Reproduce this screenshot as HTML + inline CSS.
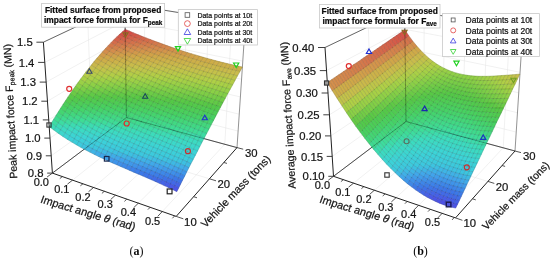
<!DOCTYPE html>
<html><head><meta charset="utf-8"><title>Fitted impact force surfaces</title>
<style>html,body{margin:0;padding:0;background:#fff;}svg{display:block;}</style></head>
<body><svg width="550" height="260" viewBox="0 0 550 260">
<rect width="550" height="260" fill="#fff"/>
<line x1="72.6" y1="180.1" x2="144.7" y2="122.5" stroke="#e2e2e2" stroke-width="0.5" />
<line x1="93.6" y1="187.4" x2="163.6" y2="127.6" stroke="#e2e2e2" stroke-width="0.5" />
<line x1="115.5" y1="195.1" x2="183.3" y2="132.9" stroke="#e2e2e2" stroke-width="0.5" />
<line x1="138.4" y1="203.1" x2="203.6" y2="138.5" stroke="#e2e2e2" stroke-width="0.5" />
<line x1="162.3" y1="211.5" x2="224.8" y2="144.2" stroke="#e2e2e2" stroke-width="0.5" />
<line x1="92.5" y1="143.0" x2="209.5" y2="178.8" stroke="#e2e2e2" stroke-width="0.5" />
<line x1="51.2" y1="155.8" x2="126.2" y2="102.3" stroke="#e2e2e2" stroke-width="0.5" />
<line x1="50.0" y1="138.1" x2="126.0" y2="86.8" stroke="#e2e2e2" stroke-width="0.5" />
<line x1="48.8" y1="119.9" x2="125.7" y2="70.9" stroke="#e2e2e2" stroke-width="0.5" />
<line x1="47.5" y1="101.2" x2="125.5" y2="54.7" stroke="#e2e2e2" stroke-width="0.5" />
<line x1="46.2" y1="82.1" x2="125.3" y2="38.1" stroke="#e2e2e2" stroke-width="0.5" />
<line x1="44.8" y1="62.4" x2="125.1" y2="21.1" stroke="#e2e2e2" stroke-width="0.5" />
<line x1="43.4" y1="42.2" x2="124.8" y2="3.8" stroke="#e2e2e2" stroke-width="0.5" />
<line x1="92.5" y1="143.0" x2="87.8" y2="21.2" stroke="#e2e2e2" stroke-width="0.5" />
<line x1="126.2" y1="102.3" x2="238.2" y2="131.1" stroke="#e2e2e2" stroke-width="0.5" />
<line x1="126.0" y1="86.8" x2="239.3" y2="114.2" stroke="#e2e2e2" stroke-width="0.5" />
<line x1="125.7" y1="70.9" x2="240.4" y2="96.9" stroke="#e2e2e2" stroke-width="0.5" />
<line x1="125.5" y1="54.7" x2="241.6" y2="79.2" stroke="#e2e2e2" stroke-width="0.5" />
<line x1="125.3" y1="38.1" x2="242.8" y2="61.1" stroke="#e2e2e2" stroke-width="0.5" />
<line x1="125.1" y1="21.1" x2="244.1" y2="42.5" stroke="#e2e2e2" stroke-width="0.5" />
<line x1="124.8" y1="3.8" x2="245.3" y2="23.4" stroke="#e2e2e2" stroke-width="0.5" />
<line x1="144.7" y1="122.5" x2="144.6" y2="7.0" stroke="#e2e2e2" stroke-width="0.5" />
<line x1="163.6" y1="127.6" x2="165.2" y2="10.3" stroke="#e2e2e2" stroke-width="0.5" />
<line x1="183.3" y1="132.9" x2="186.5" y2="13.8" stroke="#e2e2e2" stroke-width="0.5" />
<line x1="203.6" y1="138.5" x2="208.8" y2="17.4" stroke="#e2e2e2" stroke-width="0.5" />
<line x1="224.8" y1="144.2" x2="231.9" y2="21.2" stroke="#e2e2e2" stroke-width="0.5" />
<line x1="43.4" y1="42.2" x2="124.8" y2="3.8" stroke="#2a2a2a" stroke-width="0.7" />
<line x1="124.8" y1="3.8" x2="245.3" y2="23.4" stroke="#2a2a2a" stroke-width="0.7" />
<line x1="237.0" y1="147.6" x2="245.3" y2="23.4" stroke="#777" stroke-width="0.8" />
<line x1="52.4" y1="173.1" x2="126.4" y2="117.5" stroke="#2a2a2a" stroke-width="0.7" />
<line x1="126.4" y1="117.5" x2="237.0" y2="147.6" stroke="#2a2a2a" stroke-width="0.7" />
<line x1="126.4" y1="117.5" x2="124.8" y2="3.8" stroke="#2a2a2a" stroke-width="0.7" />
<g stroke-width="0.35" stroke-linejoin="round">
<polygon points="122.3,31.9 126.5,33.8 129.4,31.1 125.2,29.4" fill="#d44644" stroke="#d44644"/>
<polygon points="126.5,33.8 130.7,35.6 133.6,32.9 129.4,31.1" fill="#d44e46" stroke="#d44e46"/>
<polygon points="119.4,34.5 123.6,36.5 126.5,33.8 122.3,31.9" fill="#d44e46" stroke="#d44e46"/>
<polygon points="130.7,35.6 135.0,37.4 137.8,34.6 133.6,32.9" fill="#d55648" stroke="#d55648"/>
<polygon points="123.6,36.5 127.9,38.4 130.7,35.6 126.5,33.8" fill="#d55748" stroke="#d55748"/>
<polygon points="135.0,37.4 139.2,39.1 142.0,36.3 137.8,34.6" fill="#d55e49" stroke="#d55e49"/>
<polygon points="116.5,37.2 120.8,39.3 123.6,36.5 119.4,34.5" fill="#d55848" stroke="#d55848"/>
<polygon points="127.9,38.4 132.1,40.3 135.0,37.4 130.7,35.6" fill="#d5604a" stroke="#d5604a"/>
<polygon points="139.2,39.1 143.4,40.9 146.2,37.9 142.0,36.3" fill="#d5654a" stroke="#d5654a"/>
<polygon points="120.8,39.3 125.0,41.3 127.9,38.4 123.6,36.5" fill="#d5614a" stroke="#d5614a"/>
<polygon points="132.1,40.3 136.3,42.1 139.2,39.1 135.0,37.4" fill="#d5684a" stroke="#d5684a"/>
<polygon points="143.4,40.9 147.6,42.5 150.3,39.5 146.2,37.9" fill="#d56c4a" stroke="#d56c4a"/>
<polygon points="113.6,40.0 117.9,42.2 120.8,39.3 116.5,37.2" fill="#d5614a" stroke="#d5614a"/>
<polygon points="125.0,41.3 129.3,43.2 132.1,40.3 127.9,38.4" fill="#d56a4a" stroke="#d56a4a"/>
<polygon points="136.3,42.1 140.6,43.9 143.4,40.9 139.2,39.1" fill="#d56f4b" stroke="#d56f4b"/>
<polygon points="147.6,42.5 151.7,44.2 154.5,41.1 150.3,39.5" fill="#d5724b" stroke="#d5724b"/>
<polygon points="117.9,42.2 122.2,44.3 125.0,41.3 120.8,39.3" fill="#d56b4a" stroke="#d56b4a"/>
<polygon points="129.3,43.2 133.5,45.2 136.3,42.1 132.1,40.3" fill="#d5724b" stroke="#d5724b"/>
<polygon points="140.6,43.9 144.8,45.7 147.6,42.5 143.4,40.9" fill="#d5764b" stroke="#d5764b"/>
<polygon points="151.7,44.2 155.9,45.8 158.6,42.6 154.5,41.1" fill="#d4784b" stroke="#d4784b"/>
<polygon points="110.8,42.9 115.1,45.1 117.9,42.2 113.6,40.0" fill="#d56c4a" stroke="#d56c4a"/>
<polygon points="122.2,44.3 126.5,46.3 129.3,43.2 125.0,41.3" fill="#d5744b" stroke="#d5744b"/>
<polygon points="133.5,45.2 137.8,47.0 140.6,43.9 136.3,42.1" fill="#d47a4b" stroke="#d47a4b"/>
<polygon points="144.8,45.7 148.9,47.4 151.7,44.2 147.6,42.5" fill="#d47d4b" stroke="#d47d4b"/>
<polygon points="155.9,45.8 160.0,47.4 162.8,44.1 158.6,42.6" fill="#d47e4b" stroke="#d47e4b"/>
<polygon points="115.1,45.1 119.4,47.3 122.2,44.3 117.9,42.2" fill="#d5764b" stroke="#d5764b"/>
<polygon points="126.5,46.3 130.7,48.3 133.5,45.2 129.3,43.2" fill="#d47d4b" stroke="#d47d4b"/>
<polygon points="137.8,47.0 142.0,48.8 144.8,45.7 140.6,43.9" fill="#d4824b" stroke="#d4824b"/>
<polygon points="148.9,47.4 153.1,49.0 155.9,45.8 151.7,44.2" fill="#d4844c" stroke="#d4844c"/>
<polygon points="160.0,47.4 164.2,48.9 166.9,45.6 162.8,44.1" fill="#d4844c" stroke="#d4844c"/>
<polygon points="107.9,45.9 112.2,48.2 115.1,45.1 110.8,42.9" fill="#d5774b" stroke="#d5774b"/>
<polygon points="119.4,47.3 123.7,49.4 126.5,46.3 122.2,44.3" fill="#d4804b" stroke="#d4804b"/>
<polygon points="130.7,48.3 135.0,50.2 137.8,47.0 133.5,45.2" fill="#d4864c" stroke="#d4864c"/>
<polygon points="142.0,48.8 146.2,50.6 148.9,47.4 144.8,45.7" fill="#d4894c" stroke="#d4894c"/>
<polygon points="153.1,49.0 157.3,50.7 160.0,47.4 155.9,45.8" fill="#d48a4c" stroke="#d48a4c"/>
<polygon points="164.2,48.9 168.3,50.4 171.0,47.1 166.9,45.6" fill="#d4894c" stroke="#d4894c"/>
<polygon points="112.2,48.2 116.6,50.5 119.4,47.3 115.1,45.1" fill="#d4814b" stroke="#d4814b"/>
<polygon points="123.7,49.4 127.9,51.5 130.7,48.3 126.5,46.3" fill="#d4894c" stroke="#d4894c"/>
<polygon points="135.0,50.2 139.2,52.1 142.0,48.8 137.8,47.0" fill="#d48e4c" stroke="#d48e4c"/>
<polygon points="146.2,50.6 150.4,52.3 153.1,49.0 148.9,47.4" fill="#d4904c" stroke="#d4904c"/>
<polygon points="105.1,48.9 109.4,51.3 112.2,48.2 107.9,45.9" fill="#d4824b" stroke="#d4824b"/>
<polygon points="157.3,50.7 161.4,52.2 164.2,48.9 160.0,47.4" fill="#d4904c" stroke="#d4904c"/>
<polygon points="168.3,50.4 172.4,51.9 175.1,48.5 171.0,47.1" fill="#d48e4c" stroke="#d48e4c"/>
<polygon points="116.6,50.5 120.9,52.6 123.7,49.4 119.4,47.3" fill="#d48b4c" stroke="#d48b4c"/>
<polygon points="127.9,51.5 132.2,53.5 135.0,50.2 130.7,48.3" fill="#d4914c" stroke="#d4914c"/>
<polygon points="139.2,52.1 143.4,53.9 146.2,50.6 142.0,48.8" fill="#d3954b" stroke="#d3954b"/>
<polygon points="150.4,52.3 154.6,54.0 157.3,50.7 153.1,49.0" fill="#d3964b" stroke="#d3964b"/>
<polygon points="109.4,51.3 113.8,53.7 116.6,50.5 112.2,48.2" fill="#d48d4c" stroke="#d48d4c"/>
<polygon points="161.4,52.2 165.6,53.8 168.3,50.4 164.2,48.9" fill="#d3954b" stroke="#d3954b"/>
<polygon points="120.9,52.6 125.1,54.8 127.9,51.5 123.7,49.4" fill="#d3954b" stroke="#d3954b"/>
<polygon points="172.4,51.9 176.5,53.3 179.2,49.8 175.1,48.5" fill="#d3924c" stroke="#d3924c"/>
<polygon points="132.2,53.5 136.4,55.4 139.2,52.1 135.0,50.2" fill="#d2994a" stroke="#d2994a"/>
<polygon points="143.4,53.9 147.6,55.7 150.4,52.3 146.2,50.6" fill="#d29b4a" stroke="#d29b4a"/>
<polygon points="102.3,52.1 106.6,54.5 109.4,51.3 105.1,48.9" fill="#d48e4c" stroke="#d48e4c"/>
<polygon points="154.6,54.0 158.7,55.7 161.4,52.2 157.3,50.7" fill="#d29c4a" stroke="#d29c4a"/>
<polygon points="113.8,53.7 118.1,55.9 120.9,52.6 116.6,50.5" fill="#d2974b" stroke="#d2974b"/>
<polygon points="165.6,53.8 169.7,55.3 172.4,51.9 168.3,50.4" fill="#d29a4a" stroke="#d29a4a"/>
<polygon points="125.1,54.8 129.4,56.8 132.2,53.5 127.9,51.5" fill="#d19d4a" stroke="#d19d4a"/>
<polygon points="176.5,53.3 180.6,54.7 183.3,51.2 179.2,49.8" fill="#d3964b" stroke="#d3964b"/>
<polygon points="136.4,55.4 140.7,57.3 143.4,53.9 139.2,52.1" fill="#d1a149" stroke="#d1a149"/>
<polygon points="106.6,54.5 111.0,56.9 113.8,53.7 109.4,51.3" fill="#d2994b" stroke="#d2994b"/>
<polygon points="147.6,55.7 151.8,57.4 154.6,54.0 150.4,52.3" fill="#d1a249" stroke="#d1a249"/>
<polygon points="158.7,55.7 162.9,57.3 165.6,53.8 161.4,52.2" fill="#d1a149" stroke="#d1a149"/>
<polygon points="118.1,55.9 122.4,58.1 125.1,54.8 120.9,52.6" fill="#d1a049" stroke="#d1a049"/>
<polygon points="169.7,55.3 173.8,56.8 176.5,53.3 172.4,51.9" fill="#d19f4a" stroke="#d19f4a"/>
<polygon points="129.4,56.8 133.7,58.8 136.4,55.4 132.2,53.5" fill="#d0a549" stroke="#d0a549"/>
<polygon points="180.6,54.7 184.7,56.0 187.3,52.5 183.3,51.2" fill="#d29a4a" stroke="#d29a4a"/>
<polygon points="99.5,55.3 103.8,57.8 106.6,54.5 102.3,52.1" fill="#d29a4a" stroke="#d29a4a"/>
<polygon points="140.7,57.3 144.9,59.1 147.6,55.7 143.4,53.9" fill="#cfa848" stroke="#cfa848"/>
<polygon points="111.0,56.9 115.3,59.3 118.1,55.9 113.8,53.7" fill="#d0a349" stroke="#d0a349"/>
<polygon points="151.8,57.4 156.0,59.1 158.7,55.7 154.6,54.0" fill="#cfa848" stroke="#cfa848"/>
<polygon points="162.9,57.3 167.0,58.8 169.7,55.3 165.6,53.8" fill="#d0a649" stroke="#d0a649"/>
<polygon points="122.4,58.1 126.7,60.2 129.4,56.8 125.1,54.8" fill="#cfa948" stroke="#cfa948"/>
<polygon points="173.8,56.8 177.9,58.2 180.6,54.7 176.5,53.3" fill="#d0a349" stroke="#d0a349"/>
<polygon points="133.7,58.8 137.9,60.8 140.7,57.3 136.4,55.4" fill="#ceac48" stroke="#ceac48"/>
<polygon points="184.7,56.0 188.7,57.3 191.3,53.7 187.3,52.5" fill="#d19e4a" stroke="#d19e4a"/>
<polygon points="103.8,57.8 108.2,60.3 111.0,56.9 106.6,54.5" fill="#d0a549" stroke="#d0a549"/>
<polygon points="144.9,59.1 149.1,60.9 151.8,57.4 147.6,55.7" fill="#cead48" stroke="#cead48"/>
<polygon points="115.3,59.3 119.6,61.5 122.4,58.1 118.1,55.9" fill="#ceac48" stroke="#ceac48"/>
<polygon points="156.0,59.1 160.2,60.8 162.9,57.3 158.7,55.7" fill="#ceac48" stroke="#ceac48"/>
<polygon points="126.7,60.2 131.0,62.3 133.7,58.8 129.4,56.8" fill="#cdaf49" stroke="#cdaf49"/>
<polygon points="167.0,58.8 171.2,60.3 173.8,56.8 169.7,55.3" fill="#cfab48" stroke="#cfab48"/>
<polygon points="96.7,58.5 101.1,61.1 103.8,57.8 99.5,55.3" fill="#d0a649" stroke="#d0a649"/>
<polygon points="177.9,58.2 182.0,59.6 184.7,56.0 180.6,54.7" fill="#d0a748" stroke="#d0a748"/>
<polygon points="137.9,60.8 142.2,62.6 144.9,59.1 140.7,57.3" fill="#cdb049" stroke="#cdb049"/>
<polygon points="188.7,57.3 192.8,58.6 195.4,54.9 191.3,53.7" fill="#d1a149" stroke="#d1a149"/>
<polygon points="108.2,60.3 112.5,62.7 115.3,59.3 111.0,56.9" fill="#cead48" stroke="#cead48"/>
<polygon points="149.1,60.9 153.3,62.7 156.0,59.1 151.8,57.4" fill="#cdb049" stroke="#cdb049"/>
<polygon points="119.6,61.5 123.9,63.7 126.7,60.2 122.4,58.1" fill="#ccb149" stroke="#ccb149"/>
<polygon points="160.2,60.8 164.3,62.4 167.0,58.8 162.9,57.3" fill="#cdaf49" stroke="#cdaf49"/>
<polygon points="131.0,62.3 135.2,64.3 137.9,60.8 133.7,58.8" fill="#ccb349" stroke="#ccb349"/>
<polygon points="101.1,61.1 105.5,63.7 108.2,60.3 103.8,57.8" fill="#cdae49" stroke="#cdae49"/>
<polygon points="171.2,60.3 175.3,61.8 177.9,58.2 173.8,56.8" fill="#cead49" stroke="#cead49"/>
<polygon points="182.0,59.6 186.1,61.0 188.7,57.3 184.7,56.0" fill="#cfab48" stroke="#cfab48"/>
<polygon points="142.2,62.6 146.4,64.5 149.1,60.9 144.9,59.1" fill="#cbb44a" stroke="#cbb44a"/>
<polygon points="192.8,58.6 196.8,59.9 199.4,56.1 195.4,54.9" fill="#d0a449" stroke="#d0a449"/>
<polygon points="112.5,62.7 116.9,65.0 119.6,61.5 115.3,59.3" fill="#ccb349" stroke="#ccb349"/>
<polygon points="153.3,62.7 157.5,64.4 160.2,60.8 156.0,59.1" fill="#ccb449" stroke="#ccb449"/>
<polygon points="93.9,61.8 98.3,64.5 101.1,61.1 96.7,58.5" fill="#cdaf49" stroke="#cdaf49"/>
<polygon points="123.9,63.7 128.2,65.8 131.0,62.3 126.7,60.2" fill="#cbb64a" stroke="#cbb64a"/>
<polygon points="164.3,62.4 168.5,64.0 171.2,60.3 167.0,58.8" fill="#ccb349" stroke="#ccb349"/>
<polygon points="105.5,63.7 109.8,66.1 112.5,62.7 108.2,60.3" fill="#cbb54a" stroke="#cbb54a"/>
<polygon points="135.2,64.3 139.5,66.2 142.2,62.6 137.9,60.8" fill="#cab84a" stroke="#cab84a"/>
<polygon points="175.3,61.8 179.4,63.3 182.0,59.6 177.9,58.2" fill="#cdb049" stroke="#cdb049"/>
<polygon points="186.1,61.0 190.1,62.3 192.8,58.6 188.7,57.3" fill="#cead48" stroke="#cead48"/>
<polygon points="146.4,64.5 150.6,66.3 153.3,62.7 149.1,60.9" fill="#cab84a" stroke="#cab84a"/>
<polygon points="116.9,65.0 121.2,67.2 123.9,63.7 119.6,61.5" fill="#cab94a" stroke="#cab94a"/>
<polygon points="196.8,59.9 200.8,61.1 203.4,57.3 199.4,56.1" fill="#d0a748" stroke="#d0a748"/>
<polygon points="157.5,64.4 161.7,66.0 164.3,62.4 160.2,60.8" fill="#cab74a" stroke="#cab74a"/>
<polygon points="98.3,64.5 102.7,67.1 105.5,63.7 101.1,61.1" fill="#cbb64a" stroke="#cbb64a"/>
<polygon points="128.2,65.8 132.5,67.8 135.2,64.3 131.0,62.3" fill="#c9bb4b" stroke="#c9bb4b"/>
<polygon points="168.5,64.0 172.6,65.5 175.3,61.8 171.2,60.3" fill="#cbb54a" stroke="#cbb54a"/>
<polygon points="109.8,66.1 114.2,68.5 116.9,65.0 112.5,62.7" fill="#c9bb4b" stroke="#c9bb4b"/>
<polygon points="139.5,66.2 143.7,68.1 146.4,64.5 142.2,62.6" fill="#c9bc4b" stroke="#c9bc4b"/>
<polygon points="179.4,63.3 183.5,64.7 186.1,61.0 182.0,59.6" fill="#ccb349" stroke="#ccb349"/>
<polygon points="91.2,65.2 95.6,68.0 98.3,64.5 93.9,61.8" fill="#cab74a" stroke="#cab74a"/>
<polygon points="190.1,62.3 194.2,63.6 196.8,59.9 192.8,58.6" fill="#cdaf49" stroke="#cdaf49"/>
<polygon points="150.6,66.3 154.8,68.0 157.5,64.4 153.3,62.7" fill="#c9bc4b" stroke="#c9bc4b"/>
<polygon points="121.2,67.2 125.5,69.3 128.2,65.8 123.9,63.7" fill="#c7be4b" stroke="#c7be4b"/>
<polygon points="200.8,61.1 204.8,62.3 207.4,58.4 203.4,57.3" fill="#cfaa48" stroke="#cfaa48"/>
<polygon points="102.7,67.1 107.1,69.6 109.8,66.1 105.5,63.7" fill="#c8bd4b" stroke="#c8bd4b"/>
<polygon points="161.7,66.0 165.8,67.6 168.5,64.0 164.3,62.4" fill="#c9bb4a" stroke="#c9bb4a"/>
<polygon points="132.5,67.8 136.8,69.8 139.5,66.2 135.2,64.3" fill="#c6c04b" stroke="#c6c04b"/>
<polygon points="172.6,65.5 176.7,67.0 179.4,63.3 175.3,61.8" fill="#cab84a" stroke="#cab84a"/>
<polygon points="114.2,68.5 118.5,70.7 121.2,67.2 116.9,65.0" fill="#c4c14a" stroke="#c4c14a"/>
<polygon points="143.7,68.1 147.9,69.9 150.6,66.3 146.4,64.5" fill="#c5c04a" stroke="#c5c04a"/>
<polygon points="183.5,64.7 187.5,66.1 190.1,62.3 186.1,61.0" fill="#cbb54a" stroke="#cbb54a"/>
<polygon points="95.6,68.0 100.0,70.6 102.7,67.1 98.3,64.5" fill="#c8be4b" stroke="#c8be4b"/>
<polygon points="194.2,63.6 198.2,64.9 200.8,61.1 196.8,59.9" fill="#cdb149" stroke="#cdb149"/>
<polygon points="125.5,69.3 129.8,71.4 132.5,67.8 128.2,65.8" fill="#c2c24a" stroke="#c2c24a"/>
<polygon points="154.8,68.0 159.0,69.7 161.7,66.0 157.5,64.4" fill="#c6bf4b" stroke="#c6bf4b"/>
<polygon points="204.8,62.3 208.8,63.4 211.3,59.5 207.4,58.4" fill="#cfab48" stroke="#cfab48"/>
<polygon points="107.1,69.6 111.5,72.0 114.2,68.5 109.8,66.1" fill="#c2c24a" stroke="#c2c24a"/>
<polygon points="165.8,67.6 170.0,69.2 172.6,65.5 168.5,64.0" fill="#c8be4b" stroke="#c8be4b"/>
<polygon points="136.8,69.8 141.0,71.7 143.7,68.1 139.5,66.2" fill="#c1c34a" stroke="#c1c34a"/>
<polygon points="88.5,68.7 92.9,71.5 95.6,68.0 91.2,65.2" fill="#c7bf4b" stroke="#c7bf4b"/>
<polygon points="176.7,67.0 180.8,68.5 183.5,64.7 179.4,63.3" fill="#c9bb4b" stroke="#c9bb4b"/>
<polygon points="118.5,70.7 122.8,72.9 125.5,69.3 121.2,67.2" fill="#bfc549" stroke="#bfc549"/>
<polygon points="147.9,69.9 152.2,71.7 154.8,68.0 150.6,66.3" fill="#c1c34a" stroke="#c1c34a"/>
<polygon points="187.5,66.1 191.6,67.4 194.2,63.6 190.1,62.3" fill="#cab74a" stroke="#cab74a"/>
<polygon points="100.0,70.6 104.4,73.2 107.1,69.6 102.7,67.1" fill="#c0c449" stroke="#c0c449"/>
<polygon points="198.2,64.9 202.2,66.1 204.8,62.3 200.8,61.1" fill="#ccb249" stroke="#ccb249"/>
<polygon points="129.8,71.4 134.1,73.4 136.8,69.8 132.5,67.8" fill="#bdc649" stroke="#bdc649"/>
<polygon points="159.0,69.7 163.2,71.3 165.8,67.6 161.7,66.0" fill="#c3c24a" stroke="#c3c24a"/>
<polygon points="208.8,63.4 212.7,64.5 215.3,60.6 211.3,59.5" fill="#cead48" stroke="#cead48"/>
<polygon points="111.5,72.0 115.8,74.4 118.5,70.7 114.2,68.5" fill="#bcc749" stroke="#bcc749"/>
<polygon points="170.0,69.2 174.1,70.7 176.7,67.0 172.6,65.5" fill="#c5c04a" stroke="#c5c04a"/>
<polygon points="92.9,71.5 97.3,74.2 100.0,70.6 95.6,68.0" fill="#bfc549" stroke="#bfc549"/>
<polygon points="141.0,71.7 145.3,73.6 147.9,69.9 143.7,68.1" fill="#bdc649" stroke="#bdc649"/>
<polygon points="180.8,68.5 184.9,69.9 187.5,66.1 183.5,64.7" fill="#c8bd4b" stroke="#c8bd4b"/>
<polygon points="122.8,72.9 127.1,75.1 129.8,71.4 125.5,69.3" fill="#b9c948" stroke="#b9c948"/>
<polygon points="152.2,71.7 156.4,73.4 159.0,69.7 154.8,68.0" fill="#bec649" stroke="#bec649"/>
<polygon points="191.6,67.4 195.6,68.7 198.2,64.9 194.2,63.6" fill="#cab94a" stroke="#cab94a"/>
<polygon points="104.4,73.2 108.8,75.6 111.5,72.0 107.1,69.6" fill="#b9c948" stroke="#b9c948"/>
<polygon points="85.8,72.1 90.2,75.0 92.9,71.5 88.5,68.7" fill="#bec549" stroke="#bec549"/>
<polygon points="202.2,66.1 206.2,67.3 208.8,63.4 204.8,62.3" fill="#cbb44a" stroke="#cbb44a"/>
<polygon points="134.1,73.4 138.4,75.4 141.0,71.7 136.8,69.8" fill="#b8c948" stroke="#b8c948"/>
<polygon points="212.7,64.5 216.7,65.6 219.2,61.6 215.3,60.6" fill="#ceae49" stroke="#ceae49"/>
<polygon points="163.2,71.3 167.3,73.0 170.0,69.2 165.8,67.6" fill="#bfc449" stroke="#bfc449"/>
<polygon points="115.8,74.4 120.2,76.6 122.8,72.9 118.5,70.7" fill="#b6cb47" stroke="#b6cb47"/>
<polygon points="97.3,74.2 101.7,76.8 104.4,73.2 100.0,70.6" fill="#b7ca48" stroke="#b7ca48"/>
<polygon points="174.1,70.7 178.2,72.2 180.8,68.5 176.7,67.0" fill="#c2c24a" stroke="#c2c24a"/>
<polygon points="145.3,73.6 149.5,75.4 152.2,71.7 147.9,69.9" fill="#b8c948" stroke="#b8c948"/>
<polygon points="184.9,69.9 189.0,71.3 191.6,67.4 187.5,66.1" fill="#c6bf4b" stroke="#c6bf4b"/>
<polygon points="127.1,75.1 131.4,77.1 134.1,73.4 129.8,71.4" fill="#b4cc47" stroke="#b4cc47"/>
<polygon points="195.6,68.7 199.6,70.0 202.2,66.1 198.2,64.9" fill="#c9bb4b" stroke="#c9bb4b"/>
<polygon points="156.4,73.4 160.5,75.1 163.2,71.3 159.0,69.7" fill="#bac848" stroke="#bac848"/>
<polygon points="108.8,75.6 113.2,78.0 115.8,74.4 111.5,72.0" fill="#b3cd47" stroke="#b3cd47"/>
<polygon points="90.2,75.0 94.7,77.8 97.3,74.2 92.9,71.5" fill="#b6cb47" stroke="#b6cb47"/>
<polygon points="206.2,67.3 210.2,68.5 212.7,64.5 208.8,63.4" fill="#cbb64a" stroke="#cbb64a"/>
<polygon points="216.7,65.6 220.6,66.6 223.1,62.6 219.2,61.6" fill="#cdaf49" stroke="#cdaf49"/>
<polygon points="138.4,75.4 142.6,77.3 145.3,73.6 141.0,71.7" fill="#b4cd47" stroke="#b4cd47"/>
<polygon points="167.3,73.0 171.5,74.5 174.1,70.7 170.0,69.2" fill="#bcc649" stroke="#bcc649"/>
<polygon points="120.2,76.6 124.5,78.8 127.1,75.1 122.8,72.9" fill="#b0cf46" stroke="#b0cf46"/>
<polygon points="101.7,76.8 106.1,79.3 108.8,75.6 104.4,73.2" fill="#b0cf46" stroke="#b0cf46"/>
<polygon points="178.2,72.2 182.3,73.7 184.9,69.9 180.8,68.5" fill="#c0c449" stroke="#c0c449"/>
<polygon points="83.1,75.7 87.6,78.6 90.2,75.0 85.8,72.1" fill="#b5cc47" stroke="#b5cc47"/>
<polygon points="149.5,75.4 153.7,77.2 156.4,73.4 152.2,71.7" fill="#b4cc47" stroke="#b4cc47"/>
<polygon points="189.0,71.3 193.0,72.6 195.6,68.7 191.6,67.4" fill="#c4c14a" stroke="#c4c14a"/>
<polygon points="131.4,77.1 135.7,79.1 138.4,75.4 134.1,73.4" fill="#afd046" stroke="#afd046"/>
<polygon points="199.6,70.0 203.7,71.3 206.2,67.3 202.2,66.1" fill="#c8bd4b" stroke="#c8bd4b"/>
<polygon points="113.2,78.0 117.5,80.3 120.2,76.6 115.8,74.4" fill="#abd046" stroke="#abd046"/>
<polygon points="160.5,75.1 164.7,76.8 167.3,73.0 163.2,71.3" fill="#b6cb47" stroke="#b6cb47"/>
<polygon points="94.7,77.8 99.1,80.4 101.7,76.8 97.3,74.2" fill="#add046" stroke="#add046"/>
<polygon points="210.2,68.5 214.1,69.6 216.7,65.6 212.7,64.5" fill="#cab74a" stroke="#cab74a"/>
<polygon points="220.6,66.6 224.5,67.7 227.0,63.5 223.1,62.6" fill="#cdb049" stroke="#cdb049"/>
<polygon points="142.6,77.3 146.9,79.2 149.5,75.4 145.3,73.6" fill="#afd046" stroke="#afd046"/>
<polygon points="171.5,74.5 175.6,76.1 178.2,72.2 174.1,70.7" fill="#b9c948" stroke="#b9c948"/>
<polygon points="124.5,78.8 128.8,80.9 131.4,77.1 127.1,75.1" fill="#a8d046" stroke="#a8d046"/>
<polygon points="106.1,79.3 110.5,81.7 113.2,78.0 108.8,75.6" fill="#a6d046" stroke="#a6d046"/>
<polygon points="87.6,78.6 92.0,81.4 94.7,77.8 90.2,75.0" fill="#abd046" stroke="#abd046"/>
<polygon points="182.3,73.7 186.4,75.1 189.0,71.3 184.9,69.9" fill="#bdc649" stroke="#bdc649"/>
<polygon points="153.7,77.2 157.9,78.9 160.5,75.1 156.4,73.4" fill="#b1cf46" stroke="#b1cf46"/>
<polygon points="193.0,72.6 197.1,74.0 199.6,70.0 195.6,68.7" fill="#c2c24a" stroke="#c2c24a"/>
<polygon points="135.7,79.1 140.0,81.1 142.6,77.3 138.4,75.4" fill="#a8d046" stroke="#a8d046"/>
<polygon points="203.7,71.3 207.7,72.5 210.2,68.5 206.2,67.3" fill="#c7be4b" stroke="#c7be4b"/>
<polygon points="117.5,80.3 121.8,82.5 124.5,78.8 120.2,76.6" fill="#a1d046" stroke="#a1d046"/>
<polygon points="80.5,79.2 85.0,82.2 87.6,78.6 83.1,75.7" fill="#aad046" stroke="#aad046"/>
<polygon points="99.1,80.4 103.5,83.0 106.1,79.3 101.7,76.8" fill="#a1d046" stroke="#a1d046"/>
<polygon points="164.7,76.8 168.9,78.4 171.5,74.5 167.3,73.0" fill="#b3cd47" stroke="#b3cd47"/>
<polygon points="214.1,69.6 218.1,70.7 220.6,66.6 216.7,65.6" fill="#cab84a" stroke="#cab84a"/>
<polygon points="224.5,67.7 228.4,68.6 230.9,64.4 227.0,63.5" fill="#cdb149" stroke="#cdb149"/>
<polygon points="146.9,79.2 151.1,81.0 153.7,77.2 149.5,75.4" fill="#a9d046" stroke="#a9d046"/>
<polygon points="175.6,76.1 179.7,77.6 182.3,73.7 178.2,72.2" fill="#b6cb47" stroke="#b6cb47"/>
<polygon points="128.8,80.9 133.1,82.9 135.7,79.1 131.4,77.1" fill="#a0d046" stroke="#a0d046"/>
<polygon points="92.0,81.4 96.5,84.1 99.1,80.4 94.7,77.8" fill="#9ed046" stroke="#9ed046"/>
<polygon points="110.5,81.7 114.9,84.0 117.5,80.3 113.2,78.0" fill="#9cd046" stroke="#9cd046"/>
<polygon points="186.4,75.1 190.5,76.5 193.0,72.6 189.0,71.3" fill="#bbc848" stroke="#bbc848"/>
<polygon points="157.9,78.9 162.1,80.6 164.7,76.8 160.5,75.1" fill="#acd046" stroke="#acd046"/>
<polygon points="197.1,74.0 201.1,75.3 203.7,71.3 199.6,70.0" fill="#c0c449" stroke="#c0c449"/>
<polygon points="140.0,81.1 144.3,83.0 146.9,79.2 142.6,77.3" fill="#a0d046" stroke="#a0d046"/>
<polygon points="85.0,82.2 89.4,85.1 92.0,81.4 87.6,78.6" fill="#9cd046" stroke="#9cd046"/>
<polygon points="207.7,72.5 211.6,73.7 214.1,69.6 210.2,68.5" fill="#c6c04b" stroke="#c6c04b"/>
<polygon points="103.5,83.0 107.9,85.4 110.5,81.7 106.1,79.3" fill="#96d046" stroke="#96d046"/>
<polygon points="121.8,82.5 126.2,84.6 128.8,80.9 124.5,78.8" fill="#99d046" stroke="#99d046"/>
<polygon points="168.9,78.4 173.0,79.9 175.6,76.1 171.5,74.5" fill="#b0cf46" stroke="#b0cf46"/>
<polygon points="218.1,70.7 222.0,71.8 224.5,67.7 220.6,66.6" fill="#cab94a" stroke="#cab94a"/>
<polygon points="228.4,68.6 232.3,69.6 234.8,65.3 230.9,64.4" fill="#ccb149" stroke="#ccb149"/>
<polygon points="179.7,77.6 183.8,79.1 186.4,75.1 182.3,73.7" fill="#b4cd47" stroke="#b4cd47"/>
<polygon points="151.1,81.0 155.3,82.7 157.9,78.9 153.7,77.2" fill="#a3d046" stroke="#a3d046"/>
<polygon points="77.9,82.8 82.4,85.8 85.0,82.2 80.5,79.2" fill="#9ad046" stroke="#9ad046"/>
<polygon points="96.5,84.1 100.9,86.7 103.5,83.0 99.1,80.4" fill="#92d046" stroke="#92d046"/>
<polygon points="133.1,82.9 137.4,84.9 140.0,81.1 135.7,79.1" fill="#98d046" stroke="#98d046"/>
<polygon points="114.9,84.0 119.2,86.3 121.8,82.5 117.5,80.3" fill="#92d046" stroke="#92d046"/>
<polygon points="190.5,76.5 194.5,77.9 197.1,74.0 193.0,72.6" fill="#b8c948" stroke="#b8c948"/>
<polygon points="162.1,80.6 166.3,82.2 168.9,78.4 164.7,76.8" fill="#a7d046" stroke="#a7d046"/>
<polygon points="201.1,75.3 205.1,76.5 207.7,72.5 203.7,71.3" fill="#bec549" stroke="#bec549"/>
<polygon points="89.4,85.1 93.9,87.8 96.5,84.1 92.0,81.4" fill="#8ed046" stroke="#8ed046"/>
<polygon points="144.3,83.0 148.5,84.8 151.1,81.0 146.9,79.2" fill="#9ad046" stroke="#9ad046"/>
<polygon points="211.6,73.7 215.6,74.9 218.1,70.7 214.1,69.6" fill="#c4c14a" stroke="#c4c14a"/>
<polygon points="107.9,85.4 112.3,87.8 114.9,84.0 110.5,81.7" fill="#8cd046" stroke="#8cd046"/>
<polygon points="126.2,84.6 130.5,86.7 133.1,82.9 128.8,80.9" fill="#91d046" stroke="#91d046"/>
<polygon points="173.0,79.9 177.2,81.5 179.7,77.6 175.6,76.1" fill="#acd046" stroke="#acd046"/>
<polygon points="222.0,71.8 225.9,72.9 228.4,68.6 224.5,67.7" fill="#c9ba4a" stroke="#c9ba4a"/>
<polygon points="232.3,69.6 236.1,70.5 238.6,66.2 234.8,65.3" fill="#ccb249" stroke="#ccb249"/>
<polygon points="82.4,85.8 86.8,88.8 89.4,85.1 85.0,82.2" fill="#8cd046" stroke="#8cd046"/>
<polygon points="183.8,79.1 187.9,80.5 190.5,76.5 186.4,75.1" fill="#b1ce46" stroke="#b1ce46"/>
<polygon points="155.3,82.7 159.5,84.4 162.1,80.6 157.9,78.9" fill="#9dd046" stroke="#9dd046"/>
<polygon points="100.9,86.7 105.3,89.2 107.9,85.4 103.5,83.0" fill="#87cf46" stroke="#87cf46"/>
<polygon points="137.4,84.9 141.6,86.8 144.3,83.0 140.0,81.1" fill="#91d046" stroke="#91d046"/>
<polygon points="119.2,86.3 123.6,88.4 126.2,84.6 121.8,82.5" fill="#89d046" stroke="#89d046"/>
<polygon points="194.5,77.9 198.6,79.3 201.1,75.3 197.1,74.0" fill="#b6cb47" stroke="#b6cb47"/>
<polygon points="75.3,86.4 79.8,89.5 82.4,85.8 77.9,82.8" fill="#8bd046" stroke="#8bd046"/>
<polygon points="166.3,82.2 170.5,83.8 173.0,79.9 168.9,78.4" fill="#a2d046" stroke="#a2d046"/>
<polygon points="205.1,76.5 209.1,77.8 211.6,73.7 207.7,72.5" fill="#bcc749" stroke="#bcc749"/>
<polygon points="93.9,87.8 98.3,90.4 100.9,86.7 96.5,84.1" fill="#82cf46" stroke="#82cf46"/>
<polygon points="215.6,74.9 219.5,76.0 222.0,71.8 218.1,70.7" fill="#c3c24a" stroke="#c3c24a"/>
<polygon points="148.5,84.8 152.7,86.6 155.3,82.7 151.1,81.0" fill="#94d046" stroke="#94d046"/>
<polygon points="112.3,87.8 116.6,90.1 119.2,86.3 114.9,84.0" fill="#82cf46" stroke="#82cf46"/>
<polygon points="130.5,86.7 134.8,88.7 137.4,84.9 133.1,82.9" fill="#89d046" stroke="#89d046"/>
<polygon points="177.2,81.5 181.3,83.0 183.8,79.1 179.7,77.6" fill="#a8d046" stroke="#a8d046"/>
<polygon points="225.9,72.9 229.8,73.9 232.3,69.6 228.4,68.6" fill="#c9bb4b" stroke="#c9bb4b"/>
<polygon points="236.1,70.5 240.0,71.4 242.4,67.0 238.6,66.2" fill="#ccb249" stroke="#ccb249"/>
<polygon points="86.8,88.8 91.3,91.5 93.9,87.8 89.4,85.1" fill="#7ece46" stroke="#7ece46"/>
<polygon points="187.9,80.5 192.0,81.9 194.5,77.9 190.5,76.5" fill="#afd046" stroke="#afd046"/>
<polygon points="159.5,84.4 163.7,86.1 166.3,82.2 162.1,80.6" fill="#98d046" stroke="#98d046"/>
<polygon points="105.3,89.2 109.7,91.6 112.3,87.8 107.9,85.4" fill="#7cce46" stroke="#7cce46"/>
<polygon points="141.6,86.8 145.9,88.7 148.5,84.8 144.3,83.0" fill="#8ad046" stroke="#8ad046"/>
<polygon points="123.6,88.4 127.9,90.5 130.5,86.7 126.2,84.6" fill="#81ce46" stroke="#81ce46"/>
<polygon points="198.6,79.3 202.6,80.6 205.1,76.5 201.1,75.3" fill="#b4cc47" stroke="#b4cc47"/>
<polygon points="79.8,89.5 84.3,92.5 86.8,88.8 82.4,85.8" fill="#7cce46" stroke="#7cce46"/>
<polygon points="170.5,83.8 174.6,85.4 177.2,81.5 173.0,79.9" fill="#9dd046" stroke="#9dd046"/>
<polygon points="209.1,77.8 213.1,79.0 215.6,74.9 211.6,73.7" fill="#bbc848" stroke="#bbc848"/>
<polygon points="98.3,90.4 102.7,93.0 105.3,89.2 100.9,86.7" fill="#76cd46" stroke="#76cd46"/>
<polygon points="219.5,76.0 223.4,77.1 225.9,72.9 222.0,71.8" fill="#c2c24a" stroke="#c2c24a"/>
<polygon points="152.7,86.6 156.9,88.3 159.5,84.4 155.3,82.7" fill="#8ed046" stroke="#8ed046"/>
<polygon points="116.6,90.1 121.0,92.3 123.6,88.4 119.2,86.3" fill="#79cd46" stroke="#79cd46"/>
<polygon points="72.7,90.1 77.3,93.2 79.8,89.5 75.3,86.4" fill="#7acd46" stroke="#7acd46"/>
<polygon points="134.8,88.7 139.1,90.6 141.6,86.8 137.4,84.9" fill="#81ce46" stroke="#81ce46"/>
<polygon points="181.3,83.0 185.4,84.5 187.9,80.5 183.8,79.1" fill="#a3d046" stroke="#a3d046"/>
<polygon points="229.8,73.9 233.7,74.9 236.1,70.5 232.3,69.6" fill="#c9bc4b" stroke="#c9bc4b"/>
<polygon points="91.3,91.5 95.7,94.2 98.3,90.4 93.9,87.8" fill="#71cc46" stroke="#71cc46"/>
<polygon points="192.0,81.9 196.0,83.3 198.6,79.3 194.5,77.9" fill="#abd046" stroke="#abd046"/>
<polygon points="163.7,86.1 167.9,87.8 170.5,83.8 166.3,82.2" fill="#92d046" stroke="#92d046"/>
<polygon points="109.7,91.6 114.1,93.9 116.6,90.1 112.3,87.8" fill="#72cc46" stroke="#72cc46"/>
<polygon points="145.9,88.7 150.1,90.5 152.7,86.6 148.5,84.8" fill="#84cf46" stroke="#84cf46"/>
<polygon points="127.9,90.5 132.2,92.6 134.8,88.7 130.5,86.7" fill="#78cd46" stroke="#78cd46"/>
<polygon points="202.6,80.6 206.6,81.9 209.1,77.8 205.1,76.5" fill="#b2ce47" stroke="#b2ce47"/>
<polygon points="84.3,92.5 88.8,95.3 91.3,91.5 86.8,88.8" fill="#6ecc46" stroke="#6ecc46"/>
<polygon points="174.6,85.4 178.7,87.0 181.3,83.0 177.2,81.5" fill="#98d046" stroke="#98d046"/>
<polygon points="213.1,79.0 217.0,80.2 219.5,76.0 215.6,74.9" fill="#b9c948" stroke="#b9c948"/>
<polygon points="102.7,93.0 107.1,95.4 109.7,91.6 105.3,89.2" fill="#6bcb46" stroke="#6bcb46"/>
<polygon points="223.4,77.1 227.3,78.2 229.8,73.9 225.9,72.9" fill="#c1c34a" stroke="#c1c34a"/>
<polygon points="77.3,93.2 81.8,96.2 84.3,92.5 79.8,89.5" fill="#6bcb46" stroke="#6bcb46"/>
<polygon points="156.9,88.3 161.1,90.0 163.7,86.1 159.5,84.4" fill="#88cf46" stroke="#88cf46"/>
<polygon points="121.0,92.3 125.3,94.4 127.9,90.5 123.6,88.4" fill="#70cc46" stroke="#70cc46"/>
<polygon points="233.7,74.9 237.5,75.8 240.0,71.4 236.1,70.5" fill="#c9bc4b" stroke="#c9bc4b"/>
<polygon points="185.4,84.5 189.5,85.9 192.0,81.9 187.9,80.5" fill="#9fd046" stroke="#9fd046"/>
<polygon points="139.1,90.6 143.3,92.5 145.9,88.7 141.6,86.8" fill="#7acd46" stroke="#7acd46"/>
<polygon points="95.7,94.2 100.2,96.8 102.7,93.0 98.3,90.4" fill="#65ca46" stroke="#65ca46"/>
<polygon points="70.2,93.7 74.8,96.9 77.3,93.2 72.7,90.1" fill="#6acb46" stroke="#6acb46"/>
<polygon points="196.0,83.3 200.1,84.7 202.6,80.6 198.6,79.3" fill="#a8d046" stroke="#a8d046"/>
<polygon points="167.9,87.8 172.0,89.4 174.6,85.4 170.5,83.8" fill="#8dd046" stroke="#8dd046"/>
<polygon points="114.1,93.9 118.4,96.1 121.0,92.3 116.6,90.1" fill="#68cb46" stroke="#68cb46"/>
<polygon points="206.6,81.9 210.6,83.2 213.1,79.0 209.1,77.8" fill="#b1cf46" stroke="#b1cf46"/>
<polygon points="88.8,95.3 93.2,98.0 95.7,94.2 91.3,91.5" fill="#61ca46" stroke="#61ca46"/>
<polygon points="150.1,90.5 154.4,92.2 156.9,88.3 152.7,86.6" fill="#7ece46" stroke="#7ece46"/>
<polygon points="132.2,92.6 136.5,94.5 139.1,90.6 134.8,88.7" fill="#71cc46" stroke="#71cc46"/>
<polygon points="217.0,80.2 221.0,81.4 223.4,77.1 219.5,76.0" fill="#b8ca48" stroke="#b8ca48"/>
<polygon points="178.7,87.0 182.8,88.5 185.4,84.5 181.3,83.0" fill="#94d046" stroke="#94d046"/>
<polygon points="107.1,95.4 111.5,97.7 114.1,93.9 109.7,91.6" fill="#61ca46" stroke="#61ca46"/>
<polygon points="227.3,78.2 231.2,79.2 233.7,74.9 229.8,73.9" fill="#c0c449" stroke="#c0c449"/>
<polygon points="81.8,96.2 86.2,99.1 88.8,95.3 84.3,92.5" fill="#5dc946" stroke="#5dc946"/>
<polygon points="161.1,90.0 165.3,91.7 167.9,87.8 163.7,86.1" fill="#82cf46" stroke="#82cf46"/>
<polygon points="125.3,94.4 129.6,96.4 132.2,92.6 127.9,90.5" fill="#68cb46" stroke="#68cb46"/>
<polygon points="189.5,85.9 193.5,87.4 196.0,83.3 192.0,81.9" fill="#9cd046" stroke="#9cd046"/>
<polygon points="143.3,92.5 147.6,94.4 150.1,90.5 145.9,88.7" fill="#74cc46" stroke="#74cc46"/>
<polygon points="100.2,96.8 104.6,99.2 107.1,95.4 102.7,93.0" fill="#5ac946" stroke="#5ac946"/>
<polygon points="74.8,96.9 79.3,99.9 81.8,96.2 77.3,93.2" fill="#5ac946" stroke="#5ac946"/>
<polygon points="200.1,84.7 204.1,86.0 206.6,81.9 202.6,80.6" fill="#a4d046" stroke="#a4d046"/>
<polygon points="172.0,89.4 176.2,91.0 178.7,87.0 174.6,85.4" fill="#89d046" stroke="#89d046"/>
<polygon points="118.4,96.1 122.8,98.3 125.3,94.4 121.0,92.3" fill="#60ca46" stroke="#60ca46"/>
<polygon points="67.7,97.4 72.3,100.6 74.8,96.9 70.2,93.7" fill="#59c946" stroke="#59c946"/>
<polygon points="210.6,83.2 214.6,84.4 217.0,80.2 213.1,79.0" fill="#afd046" stroke="#afd046"/>
<polygon points="93.2,98.0 97.7,100.6 100.2,96.8 95.7,94.2" fill="#55c846" stroke="#55c846"/>
<polygon points="154.4,92.2 158.6,94.0 161.1,90.0 156.9,88.3" fill="#78cd46" stroke="#78cd46"/>
<polygon points="136.5,94.5 140.8,96.4 143.3,92.5 139.1,90.6" fill="#6acb46" stroke="#6acb46"/>
<polygon points="221.0,81.4 224.9,82.5 227.3,78.2 223.4,77.1" fill="#b6cb47" stroke="#b6cb47"/>
<polygon points="182.8,88.5 186.9,90.0 189.5,85.9 185.4,84.5" fill="#90d046" stroke="#90d046"/>
<polygon points="231.2,79.2 235.1,80.3 237.5,75.8 233.7,74.9" fill="#bfc549" stroke="#bfc549"/>
<polygon points="111.5,97.7 115.9,100.0 118.4,96.1 114.1,93.9" fill="#58c846" stroke="#58c846"/>
<polygon points="86.2,99.1 90.7,101.8 93.2,98.0 88.8,95.3" fill="#53c949" stroke="#53c949"/>
<polygon points="165.3,91.7 169.5,93.4 172.0,89.4 167.9,87.8" fill="#7dce46" stroke="#7dce46"/>
<polygon points="193.5,87.4 197.6,88.8 200.1,84.7 196.0,83.3" fill="#98d046" stroke="#98d046"/>
<polygon points="129.6,96.4 133.9,98.4 136.5,94.5 132.2,92.6" fill="#60ca46" stroke="#60ca46"/>
<polygon points="147.6,94.4 151.8,96.2 154.4,92.2 150.1,90.5" fill="#6dcc46" stroke="#6dcc46"/>
<polygon points="79.3,99.9 83.8,102.8 86.2,99.1 81.8,96.2" fill="#52ca4c" stroke="#52ca4c"/>
<polygon points="104.6,99.2 109.0,101.6 111.5,97.7 107.1,95.4" fill="#54c949" stroke="#54c949"/>
<polygon points="204.1,86.0 208.1,87.3 210.6,83.2 206.6,81.9" fill="#a1d046" stroke="#a1d046"/>
<polygon points="176.2,91.0 180.3,92.5 182.8,88.5 178.7,87.0" fill="#84cf46" stroke="#84cf46"/>
<polygon points="72.3,100.6 76.8,103.7 79.3,99.9 74.8,96.9" fill="#51ca4d" stroke="#51ca4d"/>
<polygon points="122.8,98.3 127.1,100.3 129.6,96.4 125.3,94.4" fill="#57c846" stroke="#57c846"/>
<polygon points="214.6,84.4 218.5,85.6 221.0,81.4 217.0,80.2" fill="#acd046" stroke="#acd046"/>
<polygon points="97.7,100.6 102.1,103.1 104.6,99.2 100.2,96.8" fill="#52ca4d" stroke="#52ca4d"/>
<polygon points="158.6,94.0 162.8,95.7 165.3,91.7 161.1,90.0" fill="#72cc46" stroke="#72cc46"/>
<polygon points="140.8,96.4 145.0,98.3 147.6,94.4 143.3,92.5" fill="#63ca46" stroke="#63ca46"/>
<polygon points="224.9,82.5 228.8,83.6 231.2,79.2 227.3,78.2" fill="#b5cc47" stroke="#b5cc47"/>
<polygon points="65.3,101.1 69.9,104.3 72.3,100.6 67.7,97.4" fill="#51cb4e" stroke="#51cb4e"/>
<polygon points="186.9,90.0 191.0,91.5 193.5,87.4 189.5,85.9" fill="#8cd046" stroke="#8cd046"/>
<polygon points="90.7,101.8 95.2,104.4 97.7,100.6 93.2,98.0" fill="#50cc51" stroke="#50cc51"/>
<polygon points="115.9,100.0 120.2,102.1 122.8,98.3 118.4,96.1" fill="#53c94a" stroke="#53c94a"/>
<polygon points="197.6,88.8 201.6,90.2 204.1,86.0 200.1,84.7" fill="#94d046" stroke="#94d046"/>
<polygon points="169.5,93.4 173.7,95.0 176.2,91.0 172.0,89.4" fill="#78cd46" stroke="#78cd46"/>
<polygon points="133.9,98.4 138.2,100.4 140.8,96.4 136.5,94.5" fill="#59c946" stroke="#59c946"/>
<polygon points="83.8,102.8 88.2,105.6 90.7,101.8 86.2,99.1" fill="#4ecd54" stroke="#4ecd54"/>
<polygon points="151.8,96.2 156.1,98.0 158.6,94.0 154.4,92.2" fill="#67cb46" stroke="#67cb46"/>
<polygon points="109.0,101.6 113.4,103.8 115.9,100.0 111.5,97.7" fill="#51cb4f" stroke="#51cb4f"/>
<polygon points="208.1,87.3 212.1,88.6 214.6,84.4 210.6,83.2" fill="#9ed046" stroke="#9ed046"/>
<polygon points="76.8,103.7 81.3,106.6 83.8,102.8 79.3,99.9" fill="#4dcd56" stroke="#4dcd56"/>
<polygon points="180.3,92.5 184.4,94.0 186.9,90.0 182.8,88.5" fill="#7fce46" stroke="#7fce46"/>
<polygon points="218.5,85.6 222.4,86.8 224.9,82.5 221.0,81.4" fill="#aad046" stroke="#aad046"/>
<polygon points="127.1,100.3 131.4,102.4 133.9,98.4 129.6,96.4" fill="#53c949" stroke="#53c949"/>
<polygon points="102.1,103.1 106.5,105.4 109.0,101.6 104.6,99.2" fill="#4ecc53" stroke="#4ecc53"/>
<polygon points="162.8,95.7 167.0,97.4 169.5,93.4 165.3,91.7" fill="#6dcb46" stroke="#6dcb46"/>
<polygon points="228.8,83.6 232.7,84.7 235.1,80.3 231.2,79.2" fill="#b4cc47" stroke="#b4cc47"/>
<polygon points="69.9,104.3 74.4,107.4 76.8,103.7 72.3,100.6" fill="#4cce58" stroke="#4cce58"/>
<polygon points="145.0,98.3 149.3,100.1 151.8,96.2 147.6,94.4" fill="#5dc946" stroke="#5dc946"/>
<polygon points="191.0,91.5 195.1,92.9 197.6,88.8 193.5,87.4" fill="#88cf46" stroke="#88cf46"/>
<polygon points="95.2,104.4 99.6,106.9 102.1,103.1 97.7,100.6" fill="#4cce57" stroke="#4cce57"/>
<polygon points="62.9,104.7 67.5,108.0 69.9,104.3 65.3,101.1" fill="#4cce58" stroke="#4cce58"/>
<polygon points="120.2,102.1 124.6,104.2 127.1,100.3 122.8,98.3" fill="#51cb4f" stroke="#51cb4f"/>
<polygon points="201.6,90.2 205.6,91.5 208.1,87.3 204.1,86.0" fill="#91d046" stroke="#91d046"/>
<polygon points="173.7,95.0 177.8,96.6 180.3,92.5 176.2,91.0" fill="#74cc46" stroke="#74cc46"/>
<polygon points="138.2,100.4 142.5,102.3 145.0,98.3 140.8,96.4" fill="#54c847" stroke="#54c847"/>
<polygon points="88.2,105.6 92.7,108.2 95.2,104.4 90.7,101.8" fill="#4acf5b" stroke="#4acf5b"/>
<polygon points="156.1,98.0 160.3,99.7 162.8,95.7 158.6,94.0" fill="#62ca46" stroke="#62ca46"/>
<polygon points="212.1,88.6 216.0,89.9 218.5,85.6 214.6,84.4" fill="#9cd046" stroke="#9cd046"/>
<polygon points="113.4,103.8 117.7,106.0 120.2,102.1 115.9,100.0" fill="#4ecd54" stroke="#4ecd54"/>
<polygon points="81.3,106.6 85.8,109.4 88.2,105.6 83.8,102.8" fill="#49d05e" stroke="#49d05e"/>
<polygon points="184.4,94.0 188.5,95.5 191.0,91.5 186.9,90.0" fill="#7bce46" stroke="#7bce46"/>
<polygon points="222.4,86.8 226.3,88.0 228.8,83.6 224.9,82.5" fill="#a8d046" stroke="#a8d046"/>
<polygon points="131.4,102.4 135.7,104.3 138.2,100.4 133.9,98.4" fill="#51ca4d" stroke="#51ca4d"/>
<polygon points="106.5,105.4 110.9,107.7 113.4,103.8 109.0,101.6" fill="#4bce59" stroke="#4bce59"/>
<polygon points="74.4,107.4 78.9,110.4 81.3,106.6 76.8,103.7" fill="#48d160" stroke="#48d160"/>
<polygon points="167.0,97.4 171.2,99.0 173.7,95.0 169.5,93.4" fill="#68cb46" stroke="#68cb46"/>
<polygon points="149.3,100.1 153.5,101.9 156.1,98.0 151.8,96.2" fill="#57c846" stroke="#57c846"/>
<polygon points="195.1,92.9 199.1,94.3 201.6,90.2 197.6,88.8" fill="#84cf46" stroke="#84cf46"/>
<polygon points="67.5,108.0 72.0,111.2 74.4,107.4 69.9,104.3" fill="#47d162" stroke="#47d162"/>
<polygon points="99.6,106.9 104.0,109.3 106.5,105.4 102.1,103.1" fill="#49d05e" stroke="#49d05e"/>
<polygon points="124.6,104.2 128.9,106.3 131.4,102.4 127.1,100.3" fill="#4ecc53" stroke="#4ecc53"/>
<polygon points="205.6,91.5 209.6,92.9 212.1,88.6 208.1,87.3" fill="#8ed046" stroke="#8ed046"/>
<polygon points="60.5,108.4 65.1,111.8 67.5,108.0 62.9,104.7" fill="#47d263" stroke="#47d263"/>
<polygon points="177.8,96.6 181.9,98.1 184.4,94.0 180.3,92.5" fill="#6fcc46" stroke="#6fcc46"/>
<polygon points="92.7,108.2 97.2,110.8 99.6,106.9 95.2,104.4" fill="#47d162" stroke="#47d162"/>
<polygon points="142.5,102.3 146.8,104.1 149.3,100.1 145.0,98.3" fill="#52ca4b" stroke="#52ca4b"/>
<polygon points="160.3,99.7 164.5,101.4 167.0,97.4 162.8,95.7" fill="#5dc946" stroke="#5dc946"/>
<polygon points="216.0,89.9 220.0,91.2 222.4,86.8 218.5,85.6" fill="#99d046" stroke="#99d046"/>
<polygon points="117.7,106.0 122.1,108.2 124.6,104.2 120.2,102.1" fill="#4bce59" stroke="#4bce59"/>
<polygon points="85.8,109.4 90.3,112.1 92.7,108.2 88.2,105.6" fill="#46d266" stroke="#46d266"/>
<polygon points="226.3,88.0 230.2,89.2 232.7,84.7 228.8,83.6" fill="#a5d046" stroke="#a5d046"/>
<polygon points="188.5,95.5 192.6,97.0 195.1,92.9 191.0,91.5" fill="#77cd46" stroke="#77cd46"/>
<polygon points="78.9,110.4 83.4,113.2 85.8,109.4 81.3,106.6" fill="#45d36b" stroke="#45d36b"/>
<polygon points="135.7,104.3 140.0,106.2 142.5,102.3 138.2,100.4" fill="#4fcc52" stroke="#4fcc52"/>
<polygon points="110.9,107.7 115.3,110.0 117.7,106.0 113.4,103.8" fill="#49d05e" stroke="#49d05e"/>
<polygon points="171.2,99.0 175.3,100.6 177.8,96.6 173.7,95.0" fill="#63ca46" stroke="#63ca46"/>
<polygon points="199.1,94.3 203.2,95.7 205.6,91.5 201.6,90.2" fill="#80ce46" stroke="#80ce46"/>
<polygon points="153.5,101.9 157.8,103.7 160.3,99.7 156.1,98.0" fill="#54c948" stroke="#54c948"/>
<polygon points="72.0,111.2 76.5,114.2 78.9,110.4 74.4,107.4" fill="#44d46e" stroke="#44d46e"/>
<polygon points="104.0,109.3 108.4,111.6 110.9,107.7 106.5,105.4" fill="#46d263" stroke="#46d263"/>
<polygon points="209.6,92.9 213.6,94.2 216.0,89.9 212.1,88.6" fill="#8bd046" stroke="#8bd046"/>
<polygon points="65.1,111.8 69.6,114.9 72.0,111.2 67.5,108.0" fill="#44d470" stroke="#44d470"/>
<polygon points="128.9,106.3 133.2,108.3 135.7,104.3 131.4,102.4" fill="#4cce58" stroke="#4cce58"/>
<polygon points="181.9,98.1 186.0,99.7 188.5,95.5 184.4,94.0" fill="#6bcb46" stroke="#6bcb46"/>
<polygon points="97.2,110.8 101.6,113.2 104.0,109.3 99.6,106.9" fill="#45d36a" stroke="#45d36a"/>
<polygon points="58.2,112.1 62.8,115.5 65.1,111.8 60.5,108.4" fill="#44d571" stroke="#44d571"/>
<polygon points="220.0,91.2 223.9,92.4 226.3,88.0 222.4,86.8" fill="#96d046" stroke="#96d046"/>
<polygon points="146.8,104.1 151.1,105.9 153.5,101.9 149.3,100.1" fill="#51cb4f" stroke="#51cb4f"/>
<polygon points="164.5,101.4 168.7,103.0 171.2,99.0 167.0,97.4" fill="#57c846" stroke="#57c846"/>
<polygon points="122.1,108.2 126.4,110.2 128.9,106.3 124.6,104.2" fill="#49d05e" stroke="#49d05e"/>
<polygon points="90.3,112.1 94.7,114.6 97.2,110.8 92.7,108.2" fill="#44d470" stroke="#44d470"/>
<polygon points="192.6,97.0 196.7,98.5 199.1,94.3 195.1,92.9" fill="#73cc46" stroke="#73cc46"/>
<polygon points="83.4,113.2 87.9,115.9 90.3,112.1 85.8,109.4" fill="#43d676" stroke="#43d676"/>
<polygon points="140.0,106.2 144.3,108.1 146.8,104.1 142.5,102.3" fill="#4dcd55" stroke="#4dcd55"/>
<polygon points="115.3,110.0 119.6,112.1 122.1,108.2 117.7,106.0" fill="#46d263" stroke="#46d263"/>
<polygon points="175.3,100.6 179.5,102.2 181.9,98.1 177.8,96.6" fill="#5ec946" stroke="#5ec946"/>
<polygon points="203.2,95.7 207.2,97.1 209.6,92.9 205.6,91.5" fill="#7dce46" stroke="#7dce46"/>
<polygon points="157.8,103.7 162.0,105.4 164.5,101.4 160.3,99.7" fill="#52ca4b" stroke="#52ca4b"/>
<polygon points="76.5,114.2 81.0,117.0 83.4,113.2 78.9,110.4" fill="#42d67a" stroke="#42d67a"/>
<polygon points="69.6,114.9 74.2,118.0 76.5,114.2 72.0,111.2" fill="#42d77e" stroke="#42d77e"/>
<polygon points="108.4,111.6 112.8,113.9 115.3,110.0 110.9,107.7" fill="#45d36b" stroke="#45d36b"/>
<polygon points="213.6,94.2 217.5,95.5 220.0,91.2 216.0,89.9" fill="#88cf46" stroke="#88cf46"/>
<polygon points="133.2,108.3 137.6,110.2 140.0,106.2 135.7,104.3" fill="#4acf5c" stroke="#4acf5c"/>
<polygon points="186.0,99.7 190.1,101.2 192.6,97.0 188.5,95.5" fill="#66cb46" stroke="#66cb46"/>
<polygon points="62.8,115.5 67.3,118.7 69.6,114.9 65.1,111.8" fill="#42d880" stroke="#42d880"/>
<polygon points="223.9,92.4 227.8,93.6 230.2,89.2 226.3,88.0" fill="#94d046" stroke="#94d046"/>
<polygon points="101.6,113.2 106.0,115.5 108.4,111.6 104.0,109.3" fill="#44d573" stroke="#44d573"/>
<polygon points="151.1,105.9 155.3,107.7 157.8,103.7 153.5,101.9" fill="#4fcc52" stroke="#4fcc52"/>
<polygon points="55.9,115.7 60.5,119.2 62.8,115.5 58.2,112.1" fill="#41d881" stroke="#41d881"/>
<polygon points="168.7,103.0 172.8,104.7 175.3,100.6 171.2,99.0" fill="#54c847" stroke="#54c847"/>
<polygon points="126.4,110.2 130.8,112.2 133.2,108.3 128.9,106.3" fill="#47d162" stroke="#47d162"/>
<polygon points="196.7,98.5 200.7,100.0 203.2,95.7 199.1,94.3" fill="#6fcc46" stroke="#6fcc46"/>
<polygon points="94.7,114.6 99.2,117.1 101.6,113.2 97.2,110.8" fill="#43d67a" stroke="#43d67a"/>
<polygon points="87.9,115.9 92.4,118.5 94.7,114.6 90.3,112.1" fill="#42d880" stroke="#42d880"/>
<polygon points="207.2,97.1 211.2,98.5 213.6,94.2 209.6,92.9" fill="#79cd46" stroke="#79cd46"/>
<polygon points="144.3,108.1 148.6,109.9 151.1,105.9 146.8,104.1" fill="#4bce59" stroke="#4bce59"/>
<polygon points="179.5,102.2 183.6,103.8 186.0,99.7 181.9,98.1" fill="#5ac946" stroke="#5ac946"/>
<polygon points="119.6,112.1 124.0,114.2 126.4,110.2 122.1,108.2" fill="#45d36a" stroke="#45d36a"/>
<polygon points="81.0,117.0 85.5,119.7 87.9,115.9 83.4,113.2" fill="#41d985" stroke="#41d985"/>
<polygon points="162.0,105.4 166.2,107.1 168.7,103.0 164.5,101.4" fill="#51cb4f" stroke="#51cb4f"/>
<polygon points="217.5,95.5 221.5,96.8 223.9,92.4 220.0,91.2" fill="#85cf46" stroke="#85cf46"/>
<polygon points="74.2,118.0 78.7,120.8 81.0,117.0 76.5,114.2" fill="#40da8a" stroke="#40da8a"/>
<polygon points="112.8,113.9 117.2,116.0 119.6,112.1 115.3,110.0" fill="#44d572" stroke="#44d572"/>
<polygon points="67.3,118.7 71.9,121.7 74.2,118.0 69.6,114.9" fill="#3fda8d" stroke="#3fda8d"/>
<polygon points="190.1,101.2 194.2,102.7 196.7,98.5 192.6,97.0" fill="#62ca46" stroke="#62ca46"/>
<polygon points="137.6,110.2 141.8,112.1 144.3,108.1 140.0,106.2" fill="#48d160" stroke="#48d160"/>
<polygon points="60.5,119.2 65.1,122.4 67.3,118.7 62.8,115.5" fill="#3fdb8f" stroke="#3fdb8f"/>
<polygon points="106.0,115.5 110.4,117.8 112.8,113.9 108.4,111.6" fill="#42d67a" stroke="#42d67a"/>
<polygon points="172.8,104.7 177.0,106.3 179.5,102.2 175.3,100.6" fill="#53c94a" stroke="#53c94a"/>
<polygon points="155.3,107.7 159.5,109.4 162.0,105.4 157.8,103.7" fill="#4dcd56" stroke="#4dcd56"/>
<polygon points="53.6,119.4 58.2,122.8 60.5,119.2 55.9,115.7" fill="#3fdb90" stroke="#3fdb90"/>
<polygon points="200.7,100.0 204.7,101.4 207.2,97.1 203.2,95.7" fill="#6ccb46" stroke="#6ccb46"/>
<polygon points="130.8,112.2 135.1,114.2 137.6,110.2 133.2,108.3" fill="#46d367" stroke="#46d367"/>
<polygon points="99.2,117.1 103.6,119.4 106.0,115.5 101.6,113.2" fill="#41d882" stroke="#41d882"/>
<polygon points="92.4,118.5 96.8,120.9 99.2,117.1 94.7,114.6" fill="#40d989" stroke="#40d989"/>
<polygon points="211.2,98.5 215.1,99.9 217.5,95.5 213.6,94.2" fill="#76cd46" stroke="#76cd46"/>
<polygon points="183.6,103.8 187.7,105.3 190.1,101.2 186.0,99.7" fill="#56c846" stroke="#56c846"/>
<polygon points="148.6,109.9 152.8,111.7 155.3,107.7 151.1,105.9" fill="#4acf5c" stroke="#4acf5c"/>
<polygon points="124.0,114.2 128.3,116.2 130.8,112.2 126.4,110.2" fill="#44d470" stroke="#44d470"/>
<polygon points="85.5,119.7 90.0,122.3 92.4,118.5 87.9,115.9" fill="#3fdb8f" stroke="#3fdb8f"/>
<polygon points="166.2,107.1 170.4,108.8 172.8,104.7 168.7,103.0" fill="#4fcc52" stroke="#4fcc52"/>
<polygon points="221.5,96.8 225.4,98.1 227.8,93.6 223.9,92.4" fill="#82cf46" stroke="#82cf46"/>
<polygon points="78.7,120.8 83.2,123.6 85.5,119.7 81.0,117.0" fill="#3edc95" stroke="#3edc95"/>
<polygon points="71.9,121.7 76.4,124.6 78.7,120.8 74.2,118.0" fill="#3edc9a" stroke="#3edc9a"/>
<polygon points="117.2,116.0 121.6,118.1 124.0,114.2 119.6,112.1" fill="#43d679" stroke="#43d679"/>
<polygon points="194.2,102.7 198.3,104.2 200.7,100.0 196.7,98.5" fill="#5ec946" stroke="#5ec946"/>
<polygon points="141.8,112.1 146.1,113.9 148.6,109.9 144.3,108.1" fill="#46d263" stroke="#46d263"/>
<polygon points="65.1,122.4 69.6,125.5 71.9,121.7 67.3,118.7" fill="#3edc9f" stroke="#3edc9f"/>
<polygon points="58.2,122.8 62.8,126.1 65.1,122.4 60.5,119.2" fill="#3ddca2" stroke="#3ddca2"/>
<polygon points="177.0,106.3 181.1,107.9 183.6,103.8 179.5,102.2" fill="#51ca4d" stroke="#51ca4d"/>
<polygon points="110.4,117.8 114.8,120.0 117.2,116.0 112.8,113.9" fill="#41d882" stroke="#41d882"/>
<polygon points="159.5,109.4 163.7,111.2 166.2,107.1 162.0,105.4" fill="#4cce59" stroke="#4cce59"/>
<polygon points="51.4,123.0 56.0,126.5 58.2,122.8 53.6,119.4" fill="#3ddca3" stroke="#3ddca3"/>
<polygon points="204.7,101.4 208.7,102.8 211.2,98.5 207.2,97.1" fill="#68cb46" stroke="#68cb46"/>
<polygon points="135.1,114.2 139.4,116.1 141.8,112.1 137.6,110.2" fill="#45d46d" stroke="#45d46d"/>
<polygon points="103.6,119.4 108.0,121.7 110.4,117.8 106.0,115.5" fill="#40da8a" stroke="#40da8a"/>
<polygon points="215.1,99.9 219.1,101.2 221.5,96.8 217.5,95.5" fill="#73cc46" stroke="#73cc46"/>
<polygon points="96.8,120.9 101.2,123.3 103.6,119.4 99.2,117.1" fill="#3fdb91" stroke="#3fdb91"/>
<polygon points="187.7,105.3 191.8,106.9 194.2,102.7 190.1,101.2" fill="#54c948" stroke="#54c948"/>
<polygon points="152.8,111.7 157.1,113.5 159.5,109.4 155.3,107.7" fill="#48d160" stroke="#48d160"/>
<polygon points="128.3,116.2 132.7,118.1 135.1,114.2 130.8,112.2" fill="#43d676" stroke="#43d676"/>
<polygon points="170.4,108.8 174.5,110.4 177.0,106.3 172.8,104.7" fill="#4ecd54" stroke="#4ecd54"/>
<polygon points="90.0,122.3 94.5,124.8 96.8,120.9 92.4,118.5" fill="#3edc99" stroke="#3edc99"/>
<polygon points="83.2,123.6 87.7,126.2 90.0,122.3 85.5,119.7" fill="#3ddca2" stroke="#3ddca2"/>
<polygon points="198.3,104.2 202.3,105.7 204.7,101.4 200.7,100.0" fill="#5bc946" stroke="#5bc946"/>
<polygon points="76.4,124.6 80.9,127.4 83.2,123.6 78.7,120.8" fill="#3ddcaa" stroke="#3ddcaa"/>
<polygon points="121.6,118.1 125.9,120.1 128.3,116.2 124.0,114.2" fill="#42d77f" stroke="#42d77f"/>
<polygon points="69.6,125.5 74.2,128.4 76.4,124.6 71.9,121.7" fill="#3ddcb0" stroke="#3ddcb0"/>
<polygon points="146.1,113.9 150.4,115.7 152.8,111.7 148.6,109.9" fill="#45d368" stroke="#45d368"/>
<polygon points="62.8,126.1 67.4,129.2 69.6,125.5 65.1,122.4" fill="#3cdcb4" stroke="#3cdcb4"/>
<polygon points="56.0,126.5 60.6,129.8 62.8,126.1 58.2,122.8" fill="#3cdcb7" stroke="#3cdcb7"/>
<polygon points="181.1,107.9 185.2,109.5 187.7,105.3 183.6,103.8" fill="#50cb50" stroke="#50cb50"/>
<polygon points="49.2,126.6 53.9,130.1 56.0,126.5 51.4,123.0" fill="#3cdcb8" stroke="#3cdcb8"/>
<polygon points="208.7,102.8 212.7,104.2 215.1,99.9 211.2,98.5" fill="#65ca46" stroke="#65ca46"/>
<polygon points="163.7,111.2 167.9,112.8 170.4,108.8 166.2,107.1" fill="#4acf5c" stroke="#4acf5c"/>
<polygon points="114.8,120.0 119.2,122.1 121.6,118.1 117.2,116.0" fill="#40d988" stroke="#40d988"/>
<polygon points="139.4,116.1 143.7,117.9 146.1,113.9 141.8,112.1" fill="#44d572" stroke="#44d572"/>
<polygon points="219.1,101.2 223.0,102.6 225.4,98.1 221.5,96.8" fill="#70cc46" stroke="#70cc46"/>
<polygon points="108.0,121.7 112.4,123.9 114.8,120.0 110.4,117.8" fill="#3fdb91" stroke="#3fdb91"/>
<polygon points="191.8,106.9 195.8,108.4 198.3,104.2 194.2,102.7" fill="#53ca4b" stroke="#53ca4b"/>
<polygon points="101.2,123.3 105.7,125.6 108.0,121.7 103.6,119.4" fill="#3edc9a" stroke="#3edc9a"/>
<polygon points="157.1,113.5 161.3,115.2 163.7,111.2 159.5,109.4" fill="#47d263" stroke="#47d263"/>
<polygon points="174.5,110.4 178.7,112.0 181.1,107.9 177.0,106.3" fill="#4cce57" stroke="#4cce57"/>
<polygon points="94.5,124.8 98.9,127.2 101.2,123.3 96.8,120.9" fill="#3ddca5" stroke="#3ddca5"/>
<polygon points="132.7,118.1 137.0,120.1 139.4,116.1 135.1,114.2" fill="#42d77c" stroke="#42d77c"/>
<polygon points="87.7,126.2 92.2,128.7 94.5,124.8 90.0,122.3" fill="#3ddcaf" stroke="#3ddcaf"/>
<polygon points="202.3,105.7 206.3,107.1 208.7,102.8 204.7,101.4" fill="#57c846" stroke="#57c846"/>
<polygon points="80.9,127.4 85.4,130.0 87.7,126.2 83.2,123.6" fill="#3cdcb7" stroke="#3cdcb7"/>
<polygon points="74.2,128.4 78.7,131.1 80.9,127.4 76.4,124.6" fill="#3cdcbd" stroke="#3cdcbd"/>
<polygon points="125.9,120.1 130.3,122.1 132.7,118.1 128.3,116.2" fill="#41d985" stroke="#41d985"/>
<polygon points="67.4,129.2 71.9,132.1 74.2,128.4 69.6,125.5" fill="#3cdbc0" stroke="#3cdbc0"/>
<polygon points="60.6,129.8 65.2,132.9 67.4,129.2 62.8,126.1" fill="#3cdac2" stroke="#3cdac2"/>
<polygon points="150.4,115.7 154.6,117.5 157.1,113.5 152.8,111.7" fill="#45d46d" stroke="#45d46d"/>
<polygon points="53.9,130.1 58.5,133.4 60.6,129.8 56.0,126.5" fill="#3cdac4" stroke="#3cdac4"/>
<polygon points="212.7,104.2 216.7,105.6 219.1,101.2 215.1,99.9" fill="#61ca46" stroke="#61ca46"/>
<polygon points="185.2,109.5 189.3,111.1 191.8,106.9 187.7,105.3" fill="#4fcc52" stroke="#4fcc52"/>
<polygon points="167.9,112.8 172.1,114.5 174.5,110.4 170.4,108.8" fill="#49d05f" stroke="#49d05f"/>
<polygon points="119.2,122.1 123.5,124.1 125.9,120.1 121.6,118.1" fill="#3fdb8f" stroke="#3fdb8f"/>
<polygon points="143.7,117.9 148.0,119.8 150.4,115.7 146.1,113.9" fill="#43d677" stroke="#43d677"/>
<polygon points="112.4,123.9 116.8,126.0 119.2,122.1 114.8,120.0" fill="#3edc98" stroke="#3edc98"/>
<polygon points="195.8,108.4 199.9,109.9 202.3,105.7 198.3,104.2" fill="#51ca4d" stroke="#51ca4d"/>
<polygon points="105.7,125.6 110.1,127.8 112.4,123.9 108.0,121.7" fill="#3ddca4" stroke="#3ddca4"/>
<polygon points="161.3,115.2 165.5,116.9 167.9,112.8 163.7,111.2" fill="#46d367" stroke="#46d367"/>
<polygon points="178.7,112.0 182.8,113.7 185.2,109.5 181.1,107.9" fill="#4bcf5a" stroke="#4bcf5a"/>
<polygon points="137.0,120.1 141.3,121.9 143.7,117.9 139.4,116.1" fill="#41d881" stroke="#41d881"/>
<polygon points="98.9,127.2 103.3,129.5 105.7,125.6 101.2,123.3" fill="#3ddcaf" stroke="#3ddcaf"/>
<polygon points="206.3,107.1 210.3,108.6 212.7,104.2 208.7,102.8" fill="#54c847" stroke="#54c847"/>
<polygon points="92.2,128.7 96.6,131.1 98.9,127.2 94.5,124.8" fill="#3cdcba" stroke="#3cdcba"/>
<polygon points="85.4,130.0 89.9,132.5 92.2,128.7 87.7,126.2" fill="#3cdbc0" stroke="#3cdbc0"/>
<polygon points="78.7,131.1 83.2,133.8 85.4,130.0 80.9,127.4" fill="#3cdac4" stroke="#3cdac4"/>
<polygon points="71.9,132.1 76.5,134.9 78.7,131.1 74.2,128.4" fill="#3cd8c8" stroke="#3cd8c8"/>
<polygon points="58.5,133.4 63.0,136.6 65.2,132.9 60.6,129.8" fill="#3cd7cd" stroke="#3cd7cd"/>
<polygon points="65.2,132.9 69.7,135.8 71.9,132.1 67.4,129.2" fill="#3cd8cb" stroke="#3cd8cb"/>
<polygon points="216.7,105.6 220.6,107.0 223.0,102.6 219.1,101.2" fill="#5ec946" stroke="#5ec946"/>
<polygon points="130.3,122.1 134.6,124.1 137.0,120.1 132.7,118.1" fill="#40da8b" stroke="#40da8b"/>
<polygon points="154.6,117.5 158.9,119.3 161.3,115.2 157.1,113.5" fill="#44d571" stroke="#44d571"/>
<polygon points="189.3,111.1 193.4,112.6 195.8,108.4 191.8,106.9" fill="#4ecd55" stroke="#4ecd55"/>
<polygon points="172.1,114.5 176.3,116.2 178.7,112.0 174.5,110.4" fill="#47d161" stroke="#47d161"/>
<polygon points="123.5,124.1 127.9,126.1 130.3,122.1 125.9,120.1" fill="#3edc94" stroke="#3edc94"/>
<polygon points="199.9,109.9 203.9,111.4 206.3,107.1 202.3,105.7" fill="#50cb4f" stroke="#50cb4f"/>
<polygon points="148.0,119.8 152.2,121.6 154.6,117.5 150.4,115.7" fill="#42d77c" stroke="#42d77c"/>
<polygon points="116.8,126.0 121.2,128.0 123.5,124.1 119.2,122.1" fill="#3ddca1" stroke="#3ddca1"/>
<polygon points="182.8,113.7 186.9,115.3 189.3,111.1 185.2,109.5" fill="#4ad05d" stroke="#4ad05d"/>
<polygon points="165.5,116.9 169.7,118.6 172.1,114.5 167.9,112.8" fill="#45d36b" stroke="#45d36b"/>
<polygon points="110.1,127.8 114.5,129.9 116.8,126.0 112.4,123.9" fill="#3ddcad" stroke="#3ddcad"/>
<polygon points="210.3,108.6 214.3,110.0 216.7,105.6 212.7,104.2" fill="#53c949" stroke="#53c949"/>
<polygon points="141.3,121.9 145.6,123.8 148.0,119.8 143.7,117.9" fill="#41d986" stroke="#41d986"/>
<polygon points="103.3,129.5 107.8,131.7 110.1,127.8 105.7,125.6" fill="#3cdcb9" stroke="#3cdcb9"/>
<polygon points="96.6,131.1 101.1,133.4 103.3,129.5 98.9,127.2" fill="#3cdbc0" stroke="#3cdbc0"/>
<polygon points="89.9,132.5 94.4,134.9 96.6,131.1 92.2,128.7" fill="#3cd9c5" stroke="#3cd9c5"/>
<polygon points="63.0,136.6 67.6,139.5 69.7,135.8 65.2,132.9" fill="#3cd4d5" stroke="#3cd4d5"/>
<polygon points="83.2,133.8 87.7,136.3 89.9,132.5 85.4,130.0" fill="#3cd8ca" stroke="#3cd8ca"/>
<polygon points="69.7,135.8 74.3,138.6 76.5,134.9 71.9,132.1" fill="#3cd5d2" stroke="#3cd5d2"/>
<polygon points="76.5,134.9 81.0,137.6 83.2,133.8 78.7,131.1" fill="#3cd6ce" stroke="#3cd6ce"/>
<polygon points="193.4,112.6 197.5,114.2 199.9,109.9 195.8,108.4" fill="#4cce57" stroke="#4cce57"/>
<polygon points="134.6,124.1 138.9,125.9 141.3,121.9 137.0,120.1" fill="#3fdb90" stroke="#3fdb90"/>
<polygon points="158.9,119.3 163.1,121.0 165.5,116.9 161.3,115.2" fill="#43d676" stroke="#43d676"/>
<polygon points="176.3,116.2 180.4,117.8 182.8,113.7 178.7,112.0" fill="#46d264" stroke="#46d264"/>
<polygon points="127.9,126.1 132.2,128.0 134.6,124.1 130.3,122.1" fill="#3edc9b" stroke="#3edc9b"/>
<polygon points="203.9,111.4 207.9,112.9 210.3,108.6 206.3,107.1" fill="#4fcc52" stroke="#4fcc52"/>
<polygon points="152.2,121.6 156.5,123.3 158.9,119.3 154.6,117.5" fill="#41d880" stroke="#41d880"/>
<polygon points="121.2,128.0 125.5,130.0 127.9,126.1 123.5,124.1" fill="#3ddca9" stroke="#3ddca9"/>
<polygon points="186.9,115.3 191.0,116.9 193.4,112.6 189.3,111.1" fill="#48d05f" stroke="#48d05f"/>
<polygon points="214.3,110.0 218.2,111.5 220.6,107.0 216.7,105.6" fill="#52ca4c" stroke="#52ca4c"/>
<polygon points="169.7,118.6 173.9,120.3 176.3,116.2 172.1,114.5" fill="#44d46f" stroke="#44d46f"/>
<polygon points="114.5,129.9 118.9,132.0 121.2,128.0 116.8,126.0" fill="#3cdcb5" stroke="#3cdcb5"/>
<polygon points="145.6,123.8 149.8,125.6 152.2,121.6 148.0,119.8" fill="#40da8b" stroke="#40da8b"/>
<polygon points="107.8,131.7 112.2,133.8 114.5,129.9 110.1,127.8" fill="#3cdbbf" stroke="#3cdbbf"/>
<polygon points="101.1,133.4 105.5,135.6 107.8,131.7 103.3,129.5" fill="#3cd9c5" stroke="#3cd9c5"/>
<polygon points="197.5,114.2 201.5,115.7 203.9,111.4 199.9,109.9" fill="#4bcf5a" stroke="#4bcf5a"/>
<polygon points="67.6,139.5 72.2,142.3 74.3,138.6 69.7,135.8" fill="#3cd1d8" stroke="#3cd1d8"/>
<polygon points="94.4,134.9 98.8,137.2 101.1,133.4 96.6,131.1" fill="#3cd8ca" stroke="#3cd8ca"/>
<polygon points="74.3,138.6 78.8,141.3 81.0,137.6 76.5,134.9" fill="#3cd3d7" stroke="#3cd3d7"/>
<polygon points="87.7,136.3 92.1,138.7 94.4,134.9 89.9,132.5" fill="#3cd6cf" stroke="#3cd6cf"/>
<polygon points="81.0,137.6 85.5,140.1 87.7,136.3 83.2,133.8" fill="#3cd5d4" stroke="#3cd5d4"/>
<polygon points="163.1,121.0 167.3,122.7 169.7,118.6 165.5,116.9" fill="#42d67a" stroke="#42d67a"/>
<polygon points="138.9,125.9 143.2,127.8 145.6,123.8 141.3,121.9" fill="#3edc95" stroke="#3edc95"/>
<polygon points="180.4,117.8 184.5,119.4 186.9,115.3 182.8,113.7" fill="#45d368" stroke="#45d368"/>
<polygon points="207.9,112.9 211.9,114.4 214.3,110.0 210.3,108.6" fill="#4ecd54" stroke="#4ecd54"/>
<polygon points="132.2,128.0 136.6,129.9 138.9,125.9 134.6,124.1" fill="#3ddca2" stroke="#3ddca2"/>
<polygon points="156.5,123.3 160.7,125.1 163.1,121.0 158.9,119.3" fill="#41d985" stroke="#41d985"/>
<polygon points="191.0,116.9 195.1,118.4 197.5,114.2 193.4,112.6" fill="#47d162" stroke="#47d162"/>
<polygon points="125.5,130.0 129.9,132.0 132.2,128.0 127.9,126.1" fill="#3ddcb0" stroke="#3ddcb0"/>
<polygon points="173.9,120.3 178.0,122.0 180.4,117.8 176.3,116.2" fill="#44d573" stroke="#44d573"/>
<polygon points="118.9,132.0 123.2,134.0 125.5,130.0 121.2,128.0" fill="#3cdcbd" stroke="#3cdcbd"/>
<polygon points="149.8,125.6 154.1,127.4 156.5,123.3 152.2,121.6" fill="#3fdb8f" stroke="#3fdb8f"/>
<polygon points="112.2,133.8 116.6,135.9 118.9,132.0 114.5,129.9" fill="#3cdac3" stroke="#3cdac3"/>
<polygon points="201.5,115.7 205.5,117.3 207.9,112.9 203.9,111.4" fill="#4acf5c" stroke="#4acf5c"/>
<polygon points="105.5,135.6 109.9,137.7 112.2,133.8 107.8,131.7" fill="#3cd8c9" stroke="#3cd8c9"/>
<polygon points="72.2,142.3 76.7,145.0 78.8,141.3 74.3,138.6" fill="#3ccdda" stroke="#3ccdda"/>
<polygon points="78.8,141.3 83.3,143.8 85.5,140.1 81.0,137.6" fill="#3cd0d9" stroke="#3cd0d9"/>
<polygon points="98.8,137.2 103.2,139.4 105.5,135.6 101.1,133.4" fill="#3cd6cf" stroke="#3cd6cf"/>
<polygon points="167.3,122.7 171.5,124.4 173.9,120.3 169.7,118.6" fill="#42d77e" stroke="#42d77e"/>
<polygon points="85.5,140.1 89.9,142.5 92.1,138.7 87.7,136.3" fill="#3cd2d7" stroke="#3cd2d7"/>
<polygon points="92.1,138.7 96.6,141.0 98.8,137.2 94.4,134.9" fill="#3cd4d4" stroke="#3cd4d4"/>
<polygon points="184.5,119.4 188.6,121.1 191.0,116.9 186.9,115.3" fill="#45d46c" stroke="#45d46c"/>
<polygon points="143.2,127.8 147.5,129.6 149.8,125.6 145.6,123.8" fill="#3edc9b" stroke="#3edc9b"/>
<polygon points="211.9,114.4 215.9,115.9 218.2,111.5 214.3,110.0" fill="#4dcd56" stroke="#4dcd56"/>
<polygon points="136.6,129.9 140.9,131.8 143.2,127.8 138.9,125.9" fill="#3ddca9" stroke="#3ddca9"/>
<polygon points="160.7,125.1 164.9,126.8 167.3,122.7 163.1,121.0" fill="#40d989" stroke="#40d989"/>
<polygon points="195.1,118.4 199.1,120.0 201.5,115.7 197.5,114.2" fill="#46d265" stroke="#46d265"/>
<polygon points="178.0,122.0 182.2,123.6 184.5,119.4 180.4,117.8" fill="#43d677" stroke="#43d677"/>
<polygon points="129.9,132.0 134.2,133.9 136.6,129.9 132.2,128.0" fill="#3cdcb7" stroke="#3cdcb7"/>
<polygon points="123.2,134.0 127.6,136.0 129.9,132.0 125.5,130.0" fill="#3cdbc0" stroke="#3cdbc0"/>
<polygon points="205.5,117.3 209.5,118.8 211.9,114.4 207.9,112.9" fill="#49d05f" stroke="#49d05f"/>
<polygon points="154.1,127.4 158.4,129.1 160.7,125.1 156.5,123.3" fill="#3edc94" stroke="#3edc94"/>
<polygon points="116.6,135.9 120.9,137.9 123.2,134.0 118.9,132.0" fill="#3cd9c7" stroke="#3cd9c7"/>
<polygon points="76.7,145.0 81.2,147.6 83.3,143.8 78.8,141.3" fill="#3ccadd" stroke="#3ccadd"/>
<polygon points="109.9,137.7 114.3,139.8 116.6,135.9 112.2,133.8" fill="#3cd7cd" stroke="#3cd7cd"/>
<polygon points="188.6,121.1 192.7,122.7 195.1,118.4 191.0,116.9" fill="#44d470" stroke="#44d470"/>
<polygon points="171.5,124.4 175.7,126.1 178.0,122.0 173.9,120.3" fill="#41d882" stroke="#41d882"/>
<polygon points="83.3,143.8 87.8,146.3 89.9,142.5 85.5,140.1" fill="#3ccddb" stroke="#3ccddb"/>
<polygon points="103.2,139.4 107.7,141.6 109.9,137.7 105.5,135.6" fill="#3cd5d3" stroke="#3cd5d3"/>
<polygon points="89.9,142.5 94.4,144.8 96.6,141.0 92.1,138.7" fill="#3ccfd9" stroke="#3ccfd9"/>
<polygon points="96.6,141.0 101.0,143.3 103.2,139.4 98.8,137.2" fill="#3cd2d7" stroke="#3cd2d7"/>
<polygon points="147.5,129.6 151.8,131.4 154.1,127.4 149.8,125.6" fill="#3ddca1" stroke="#3ddca1"/>
<polygon points="199.1,120.0 203.2,121.6 205.5,117.3 201.5,115.7" fill="#45d368" stroke="#45d368"/>
<polygon points="140.9,131.8 145.2,133.6 147.5,129.6 143.2,127.8" fill="#3ddcaf" stroke="#3ddcaf"/>
<polygon points="164.9,126.8 169.1,128.5 171.5,124.4 167.3,122.7" fill="#3fda8d" stroke="#3fda8d"/>
<polygon points="182.2,123.6 186.3,125.3 188.6,121.1 184.5,119.4" fill="#42d77b" stroke="#42d77b"/>
<polygon points="134.2,133.9 138.5,135.8 140.9,131.8 136.6,129.9" fill="#3cdcbd" stroke="#3cdcbd"/>
<polygon points="209.5,118.8 213.5,120.4 215.9,115.9 211.9,114.4" fill="#47d161" stroke="#47d161"/>
<polygon points="158.4,129.1 162.6,130.9 164.9,126.8 160.7,125.1" fill="#3edc98" stroke="#3edc98"/>
<polygon points="127.6,136.0 131.9,137.9 134.2,133.9 129.9,132.0" fill="#3cdac3" stroke="#3cdac3"/>
<polygon points="192.7,122.7 196.8,124.3 199.1,120.0 195.1,118.4" fill="#43d574" stroke="#43d574"/>
<polygon points="120.9,137.9 125.3,139.9 127.6,136.0 123.2,134.0" fill="#3cd8ca" stroke="#3cd8ca"/>
<polygon points="175.7,126.1 179.8,127.8 182.2,123.6 178.0,122.0" fill="#41d986" stroke="#41d986"/>
<polygon points="81.2,147.6 85.7,150.0 87.8,146.3 83.3,143.8" fill="#3cc5df" stroke="#3cc5df"/>
<polygon points="114.3,139.8 118.7,141.8 120.9,137.9 116.6,135.9" fill="#3cd6d1" stroke="#3cd6d1"/>
<polygon points="87.8,146.3 92.3,148.6 94.4,144.8 89.9,142.5" fill="#3ccadd" stroke="#3ccadd"/>
<polygon points="107.7,141.6 112.1,143.7 114.3,139.8 109.9,137.7" fill="#3cd3d6" stroke="#3cd3d6"/>
<polygon points="151.8,131.4 156.0,133.2 158.4,129.1 154.1,127.4" fill="#3ddca7" stroke="#3ddca7"/>
<polygon points="94.4,144.8 98.9,147.1 101.0,143.3 96.6,141.0" fill="#3ccddb" stroke="#3ccddb"/>
<polygon points="101.0,143.3 105.5,145.4 107.7,141.6 103.2,139.4" fill="#3cd0d9" stroke="#3cd0d9"/>
<polygon points="203.2,121.6 207.2,123.2 209.5,118.8 205.5,117.3" fill="#45d46c" stroke="#45d46c"/>
<polygon points="169.1,128.5 173.3,130.3 175.7,126.1 171.5,124.4" fill="#3fdb91" stroke="#3fdb91"/>
<polygon points="145.2,133.6 149.4,135.4 151.8,131.4 147.5,129.6" fill="#3cdcb5" stroke="#3cdcb5"/>
<polygon points="186.3,125.3 190.4,126.9 192.7,122.7 188.6,121.1" fill="#42d77f" stroke="#42d77f"/>
<polygon points="138.5,135.8 142.9,137.6 145.2,133.6 140.9,131.8" fill="#3cdbc0" stroke="#3cdbc0"/>
<polygon points="162.6,130.9 166.8,132.6 169.1,128.5 164.9,126.8" fill="#3edc9e" stroke="#3edc9e"/>
<polygon points="131.9,137.9 136.3,139.8 138.5,135.8 134.2,133.9" fill="#3cd9c6" stroke="#3cd9c6"/>
<polygon points="196.8,124.3 200.8,125.9 203.2,121.6 199.1,120.0" fill="#43d678" stroke="#43d678"/>
<polygon points="179.8,127.8 183.9,129.5 186.3,125.3 182.2,123.6" fill="#40da8a" stroke="#40da8a"/>
<polygon points="125.3,139.9 129.7,141.8 131.9,137.9 127.6,136.0" fill="#3cd7cd" stroke="#3cd7cd"/>
<polygon points="85.7,150.0 90.2,152.3 92.3,148.6 87.8,146.3" fill="#3ebce2" stroke="#3ebce2"/>
<polygon points="118.7,141.8 123.1,143.8 125.3,139.9 120.9,137.9" fill="#3cd5d4" stroke="#3cd5d4"/>
<polygon points="156.0,133.2 160.3,135.0 162.6,130.9 158.4,129.1" fill="#3ddcad" stroke="#3ddcad"/>
<polygon points="92.3,148.6 96.7,150.8 98.9,147.1 94.4,144.8" fill="#3cc7de" stroke="#3cc7de"/>
<polygon points="112.1,143.7 116.5,145.7 118.7,141.8 114.3,139.8" fill="#3cd2d8" stroke="#3cd2d8"/>
<polygon points="98.9,147.1 103.3,149.2 105.5,145.4 101.0,143.3" fill="#3ccbdc" stroke="#3ccbdc"/>
<polygon points="105.5,145.4 109.9,147.5 112.1,143.7 107.7,141.6" fill="#3cceda" stroke="#3cceda"/>
<polygon points="207.2,123.2 211.2,124.8 213.5,120.4 209.5,118.8" fill="#44d470" stroke="#44d470"/>
<polygon points="173.3,130.3 177.5,132.0 179.8,127.8 175.7,126.1" fill="#3edc95" stroke="#3edc95"/>
<polygon points="190.4,126.9 194.5,128.6 196.8,124.3 192.7,122.7" fill="#41d883" stroke="#41d883"/>
<polygon points="149.4,135.4 153.7,137.2 156.0,133.2 151.8,131.4" fill="#3cdcbb" stroke="#3cdcbb"/>
<polygon points="142.9,137.6 147.1,139.5 149.4,135.4 145.2,133.6" fill="#3cdac2" stroke="#3cdac2"/>
<polygon points="166.8,132.6 171.0,134.4 173.3,130.3 169.1,128.5" fill="#3ddca4" stroke="#3ddca4"/>
<polygon points="200.8,125.9 204.9,127.6 207.2,123.2 203.2,121.6" fill="#42d77c" stroke="#42d77c"/>
<polygon points="136.3,139.8 140.6,141.6 142.9,137.6 138.5,135.8" fill="#3cd8c9" stroke="#3cd8c9"/>
<polygon points="183.9,129.5 188.0,131.2 190.4,126.9 186.3,125.3" fill="#3fda8e" stroke="#3fda8e"/>
<polygon points="129.7,141.8 134.0,143.7 136.3,139.8 131.9,137.9" fill="#3cd6d0" stroke="#3cd6d0"/>
<polygon points="160.3,135.0 164.5,136.7 166.8,132.6 162.6,130.9" fill="#3ddcb2" stroke="#3ddcb2"/>
<polygon points="90.2,152.3 94.6,154.6 96.7,150.8 92.3,148.6" fill="#3fb4e5" stroke="#3fb4e5"/>
<polygon points="123.1,143.8 127.4,145.7 129.7,141.8 125.3,139.9" fill="#3cd3d6" stroke="#3cd3d6"/>
<polygon points="96.7,150.8 101.2,153.0 103.3,149.2 98.9,147.1" fill="#3dbfe1" stroke="#3dbfe1"/>
<polygon points="116.5,145.7 120.9,147.7 123.1,143.8 118.7,141.8" fill="#3cd0d9" stroke="#3cd0d9"/>
<polygon points="103.3,149.2 107.7,151.3 109.9,147.5 105.5,145.4" fill="#3cc9dd" stroke="#3cc9dd"/>
<polygon points="109.9,147.5 114.3,149.5 116.5,145.7 112.1,143.7" fill="#3cccdb" stroke="#3cccdb"/>
<polygon points="194.5,128.6 198.5,130.2 200.8,125.9 196.8,124.3" fill="#40d987" stroke="#40d987"/>
<polygon points="177.5,132.0 181.6,133.7 183.9,129.5 179.8,127.8" fill="#3edc9a" stroke="#3edc9a"/>
<polygon points="153.7,137.2 158.0,139.0 160.3,135.0 156.0,133.2" fill="#3cdbbe" stroke="#3cdbbe"/>
<polygon points="204.9,127.6 208.9,129.2 211.2,124.8 207.2,123.2" fill="#42d880" stroke="#42d880"/>
<polygon points="147.1,139.5 151.4,141.3 153.7,137.2 149.4,135.4" fill="#3cd9c5" stroke="#3cd9c5"/>
<polygon points="171.0,134.4 175.2,136.1 177.5,132.0 173.3,130.3" fill="#3ddca9" stroke="#3ddca9"/>
<polygon points="188.0,131.2 192.1,132.9 194.5,128.6 190.4,126.9" fill="#3fdb92" stroke="#3fdb92"/>
<polygon points="140.6,141.6 144.9,143.4 147.1,139.5 142.9,137.6" fill="#3cd7cc" stroke="#3cd7cc"/>
<polygon points="134.0,143.7 138.3,145.6 140.6,141.6 136.3,139.8" fill="#3cd5d3" stroke="#3cd5d3"/>
<polygon points="164.5,136.7 168.7,138.5 171.0,134.4 166.8,132.6" fill="#3cdcb8" stroke="#3cdcb8"/>
<polygon points="127.4,145.7 131.8,147.6 134.0,143.7 129.7,141.8" fill="#3cd2d7" stroke="#3cd2d7"/>
<polygon points="94.6,154.6 99.1,156.8 101.2,153.0 96.7,150.8" fill="#40ade8" stroke="#40ade8"/>
<polygon points="198.5,130.2 202.5,131.9 204.9,127.6 200.8,125.9" fill="#40da8b" stroke="#40da8b"/>
<polygon points="181.6,133.7 185.7,135.4 188.0,131.2 183.9,129.5" fill="#3ddca0" stroke="#3ddca0"/>
<polygon points="120.9,147.7 125.2,149.6 127.4,145.7 123.1,143.8" fill="#3cceda" stroke="#3cceda"/>
<polygon points="101.2,153.0 105.6,155.1 107.7,151.3 103.3,149.2" fill="#3eb9e4" stroke="#3eb9e4"/>
<polygon points="107.7,151.3 112.1,153.4 114.3,149.5 109.9,147.5" fill="#3cc5df" stroke="#3cc5df"/>
<polygon points="114.3,149.5 118.7,151.5 120.9,147.7 116.5,145.7" fill="#3ccbdc" stroke="#3ccbdc"/>
<polygon points="158.0,139.0 162.2,140.8 164.5,136.7 160.3,135.0" fill="#3cdac1" stroke="#3cdac1"/>
<polygon points="151.4,141.3 155.7,143.1 158.0,139.0 153.7,137.2" fill="#3cd8c8" stroke="#3cd8c8"/>
<polygon points="175.2,136.1 179.3,137.8 181.6,133.7 177.5,132.0" fill="#3ddcaf" stroke="#3ddcaf"/>
<polygon points="192.1,132.9 196.2,134.5 198.5,130.2 194.5,128.6" fill="#3edc96" stroke="#3edc96"/>
<polygon points="144.9,143.4 149.2,145.3 151.4,141.3 147.1,139.5" fill="#3cd6cf" stroke="#3cd6cf"/>
<polygon points="168.7,138.5 172.9,140.2 175.2,136.1 171.0,134.4" fill="#3cdcbd" stroke="#3cdcbd"/>
<polygon points="138.3,145.6 142.6,147.4 144.9,143.4 140.6,141.6" fill="#3cd4d6" stroke="#3cd4d6"/>
<polygon points="202.5,131.9 206.6,133.6 208.9,129.2 204.9,127.6" fill="#3fdb8f" stroke="#3fdb8f"/>
<polygon points="185.7,135.4 189.8,137.1 192.1,132.9 188.0,131.2" fill="#3ddca5" stroke="#3ddca5"/>
<polygon points="131.8,147.6 136.1,149.5 138.3,145.6 134.0,143.7" fill="#3cd0d8" stroke="#3cd0d8"/>
<polygon points="99.1,156.8 103.5,158.8 105.6,155.1 101.2,153.0" fill="#41a6ea" stroke="#41a6ea"/>
<polygon points="125.2,149.6 129.6,151.5 131.8,147.6 127.4,145.7" fill="#3ccddb" stroke="#3ccddb"/>
<polygon points="105.6,155.1 110.0,157.1 112.1,153.4 107.7,151.3" fill="#3fb2e6" stroke="#3fb2e6"/>
<polygon points="118.7,151.5 123.1,153.5 125.2,149.6 120.9,147.7" fill="#3cc9dd" stroke="#3cc9dd"/>
<polygon points="112.1,153.4 116.5,155.4 118.7,151.5 114.3,149.5" fill="#3dbfe1" stroke="#3dbfe1"/>
<polygon points="162.2,140.8 166.4,142.6 168.7,138.5 164.5,136.7" fill="#3cdac4" stroke="#3cdac4"/>
<polygon points="179.3,137.8 183.4,139.6 185.7,135.4 181.6,133.7" fill="#3cdcb4" stroke="#3cdcb4"/>
<polygon points="196.2,134.5 200.3,136.2 202.5,131.9 198.5,130.2" fill="#3edc9c" stroke="#3edc9c"/>
<polygon points="155.7,143.1 159.9,144.8 162.2,140.8 158.0,139.0" fill="#3cd7cb" stroke="#3cd7cb"/>
<polygon points="149.2,145.3 153.4,147.1 155.7,143.1 151.4,141.3" fill="#3cd5d2" stroke="#3cd5d2"/>
<polygon points="172.9,140.2 177.0,142.0 179.3,137.8 175.2,136.1" fill="#3cdbbf" stroke="#3cdbbf"/>
<polygon points="142.6,147.4 146.9,149.2 149.2,145.3 144.9,143.4" fill="#3cd3d7" stroke="#3cd3d7"/>
<polygon points="189.8,137.1 193.9,138.8 196.2,134.5 192.1,132.9" fill="#3ddcab" stroke="#3ddcab"/>
<polygon points="136.1,149.5 140.4,151.3 142.6,147.4 138.3,145.6" fill="#3ccfd9" stroke="#3ccfd9"/>
<polygon points="103.5,158.8 107.9,160.9 110.0,157.1 105.6,155.1" fill="#40a0eb" stroke="#40a0eb"/>
<polygon points="129.6,151.5 133.9,153.4 136.1,149.5 131.8,147.6" fill="#3ccbdc" stroke="#3ccbdc"/>
<polygon points="166.4,142.6 170.6,144.3 172.9,140.2 168.7,138.5" fill="#3cd9c6" stroke="#3cd9c6"/>
<polygon points="110.0,157.1 114.4,159.1 116.5,155.4 112.1,153.4" fill="#40ade8" stroke="#40ade8"/>
<polygon points="123.1,153.5 127.4,155.4 129.6,151.5 125.2,149.6" fill="#3cc6df" stroke="#3cc6df"/>
<polygon points="116.5,155.4 120.9,157.3 123.1,153.5 118.7,151.5" fill="#3eb9e3" stroke="#3eb9e3"/>
<polygon points="200.3,136.2 204.3,137.9 206.6,133.6 202.5,131.9" fill="#3ddca2" stroke="#3ddca2"/>
<polygon points="183.4,139.6 187.6,141.3 189.8,137.1 185.7,135.4" fill="#3cdcba" stroke="#3cdcba"/>
<polygon points="159.9,144.8 164.2,146.6 166.4,142.6 162.2,140.8" fill="#3cd7cd" stroke="#3cd7cd"/>
<polygon points="153.4,147.1 157.7,148.9 159.9,144.8 155.7,143.1" fill="#3cd5d4" stroke="#3cd5d4"/>
<polygon points="177.0,142.0 181.2,143.7 183.4,139.6 179.3,137.8" fill="#3cdac2" stroke="#3cdac2"/>
<polygon points="193.9,138.8 198.0,140.6 200.3,136.2 196.2,134.5" fill="#3ddcb1" stroke="#3ddcb1"/>
<polygon points="146.9,149.2 151.2,151.1 153.4,147.1 149.2,145.3" fill="#3cd1d8" stroke="#3cd1d8"/>
<polygon points="140.4,151.3 144.7,153.2 146.9,149.2 142.6,147.4" fill="#3ccdda" stroke="#3ccdda"/>
<polygon points="170.6,144.3 174.8,146.1 177.0,142.0 172.9,140.2" fill="#3cd8c9" stroke="#3cd8c9"/>
<polygon points="133.9,153.4 138.3,155.2 140.4,151.3 136.1,149.5" fill="#3ccadd" stroke="#3ccadd"/>
<polygon points="107.9,160.9 112.3,162.9 114.4,159.1 110.0,157.1" fill="#409aea" stroke="#409aea"/>
<polygon points="127.4,155.4 131.8,157.3 133.9,153.4 129.6,151.5" fill="#3dc1e1" stroke="#3dc1e1"/>
<polygon points="114.4,159.1 118.8,161.1 120.9,157.3 116.5,155.4" fill="#41a7ea" stroke="#41a7ea"/>
<polygon points="187.6,141.3 191.7,143.1 193.9,138.8 189.8,137.1" fill="#3cdbbe" stroke="#3cdbbe"/>
<polygon points="120.9,157.3 125.3,159.2 127.4,155.4 123.1,153.5" fill="#3fb4e5" stroke="#3fb4e5"/>
<polygon points="164.2,146.6 168.4,148.4 170.6,144.3 166.4,142.6" fill="#3cd6d0" stroke="#3cd6d0"/>
<polygon points="181.2,143.7 185.3,145.5 187.6,141.3 183.4,139.6" fill="#3cd9c5" stroke="#3cd9c5"/>
<polygon points="157.7,148.9 161.9,150.7 164.2,146.6 159.9,144.8" fill="#3cd4d6" stroke="#3cd4d6"/>
<polygon points="198.0,140.6 202.0,142.3 204.3,137.9 200.3,136.2" fill="#3cdcb7" stroke="#3cdcb7"/>
<polygon points="151.2,151.1 155.5,152.9 157.7,148.9 153.4,147.1" fill="#3cd0d9" stroke="#3cd0d9"/>
<polygon points="174.8,146.1 178.9,147.9 181.2,143.7 177.0,142.0" fill="#3cd7cc" stroke="#3cd7cc"/>
<polygon points="144.7,153.2 149.0,155.0 151.2,151.1 146.9,149.2" fill="#3cccdb" stroke="#3cccdb"/>
<polygon points="191.7,143.1 195.7,144.8 198.0,140.6 193.9,138.8" fill="#3cdbc1" stroke="#3cdbc1"/>
<polygon points="138.3,155.2 142.6,157.1 144.7,153.2 140.4,151.3" fill="#3cc8de" stroke="#3cc8de"/>
<polygon points="112.3,162.9 116.8,164.8 118.8,161.1 114.4,159.1" fill="#3f95ea" stroke="#3f95ea"/>
<polygon points="131.8,157.3 136.1,159.1 138.3,155.2 133.9,153.4" fill="#3ebce2" stroke="#3ebce2"/>
<polygon points="118.8,161.1 123.2,163.0 125.3,159.2 120.9,157.3" fill="#41a2eb" stroke="#41a2eb"/>
<polygon points="125.3,159.2 129.7,161.1 131.8,157.3 127.4,155.4" fill="#40afe7" stroke="#40afe7"/>
<polygon points="168.4,148.4 172.6,150.2 174.8,146.1 170.6,144.3" fill="#3cd5d3" stroke="#3cd5d3"/>
<polygon points="185.3,145.5 189.4,147.3 191.7,143.1 187.6,141.3" fill="#3cd8c8" stroke="#3cd8c8"/>
<polygon points="161.9,150.7 166.1,152.5 168.4,148.4 164.2,146.6" fill="#3cd2d7" stroke="#3cd2d7"/>
<polygon points="155.5,152.9 159.7,154.7 161.9,150.7 157.7,148.9" fill="#3cceda" stroke="#3cceda"/>
<polygon points="178.9,147.9 183.1,149.7 185.3,145.5 181.2,143.7" fill="#3cd6cf" stroke="#3cd6cf"/>
<polygon points="195.7,144.8 199.8,146.6 202.0,142.3 198.0,140.6" fill="#3cdac3" stroke="#3cdac3"/>
<polygon points="149.0,155.0 153.3,156.8 155.5,152.9 151.2,151.1" fill="#3ccbdc" stroke="#3ccbdc"/>
<polygon points="142.6,157.1 146.9,158.9 149.0,155.0 144.7,153.2" fill="#3cc5df" stroke="#3cc5df"/>
<polygon points="136.1,159.1 140.4,161.0 142.6,157.1 138.3,155.2" fill="#3eb8e4" stroke="#3eb8e4"/>
<polygon points="116.8,164.8 121.1,166.7 123.2,163.0 118.8,161.1" fill="#3f90ea" stroke="#3f90ea"/>
<polygon points="172.6,150.2 176.7,152.0 178.9,147.9 174.8,146.1" fill="#3cd4d5" stroke="#3cd4d5"/>
<polygon points="129.7,161.1 134.0,163.0 136.1,159.1 131.8,157.3" fill="#40abe9" stroke="#40abe9"/>
<polygon points="123.2,163.0 127.6,164.9 129.7,161.1 125.3,159.2" fill="#409dea" stroke="#409dea"/>
<polygon points="189.4,147.3 193.5,149.1 195.7,144.8 191.7,143.1" fill="#3cd8ca" stroke="#3cd8ca"/>
<polygon points="166.1,152.5 170.4,154.3 172.6,150.2 168.4,148.4" fill="#3cd1d8" stroke="#3cd1d8"/>
<polygon points="159.7,154.7 164.0,156.5 166.1,152.5 161.9,150.7" fill="#3ccddb" stroke="#3ccddb"/>
<polygon points="183.1,149.7 187.2,151.5 189.4,147.3 185.3,145.5" fill="#3cd5d1" stroke="#3cd5d1"/>
<polygon points="153.3,156.8 157.6,158.7 159.7,154.7 155.5,152.9" fill="#3cc9dd" stroke="#3cc9dd"/>
<polygon points="146.9,158.9 151.2,160.8 153.3,156.8 149.0,155.0" fill="#3dc0e1" stroke="#3dc0e1"/>
<polygon points="176.7,152.0 180.9,153.8 183.1,149.7 178.9,147.9" fill="#3cd3d7" stroke="#3cd3d7"/>
<polygon points="140.4,161.0 144.7,162.8 146.9,158.9 142.6,157.1" fill="#3fb3e6" stroke="#3fb3e6"/>
<polygon points="121.1,166.7 125.5,168.6 127.6,164.9 123.2,163.0" fill="#3e8be9" stroke="#3e8be9"/>
<polygon points="193.5,149.1 197.6,150.9 199.8,146.6 195.7,144.8" fill="#3cd7cd" stroke="#3cd7cd"/>
<polygon points="134.0,163.0 138.3,164.8 140.4,161.0 136.1,159.1" fill="#41a6eb" stroke="#41a6eb"/>
<polygon points="127.6,164.9 131.9,166.7 134.0,163.0 129.7,161.1" fill="#4099ea" stroke="#4099ea"/>
<polygon points="170.4,154.3 174.5,156.1 176.7,152.0 172.6,150.2" fill="#3ccfd9" stroke="#3ccfd9"/>
<polygon points="187.2,151.5 191.3,153.3 193.5,149.1 189.4,147.3" fill="#3cd5d4" stroke="#3cd5d4"/>
<polygon points="164.0,156.5 168.2,158.3 170.4,154.3 166.1,152.5" fill="#3cccdc" stroke="#3cccdc"/>
<polygon points="157.6,158.7 161.8,160.5 164.0,156.5 159.7,154.7" fill="#3cc8de" stroke="#3cc8de"/>
<polygon points="180.9,153.8 185.0,155.7 187.2,151.5 183.1,149.7" fill="#3cd1d8" stroke="#3cd1d8"/>
<polygon points="151.2,160.8 155.4,162.6 157.6,158.7 153.3,156.8" fill="#3ebbe3" stroke="#3ebbe3"/>
<polygon points="144.7,162.8 149.0,164.7 151.2,160.8 146.9,158.9" fill="#40afe7" stroke="#40afe7"/>
<polygon points="138.3,164.8 142.7,166.7 144.7,162.8 140.4,161.0" fill="#41a2eb" stroke="#41a2eb"/>
<polygon points="125.5,168.6 129.9,170.5 131.9,166.7 127.6,164.9" fill="#3e86e9" stroke="#3e86e9"/>
<polygon points="131.9,166.7 136.3,168.6 138.3,164.8 134.0,163.0" fill="#3f94ea" stroke="#3f94ea"/>
<polygon points="174.5,156.1 178.7,157.9 180.9,153.8 176.7,152.0" fill="#3cceda" stroke="#3cceda"/>
<polygon points="191.3,153.3 195.4,155.2 197.6,150.9 193.5,149.1" fill="#3cd3d6" stroke="#3cd3d6"/>
<polygon points="168.2,158.3 172.4,160.2 174.5,156.1 170.4,154.3" fill="#3ccadd" stroke="#3ccadd"/>
<polygon points="161.8,160.5 166.0,162.3 168.2,158.3 164.0,156.5" fill="#3dc3e0" stroke="#3dc3e0"/>
<polygon points="185.0,155.7 189.1,157.5 191.3,153.3 187.2,151.5" fill="#3cd0d9" stroke="#3cd0d9"/>
<polygon points="155.4,162.6 159.7,164.4 161.8,160.5 157.6,158.7" fill="#3eb7e4" stroke="#3eb7e4"/>
<polygon points="149.0,164.7 153.3,166.5 155.4,162.6 151.2,160.8" fill="#40aae9" stroke="#40aae9"/>
<polygon points="178.7,157.9 182.8,159.8 185.0,155.7 180.9,153.8" fill="#3cccdb" stroke="#3cccdb"/>
<polygon points="142.7,166.7 147.0,168.5 149.0,164.7 144.7,162.8" fill="#409dea" stroke="#409dea"/>
<polygon points="129.9,170.5 134.2,172.4 136.3,168.6 131.9,166.7" fill="#3d82e9" stroke="#3d82e9"/>
<polygon points="136.3,168.6 140.6,170.5 142.7,166.7 138.3,164.8" fill="#3f8fea" stroke="#3f8fea"/>
<polygon points="172.4,160.2 176.5,162.0 178.7,157.9 174.5,156.1" fill="#3cc9de" stroke="#3cc9de"/>
<polygon points="189.1,157.5 193.2,159.4 195.4,155.2 191.3,153.3" fill="#3cceda" stroke="#3cceda"/>
<polygon points="166.0,162.3 170.2,164.2 172.4,160.2 168.2,158.3" fill="#3dbee2" stroke="#3dbee2"/>
<polygon points="159.7,164.4 163.9,166.3 166.0,162.3 161.8,160.5" fill="#3fb2e6" stroke="#3fb2e6"/>
<polygon points="182.8,159.8 187.0,161.7 189.1,157.5 185.0,155.7" fill="#3ccbdc" stroke="#3ccbdc"/>
<polygon points="153.3,166.5 157.6,168.4 159.7,164.4 155.4,162.6" fill="#41a5eb" stroke="#41a5eb"/>
<polygon points="147.0,168.5 151.2,170.4 153.3,166.5 149.0,164.7" fill="#4098ea" stroke="#4098ea"/>
<polygon points="140.6,170.5 144.9,172.3 147.0,168.5 142.7,166.7" fill="#3e8be9" stroke="#3e8be9"/>
<polygon points="134.2,172.4 138.6,174.2 140.6,170.5 136.3,168.6" fill="#3d7de8" stroke="#3d7de8"/>
<polygon points="176.5,162.0 180.7,163.9 182.8,159.8 178.7,157.9" fill="#3cc5df" stroke="#3cc5df"/>
<polygon points="170.2,164.2 174.4,166.1 176.5,162.0 172.4,160.2" fill="#3eb9e4" stroke="#3eb9e4"/>
<polygon points="163.9,166.3 168.1,168.2 170.2,164.2 166.0,162.3" fill="#40ade8" stroke="#40ade8"/>
<polygon points="187.0,161.7 191.0,163.6 193.2,159.4 189.1,157.5" fill="#3cc9dd" stroke="#3cc9dd"/>
<polygon points="157.6,168.4 161.8,170.2 163.9,166.3 159.7,164.4" fill="#40a0eb" stroke="#40a0eb"/>
<polygon points="151.2,170.4 155.5,172.2 157.6,168.4 153.3,166.5" fill="#3f93ea" stroke="#3f93ea"/>
<polygon points="144.9,172.3 149.2,174.2 151.2,170.4 147.0,168.5" fill="#3e86e9" stroke="#3e86e9"/>
<polygon points="138.6,174.2 142.9,176.1 144.9,172.3 140.6,170.5" fill="#3c79e8" stroke="#3c79e8"/>
<polygon points="180.7,163.9 184.8,165.8 187.0,161.7 182.8,159.8" fill="#3dbfe1" stroke="#3dbfe1"/>
<polygon points="174.4,166.1 178.6,168.0 180.7,163.9 176.5,162.0" fill="#3fb4e6" stroke="#3fb4e6"/>
<polygon points="168.1,168.2 172.3,170.1 174.4,166.1 170.2,164.2" fill="#41a8ea" stroke="#41a8ea"/>
<polygon points="161.8,170.2 166.1,172.1 168.1,168.2 163.9,166.3" fill="#409bea" stroke="#409bea"/>
<polygon points="155.5,172.2 159.8,174.1 161.8,170.2 157.6,168.4" fill="#3e8ee9" stroke="#3e8ee9"/>
<polygon points="184.8,165.8 188.9,167.7 191.0,163.6 187.0,161.7" fill="#3ebae3" stroke="#3ebae3"/>
<polygon points="149.2,174.2 153.5,176.0 155.5,172.2 151.2,170.4" fill="#3d81e9" stroke="#3d81e9"/>
<polygon points="142.9,176.1 147.2,177.9 149.2,174.2 144.9,172.3" fill="#3d75e8" stroke="#3d75e8"/>
<polygon points="178.6,168.0 182.7,169.9 184.8,165.8 180.7,163.9" fill="#40aee8" stroke="#40aee8"/>
<polygon points="172.3,170.1 176.5,172.0 178.6,168.0 174.4,166.1" fill="#41a2eb" stroke="#41a2eb"/>
<polygon points="166.1,172.1 170.3,174.0 172.3,170.1 168.1,168.2" fill="#3f96ea" stroke="#3f96ea"/>
<polygon points="159.8,174.1 164.0,176.0 166.1,172.1 161.8,170.2" fill="#3e89e9" stroke="#3e89e9"/>
<polygon points="153.5,176.0 157.7,177.9 159.8,174.1 155.5,172.2" fill="#3d7de8" stroke="#3d7de8"/>
<polygon points="147.2,177.9 151.5,179.8 153.5,176.0 149.2,174.2" fill="#3f71e8" stroke="#3f71e8"/>
<polygon points="182.7,169.9 186.8,171.8 188.9,167.7 184.8,165.8" fill="#41a8ea" stroke="#41a8ea"/>
<polygon points="176.5,172.0 180.6,173.9 182.7,169.9 178.6,168.0" fill="#409cea" stroke="#409cea"/>
<polygon points="170.3,174.0 174.4,176.0 176.5,172.0 172.3,170.1" fill="#3f90ea" stroke="#3f90ea"/>
<polygon points="164.0,176.0 168.2,177.9 170.3,174.0 166.1,172.1" fill="#3d84e9" stroke="#3d84e9"/>
<polygon points="157.7,177.9 162.0,179.8 164.0,176.0 159.8,174.1" fill="#3c78e8" stroke="#3c78e8"/>
<polygon points="151.5,179.8 155.8,181.7 157.7,177.9 153.5,176.0" fill="#416de8" stroke="#416de8"/>
<polygon points="180.6,173.9 184.8,175.9 186.8,171.8 182.7,169.9" fill="#3f96ea" stroke="#3f96ea"/>
<polygon points="174.4,176.0 178.6,177.9 180.6,173.9 176.5,172.0" fill="#3e8ae9" stroke="#3e8ae9"/>
<polygon points="168.2,177.9 172.4,179.9 174.4,176.0 170.3,174.0" fill="#3d7ee8" stroke="#3d7ee8"/>
<polygon points="162.0,179.8 166.2,181.8 168.2,177.9 164.0,176.0" fill="#3e73e8" stroke="#3e73e8"/>
<polygon points="155.8,181.7 160.0,183.6 162.0,179.8 157.7,177.9" fill="#4369e7" stroke="#4369e7"/>
<polygon points="178.6,177.9 182.7,179.9 184.8,175.9 180.6,173.9" fill="#3d84e9" stroke="#3d84e9"/>
<polygon points="172.4,179.9 176.6,181.9 178.6,177.9 174.4,176.0" fill="#3c78e8" stroke="#3c78e8"/>
<polygon points="166.2,181.8 170.4,183.8 172.4,179.9 168.2,177.9" fill="#406ee8" stroke="#406ee8"/>
<polygon points="160.0,183.6 164.2,185.6 166.2,181.8 162.0,179.8" fill="#4564e7" stroke="#4564e7"/>
<polygon points="176.6,181.9 180.7,183.9 182.7,179.9 178.6,177.9" fill="#3e73e8" stroke="#3e73e8"/>
<polygon points="170.4,183.8 174.6,185.8 176.6,181.9 172.4,179.9" fill="#4369e7" stroke="#4369e7"/>
<polygon points="164.2,185.6 168.5,187.6 170.4,183.8 166.2,181.8" fill="#475fe7" stroke="#475fe7"/>
<polygon points="174.6,185.8 178.8,187.8 180.7,183.9 176.6,181.9" fill="#4564e7" stroke="#4564e7"/>
<polygon points="168.5,187.6 172.7,189.6 174.6,185.8 170.4,183.8" fill="#495ae7" stroke="#495ae7"/>
<polygon points="172.7,189.6 176.8,191.7 178.8,187.8 174.6,185.8" fill="#4c55e6" stroke="#4c55e6"/>
</g>
<g fill="none" stroke="#000" stroke-opacity="0.26" stroke-width="0.5">
<polyline points="49.2,126.6 51.4,123.0 53.6,119.4 55.9,115.7 58.2,112.1 60.5,108.4 62.9,104.7 65.3,101.1 67.7,97.4 70.2,93.7 72.7,90.1 75.3,86.4 77.9,82.8 80.5,79.2 83.1,75.7 85.8,72.1 88.5,68.7 91.2,65.2 93.9,61.8 96.7,58.5 99.5,55.3 102.3,52.1 105.1,48.9 107.9,45.9 110.8,42.9 113.6,40.0 116.5,37.2 119.4,34.5 122.3,31.9 125.2,29.4"/>
<polyline points="49.2,126.6 53.9,130.1 58.5,133.4 63.0,136.6 67.6,139.5 72.2,142.3 76.7,145.0 81.2,147.6 85.7,150.0 90.2,152.3 94.6,154.6 99.1,156.8 103.5,158.8 107.9,160.9 112.3,162.9 116.8,164.8 121.1,166.7 125.5,168.6 129.9,170.5 134.2,172.4 138.6,174.2 142.9,176.1 147.2,177.9 151.5,179.8 155.8,181.7 160.0,183.6 164.2,185.6 168.5,187.6 172.7,189.6 176.8,191.7"/>
<polyline points="53.9,130.1 56.0,126.5 58.2,122.8 60.5,119.2 62.8,115.5 65.1,111.8 67.5,108.0 69.9,104.3 72.3,100.6 74.8,96.9 77.3,93.2 79.8,89.5 82.4,85.8 85.0,82.2 87.6,78.6 90.2,75.0 92.9,71.5 95.6,68.0 98.3,64.5 101.1,61.1 103.8,57.8 106.6,54.5 109.4,51.3 112.2,48.2 115.1,45.1 117.9,42.2 120.8,39.3 123.6,36.5 126.5,33.8 129.4,31.1"/>
<polyline points="51.4,123.0 56.0,126.5 60.6,129.8 65.2,132.9 69.7,135.8 74.3,138.6 78.8,141.3 83.3,143.8 87.8,146.3 92.3,148.6 96.7,150.8 101.2,153.0 105.6,155.1 110.0,157.1 114.4,159.1 118.8,161.1 123.2,163.0 127.6,164.9 131.9,166.7 136.3,168.6 140.6,170.5 144.9,172.3 149.2,174.2 153.5,176.0 157.7,177.9 162.0,179.8 166.2,181.8 170.4,183.8 174.6,185.8 178.8,187.8"/>
<polyline points="58.5,133.4 60.6,129.8 62.8,126.1 65.1,122.4 67.3,118.7 69.6,114.9 72.0,111.2 74.4,107.4 76.8,103.7 79.3,99.9 81.8,96.2 84.3,92.5 86.8,88.8 89.4,85.1 92.0,81.4 94.7,77.8 97.3,74.2 100.0,70.6 102.7,67.1 105.5,63.7 108.2,60.3 111.0,56.9 113.8,53.7 116.6,50.5 119.4,47.3 122.2,44.3 125.0,41.3 127.9,38.4 130.7,35.6 133.6,32.9"/>
<polyline points="53.6,119.4 58.2,122.8 62.8,126.1 67.4,129.2 71.9,132.1 76.5,134.9 81.0,137.6 85.5,140.1 89.9,142.5 94.4,144.8 98.9,147.1 103.3,149.2 107.7,151.3 112.1,153.4 116.5,155.4 120.9,157.3 125.3,159.2 129.7,161.1 134.0,163.0 138.3,164.8 142.7,166.7 147.0,168.5 151.2,170.4 155.5,172.2 159.8,174.1 164.0,176.0 168.2,177.9 172.4,179.9 176.6,181.9 180.7,183.9"/>
<polyline points="63.0,136.6 65.2,132.9 67.4,129.2 69.6,125.5 71.9,121.7 74.2,118.0 76.5,114.2 78.9,110.4 81.3,106.6 83.8,102.8 86.2,99.1 88.8,95.3 91.3,91.5 93.9,87.8 96.5,84.1 99.1,80.4 101.7,76.8 104.4,73.2 107.1,69.6 109.8,66.1 112.5,62.7 115.3,59.3 118.1,55.9 120.9,52.6 123.7,49.4 126.5,46.3 129.3,43.2 132.1,40.3 135.0,37.4 137.8,34.6"/>
<polyline points="55.9,115.7 60.5,119.2 65.1,122.4 69.6,125.5 74.2,128.4 78.7,131.1 83.2,133.8 87.7,136.3 92.1,138.7 96.6,141.0 101.0,143.3 105.5,145.4 109.9,147.5 114.3,149.5 118.7,151.5 123.1,153.5 127.4,155.4 131.8,157.3 136.1,159.1 140.4,161.0 144.7,162.8 149.0,164.7 153.3,166.5 157.6,168.4 161.8,170.2 166.1,172.1 170.3,174.0 174.4,176.0 178.6,177.9 182.7,179.9"/>
<polyline points="67.6,139.5 69.7,135.8 71.9,132.1 74.2,128.4 76.4,124.6 78.7,120.8 81.0,117.0 83.4,113.2 85.8,109.4 88.2,105.6 90.7,101.8 93.2,98.0 95.7,94.2 98.3,90.4 100.9,86.7 103.5,83.0 106.1,79.3 108.8,75.6 111.5,72.0 114.2,68.5 116.9,65.0 119.6,61.5 122.4,58.1 125.1,54.8 127.9,51.5 130.7,48.3 133.5,45.2 136.3,42.1 139.2,39.1 142.0,36.3"/>
<polyline points="58.2,112.1 62.8,115.5 67.3,118.7 71.9,121.7 76.4,124.6 80.9,127.4 85.4,130.0 89.9,132.5 94.4,134.9 98.8,137.2 103.2,139.4 107.7,141.6 112.1,143.7 116.5,145.7 120.9,147.7 125.2,149.6 129.6,151.5 133.9,153.4 138.3,155.2 142.6,157.1 146.9,158.9 151.2,160.8 155.4,162.6 159.7,164.4 163.9,166.3 168.1,168.2 172.3,170.1 176.5,172.0 180.6,173.9 184.8,175.9"/>
<polyline points="72.2,142.3 74.3,138.6 76.5,134.9 78.7,131.1 80.9,127.4 83.2,123.6 85.5,119.7 87.9,115.9 90.3,112.1 92.7,108.2 95.2,104.4 97.7,100.6 100.2,96.8 102.7,93.0 105.3,89.2 107.9,85.4 110.5,81.7 113.2,78.0 115.8,74.4 118.5,70.7 121.2,67.2 123.9,63.7 126.7,60.2 129.4,56.8 132.2,53.5 135.0,50.2 137.8,47.0 140.6,43.9 143.4,40.9 146.2,37.9"/>
<polyline points="60.5,108.4 65.1,111.8 69.6,114.9 74.2,118.0 78.7,120.8 83.2,123.6 87.7,126.2 92.2,128.7 96.6,131.1 101.1,133.4 105.5,135.6 109.9,137.7 114.3,139.8 118.7,141.8 123.1,143.8 127.4,145.7 131.8,147.6 136.1,149.5 140.4,151.3 144.7,153.2 149.0,155.0 153.3,156.8 157.6,158.7 161.8,160.5 166.0,162.3 170.2,164.2 174.4,166.1 178.6,168.0 182.7,169.9 186.8,171.8"/>
<polyline points="76.7,145.0 78.8,141.3 81.0,137.6 83.2,133.8 85.4,130.0 87.7,126.2 90.0,122.3 92.4,118.5 94.7,114.6 97.2,110.8 99.6,106.9 102.1,103.1 104.6,99.2 107.1,95.4 109.7,91.6 112.3,87.8 114.9,84.0 117.5,80.3 120.2,76.6 122.8,72.9 125.5,69.3 128.2,65.8 131.0,62.3 133.7,58.8 136.4,55.4 139.2,52.1 142.0,48.8 144.8,45.7 147.6,42.5 150.3,39.5"/>
<polyline points="62.9,104.7 67.5,108.0 72.0,111.2 76.5,114.2 81.0,117.0 85.5,119.7 90.0,122.3 94.5,124.8 98.9,127.2 103.3,129.5 107.8,131.7 112.2,133.8 116.6,135.9 120.9,137.9 125.3,139.9 129.7,141.8 134.0,143.7 138.3,145.6 142.6,147.4 146.9,149.2 151.2,151.1 155.5,152.9 159.7,154.7 164.0,156.5 168.2,158.3 172.4,160.2 176.5,162.0 180.7,163.9 184.8,165.8 188.9,167.7"/>
<polyline points="81.2,147.6 83.3,143.8 85.5,140.1 87.7,136.3 89.9,132.5 92.2,128.7 94.5,124.8 96.8,120.9 99.2,117.1 101.6,113.2 104.0,109.3 106.5,105.4 109.0,101.6 111.5,97.7 114.1,93.9 116.6,90.1 119.2,86.3 121.8,82.5 124.5,78.8 127.1,75.1 129.8,71.4 132.5,67.8 135.2,64.3 137.9,60.8 140.7,57.3 143.4,53.9 146.2,50.6 148.9,47.4 151.7,44.2 154.5,41.1"/>
<polyline points="65.3,101.1 69.9,104.3 74.4,107.4 78.9,110.4 83.4,113.2 87.9,115.9 92.4,118.5 96.8,120.9 101.2,123.3 105.7,125.6 110.1,127.8 114.5,129.9 118.9,132.0 123.2,134.0 127.6,136.0 131.9,137.9 136.3,139.8 140.6,141.6 144.9,143.4 149.2,145.3 153.4,147.1 157.7,148.9 161.9,150.7 166.1,152.5 170.4,154.3 174.5,156.1 178.7,157.9 182.8,159.8 187.0,161.7 191.0,163.6"/>
<polyline points="85.7,150.0 87.8,146.3 89.9,142.5 92.1,138.7 94.4,134.9 96.6,131.1 98.9,127.2 101.2,123.3 103.6,119.4 106.0,115.5 108.4,111.6 110.9,107.7 113.4,103.8 115.9,100.0 118.4,96.1 121.0,92.3 123.6,88.4 126.2,84.6 128.8,80.9 131.4,77.1 134.1,73.4 136.8,69.8 139.5,66.2 142.2,62.6 144.9,59.1 147.6,55.7 150.4,52.3 153.1,49.0 155.9,45.8 158.6,42.6"/>
<polyline points="67.7,97.4 72.3,100.6 76.8,103.7 81.3,106.6 85.8,109.4 90.3,112.1 94.7,114.6 99.2,117.1 103.6,119.4 108.0,121.7 112.4,123.9 116.8,126.0 121.2,128.0 125.5,130.0 129.9,132.0 134.2,133.9 138.5,135.8 142.9,137.6 147.1,139.5 151.4,141.3 155.7,143.1 159.9,144.8 164.2,146.6 168.4,148.4 172.6,150.2 176.7,152.0 180.9,153.8 185.0,155.7 189.1,157.5 193.2,159.4"/>
<polyline points="90.2,152.3 92.3,148.6 94.4,144.8 96.6,141.0 98.8,137.2 101.1,133.4 103.3,129.5 105.7,125.6 108.0,121.7 110.4,117.8 112.8,113.9 115.3,110.0 117.7,106.0 120.2,102.1 122.8,98.3 125.3,94.4 127.9,90.5 130.5,86.7 133.1,82.9 135.7,79.1 138.4,75.4 141.0,71.7 143.7,68.1 146.4,64.5 149.1,60.9 151.8,57.4 154.6,54.0 157.3,50.7 160.0,47.4 162.8,44.1"/>
<polyline points="70.2,93.7 74.8,96.9 79.3,99.9 83.8,102.8 88.2,105.6 92.7,108.2 97.2,110.8 101.6,113.2 106.0,115.5 110.4,117.8 114.8,120.0 119.2,122.1 123.5,124.1 127.9,126.1 132.2,128.0 136.6,129.9 140.9,131.8 145.2,133.6 149.4,135.4 153.7,137.2 158.0,139.0 162.2,140.8 166.4,142.6 170.6,144.3 174.8,146.1 178.9,147.9 183.1,149.7 187.2,151.5 191.3,153.3 195.4,155.2"/>
<polyline points="94.6,154.6 96.7,150.8 98.9,147.1 101.0,143.3 103.2,139.4 105.5,135.6 107.8,131.7 110.1,127.8 112.4,123.9 114.8,120.0 117.2,116.0 119.6,112.1 122.1,108.2 124.6,104.2 127.1,100.3 129.6,96.4 132.2,92.6 134.8,88.7 137.4,84.9 140.0,81.1 142.6,77.3 145.3,73.6 147.9,69.9 150.6,66.3 153.3,62.7 156.0,59.1 158.7,55.7 161.4,52.2 164.2,48.9 166.9,45.6"/>
<polyline points="72.7,90.1 77.3,93.2 81.8,96.2 86.2,99.1 90.7,101.8 95.2,104.4 99.6,106.9 104.0,109.3 108.4,111.6 112.8,113.9 117.2,116.0 121.6,118.1 125.9,120.1 130.3,122.1 134.6,124.1 138.9,125.9 143.2,127.8 147.5,129.6 151.8,131.4 156.0,133.2 160.3,135.0 164.5,136.7 168.7,138.5 172.9,140.2 177.0,142.0 181.2,143.7 185.3,145.5 189.4,147.3 193.5,149.1 197.6,150.9"/>
<polyline points="99.1,156.8 101.2,153.0 103.3,149.2 105.5,145.4 107.7,141.6 109.9,137.7 112.2,133.8 114.5,129.9 116.8,126.0 119.2,122.1 121.6,118.1 124.0,114.2 126.4,110.2 128.9,106.3 131.4,102.4 133.9,98.4 136.5,94.5 139.1,90.6 141.6,86.8 144.3,83.0 146.9,79.2 149.5,75.4 152.2,71.7 154.8,68.0 157.5,64.4 160.2,60.8 162.9,57.3 165.6,53.8 168.3,50.4 171.0,47.1"/>
<polyline points="75.3,86.4 79.8,89.5 84.3,92.5 88.8,95.3 93.2,98.0 97.7,100.6 102.1,103.1 106.5,105.4 110.9,107.7 115.3,110.0 119.6,112.1 124.0,114.2 128.3,116.2 132.7,118.1 137.0,120.1 141.3,121.9 145.6,123.8 149.8,125.6 154.1,127.4 158.4,129.1 162.6,130.9 166.8,132.6 171.0,134.4 175.2,136.1 179.3,137.8 183.4,139.6 187.6,141.3 191.7,143.1 195.7,144.8 199.8,146.6"/>
<polyline points="103.5,158.8 105.6,155.1 107.7,151.3 109.9,147.5 112.1,143.7 114.3,139.8 116.6,135.9 118.9,132.0 121.2,128.0 123.5,124.1 125.9,120.1 128.3,116.2 130.8,112.2 133.2,108.3 135.7,104.3 138.2,100.4 140.8,96.4 143.3,92.5 145.9,88.7 148.5,84.8 151.1,81.0 153.7,77.2 156.4,73.4 159.0,69.7 161.7,66.0 164.3,62.4 167.0,58.8 169.7,55.3 172.4,51.9 175.1,48.5"/>
<polyline points="77.9,82.8 82.4,85.8 86.8,88.8 91.3,91.5 95.7,94.2 100.2,96.8 104.6,99.2 109.0,101.6 113.4,103.8 117.7,106.0 122.1,108.2 126.4,110.2 130.8,112.2 135.1,114.2 139.4,116.1 143.7,117.9 148.0,119.8 152.2,121.6 156.5,123.3 160.7,125.1 164.9,126.8 169.1,128.5 173.3,130.3 177.5,132.0 181.6,133.7 185.7,135.4 189.8,137.1 193.9,138.8 198.0,140.6 202.0,142.3"/>
<polyline points="107.9,160.9 110.0,157.1 112.1,153.4 114.3,149.5 116.5,145.7 118.7,141.8 120.9,137.9 123.2,134.0 125.5,130.0 127.9,126.1 130.3,122.1 132.7,118.1 135.1,114.2 137.6,110.2 140.0,106.2 142.5,102.3 145.0,98.3 147.6,94.4 150.1,90.5 152.7,86.6 155.3,82.7 157.9,78.9 160.5,75.1 163.2,71.3 165.8,67.6 168.5,64.0 171.2,60.3 173.8,56.8 176.5,53.3 179.2,49.8"/>
<polyline points="80.5,79.2 85.0,82.2 89.4,85.1 93.9,87.8 98.3,90.4 102.7,93.0 107.1,95.4 111.5,97.7 115.9,100.0 120.2,102.1 124.6,104.2 128.9,106.3 133.2,108.3 137.6,110.2 141.8,112.1 146.1,113.9 150.4,115.7 154.6,117.5 158.9,119.3 163.1,121.0 167.3,122.7 171.5,124.4 175.7,126.1 179.8,127.8 183.9,129.5 188.0,131.2 192.1,132.9 196.2,134.5 200.3,136.2 204.3,137.9"/>
<polyline points="112.3,162.9 114.4,159.1 116.5,155.4 118.7,151.5 120.9,147.7 123.1,143.8 125.3,139.9 127.6,136.0 129.9,132.0 132.2,128.0 134.6,124.1 137.0,120.1 139.4,116.1 141.8,112.1 144.3,108.1 146.8,104.1 149.3,100.1 151.8,96.2 154.4,92.2 156.9,88.3 159.5,84.4 162.1,80.6 164.7,76.8 167.3,73.0 170.0,69.2 172.6,65.5 175.3,61.8 177.9,58.2 180.6,54.7 183.3,51.2"/>
<polyline points="83.1,75.7 87.6,78.6 92.0,81.4 96.5,84.1 100.9,86.7 105.3,89.2 109.7,91.6 114.1,93.9 118.4,96.1 122.8,98.3 127.1,100.3 131.4,102.4 135.7,104.3 140.0,106.2 144.3,108.1 148.6,109.9 152.8,111.7 157.1,113.5 161.3,115.2 165.5,116.9 169.7,118.6 173.9,120.3 178.0,122.0 182.2,123.6 186.3,125.3 190.4,126.9 194.5,128.6 198.5,130.2 202.5,131.9 206.6,133.6"/>
<polyline points="116.8,164.8 118.8,161.1 120.9,157.3 123.1,153.5 125.2,149.6 127.4,145.7 129.7,141.8 131.9,137.9 134.2,133.9 136.6,129.9 138.9,125.9 141.3,121.9 143.7,117.9 146.1,113.9 148.6,109.9 151.1,105.9 153.5,101.9 156.1,98.0 158.6,94.0 161.1,90.0 163.7,86.1 166.3,82.2 168.9,78.4 171.5,74.5 174.1,70.7 176.7,67.0 179.4,63.3 182.0,59.6 184.7,56.0 187.3,52.5"/>
<polyline points="85.8,72.1 90.2,75.0 94.7,77.8 99.1,80.4 103.5,83.0 107.9,85.4 112.3,87.8 116.6,90.1 121.0,92.3 125.3,94.4 129.6,96.4 133.9,98.4 138.2,100.4 142.5,102.3 146.8,104.1 151.1,105.9 155.3,107.7 159.5,109.4 163.7,111.2 167.9,112.8 172.1,114.5 176.3,116.2 180.4,117.8 184.5,119.4 188.6,121.1 192.7,122.7 196.8,124.3 200.8,125.9 204.9,127.6 208.9,129.2"/>
<polyline points="121.1,166.7 123.2,163.0 125.3,159.2 127.4,155.4 129.6,151.5 131.8,147.6 134.0,143.7 136.3,139.8 138.5,135.8 140.9,131.8 143.2,127.8 145.6,123.8 148.0,119.8 150.4,115.7 152.8,111.7 155.3,107.7 157.8,103.7 160.3,99.7 162.8,95.7 165.3,91.7 167.9,87.8 170.5,83.8 173.0,79.9 175.6,76.1 178.2,72.2 180.8,68.5 183.5,64.7 186.1,61.0 188.7,57.3 191.3,53.7"/>
<polyline points="88.5,68.7 92.9,71.5 97.3,74.2 101.7,76.8 106.1,79.3 110.5,81.7 114.9,84.0 119.2,86.3 123.6,88.4 127.9,90.5 132.2,92.6 136.5,94.5 140.8,96.4 145.0,98.3 149.3,100.1 153.5,101.9 157.8,103.7 162.0,105.4 166.2,107.1 170.4,108.8 174.5,110.4 178.7,112.0 182.8,113.7 186.9,115.3 191.0,116.9 195.1,118.4 199.1,120.0 203.2,121.6 207.2,123.2 211.2,124.8"/>
<polyline points="125.5,168.6 127.6,164.9 129.7,161.1 131.8,157.3 133.9,153.4 136.1,149.5 138.3,145.6 140.6,141.6 142.9,137.6 145.2,133.6 147.5,129.6 149.8,125.6 152.2,121.6 154.6,117.5 157.1,113.5 159.5,109.4 162.0,105.4 164.5,101.4 167.0,97.4 169.5,93.4 172.0,89.4 174.6,85.4 177.2,81.5 179.7,77.6 182.3,73.7 184.9,69.9 187.5,66.1 190.1,62.3 192.8,58.6 195.4,54.9"/>
<polyline points="91.2,65.2 95.6,68.0 100.0,70.6 104.4,73.2 108.8,75.6 113.2,78.0 117.5,80.3 121.8,82.5 126.2,84.6 130.5,86.7 134.8,88.7 139.1,90.6 143.3,92.5 147.6,94.4 151.8,96.2 156.1,98.0 160.3,99.7 164.5,101.4 168.7,103.0 172.8,104.7 177.0,106.3 181.1,107.9 185.2,109.5 189.3,111.1 193.4,112.6 197.5,114.2 201.5,115.7 205.5,117.3 209.5,118.8 213.5,120.4"/>
<polyline points="129.9,170.5 131.9,166.7 134.0,163.0 136.1,159.1 138.3,155.2 140.4,151.3 142.6,147.4 144.9,143.4 147.1,139.5 149.4,135.4 151.8,131.4 154.1,127.4 156.5,123.3 158.9,119.3 161.3,115.2 163.7,111.2 166.2,107.1 168.7,103.0 171.2,99.0 173.7,95.0 176.2,91.0 178.7,87.0 181.3,83.0 183.8,79.1 186.4,75.1 189.0,71.3 191.6,67.4 194.2,63.6 196.8,59.9 199.4,56.1"/>
<polyline points="93.9,61.8 98.3,64.5 102.7,67.1 107.1,69.6 111.5,72.0 115.8,74.4 120.2,76.6 124.5,78.8 128.8,80.9 133.1,82.9 137.4,84.9 141.6,86.8 145.9,88.7 150.1,90.5 154.4,92.2 158.6,94.0 162.8,95.7 167.0,97.4 171.2,99.0 175.3,100.6 179.5,102.2 183.6,103.8 187.7,105.3 191.8,106.9 195.8,108.4 199.9,109.9 203.9,111.4 207.9,112.9 211.9,114.4 215.9,115.9"/>
<polyline points="134.2,172.4 136.3,168.6 138.3,164.8 140.4,161.0 142.6,157.1 144.7,153.2 146.9,149.2 149.2,145.3 151.4,141.3 153.7,137.2 156.0,133.2 158.4,129.1 160.7,125.1 163.1,121.0 165.5,116.9 167.9,112.8 170.4,108.8 172.8,104.7 175.3,100.6 177.8,96.6 180.3,92.5 182.8,88.5 185.4,84.5 187.9,80.5 190.5,76.5 193.0,72.6 195.6,68.7 198.2,64.9 200.8,61.1 203.4,57.3"/>
<polyline points="96.7,58.5 101.1,61.1 105.5,63.7 109.8,66.1 114.2,68.5 118.5,70.7 122.8,72.9 127.1,75.1 131.4,77.1 135.7,79.1 140.0,81.1 144.3,83.0 148.5,84.8 152.7,86.6 156.9,88.3 161.1,90.0 165.3,91.7 169.5,93.4 173.7,95.0 177.8,96.6 181.9,98.1 186.0,99.7 190.1,101.2 194.2,102.7 198.3,104.2 202.3,105.7 206.3,107.1 210.3,108.6 214.3,110.0 218.2,111.5"/>
<polyline points="138.6,174.2 140.6,170.5 142.7,166.7 144.7,162.8 146.9,158.9 149.0,155.0 151.2,151.1 153.4,147.1 155.7,143.1 158.0,139.0 160.3,135.0 162.6,130.9 164.9,126.8 167.3,122.7 169.7,118.6 172.1,114.5 174.5,110.4 177.0,106.3 179.5,102.2 181.9,98.1 184.4,94.0 186.9,90.0 189.5,85.9 192.0,81.9 194.5,77.9 197.1,74.0 199.6,70.0 202.2,66.1 204.8,62.3 207.4,58.4"/>
<polyline points="99.5,55.3 103.8,57.8 108.2,60.3 112.5,62.7 116.9,65.0 121.2,67.2 125.5,69.3 129.8,71.4 134.1,73.4 138.4,75.4 142.6,77.3 146.9,79.2 151.1,81.0 155.3,82.7 159.5,84.4 163.7,86.1 167.9,87.8 172.0,89.4 176.2,91.0 180.3,92.5 184.4,94.0 188.5,95.5 192.6,97.0 196.7,98.5 200.7,100.0 204.7,101.4 208.7,102.8 212.7,104.2 216.7,105.6 220.6,107.0"/>
<polyline points="142.9,176.1 144.9,172.3 147.0,168.5 149.0,164.7 151.2,160.8 153.3,156.8 155.5,152.9 157.7,148.9 159.9,144.8 162.2,140.8 164.5,136.7 166.8,132.6 169.1,128.5 171.5,124.4 173.9,120.3 176.3,116.2 178.7,112.0 181.1,107.9 183.6,103.8 186.0,99.7 188.5,95.5 191.0,91.5 193.5,87.4 196.0,83.3 198.6,79.3 201.1,75.3 203.7,71.3 206.2,67.3 208.8,63.4 211.3,59.5"/>
<polyline points="102.3,52.1 106.6,54.5 111.0,56.9 115.3,59.3 119.6,61.5 123.9,63.7 128.2,65.8 132.5,67.8 136.8,69.8 141.0,71.7 145.3,73.6 149.5,75.4 153.7,77.2 157.9,78.9 162.1,80.6 166.3,82.2 170.5,83.8 174.6,85.4 178.7,87.0 182.8,88.5 186.9,90.0 191.0,91.5 195.1,92.9 199.1,94.3 203.2,95.7 207.2,97.1 211.2,98.5 215.1,99.9 219.1,101.2 223.0,102.6"/>
<polyline points="147.2,177.9 149.2,174.2 151.2,170.4 153.3,166.5 155.4,162.6 157.6,158.7 159.7,154.7 161.9,150.7 164.2,146.6 166.4,142.6 168.7,138.5 171.0,134.4 173.3,130.3 175.7,126.1 178.0,122.0 180.4,117.8 182.8,113.7 185.2,109.5 187.7,105.3 190.1,101.2 192.6,97.0 195.1,92.9 197.6,88.8 200.1,84.7 202.6,80.6 205.1,76.5 207.7,72.5 210.2,68.5 212.7,64.5 215.3,60.6"/>
<polyline points="105.1,48.9 109.4,51.3 113.8,53.7 118.1,55.9 122.4,58.1 126.7,60.2 131.0,62.3 135.2,64.3 139.5,66.2 143.7,68.1 147.9,69.9 152.2,71.7 156.4,73.4 160.5,75.1 164.7,76.8 168.9,78.4 173.0,79.9 177.2,81.5 181.3,83.0 185.4,84.5 189.5,85.9 193.5,87.4 197.6,88.8 201.6,90.2 205.6,91.5 209.6,92.9 213.6,94.2 217.5,95.5 221.5,96.8 225.4,98.1"/>
<polyline points="151.5,179.8 153.5,176.0 155.5,172.2 157.6,168.4 159.7,164.4 161.8,160.5 164.0,156.5 166.1,152.5 168.4,148.4 170.6,144.3 172.9,140.2 175.2,136.1 177.5,132.0 179.8,127.8 182.2,123.6 184.5,119.4 186.9,115.3 189.3,111.1 191.8,106.9 194.2,102.7 196.7,98.5 199.1,94.3 201.6,90.2 204.1,86.0 206.6,81.9 209.1,77.8 211.6,73.7 214.1,69.6 216.7,65.6 219.2,61.6"/>
<polyline points="107.9,45.9 112.2,48.2 116.6,50.5 120.9,52.6 125.1,54.8 129.4,56.8 133.7,58.8 137.9,60.8 142.2,62.6 146.4,64.5 150.6,66.3 154.8,68.0 159.0,69.7 163.2,71.3 167.3,73.0 171.5,74.5 175.6,76.1 179.7,77.6 183.8,79.1 187.9,80.5 192.0,81.9 196.0,83.3 200.1,84.7 204.1,86.0 208.1,87.3 212.1,88.6 216.0,89.9 220.0,91.2 223.9,92.4 227.8,93.6"/>
<polyline points="155.8,181.7 157.7,177.9 159.8,174.1 161.8,170.2 163.9,166.3 166.0,162.3 168.2,158.3 170.4,154.3 172.6,150.2 174.8,146.1 177.0,142.0 179.3,137.8 181.6,133.7 183.9,129.5 186.3,125.3 188.6,121.1 191.0,116.9 193.4,112.6 195.8,108.4 198.3,104.2 200.7,100.0 203.2,95.7 205.6,91.5 208.1,87.3 210.6,83.2 213.1,79.0 215.6,74.9 218.1,70.7 220.6,66.6 223.1,62.6"/>
<polyline points="110.8,42.9 115.1,45.1 119.4,47.3 123.7,49.4 127.9,51.5 132.2,53.5 136.4,55.4 140.7,57.3 144.9,59.1 149.1,60.9 153.3,62.7 157.5,64.4 161.7,66.0 165.8,67.6 170.0,69.2 174.1,70.7 178.2,72.2 182.3,73.7 186.4,75.1 190.5,76.5 194.5,77.9 198.6,79.3 202.6,80.6 206.6,81.9 210.6,83.2 214.6,84.4 218.5,85.6 222.4,86.8 226.3,88.0 230.2,89.2"/>
<polyline points="160.0,183.6 162.0,179.8 164.0,176.0 166.1,172.1 168.1,168.2 170.2,164.2 172.4,160.2 174.5,156.1 176.7,152.0 178.9,147.9 181.2,143.7 183.4,139.6 185.7,135.4 188.0,131.2 190.4,126.9 192.7,122.7 195.1,118.4 197.5,114.2 199.9,109.9 202.3,105.7 204.7,101.4 207.2,97.1 209.6,92.9 212.1,88.6 214.6,84.4 217.0,80.2 219.5,76.0 222.0,71.8 224.5,67.7 227.0,63.5"/>
<polyline points="113.6,40.0 117.9,42.2 122.2,44.3 126.5,46.3 130.7,48.3 135.0,50.2 139.2,52.1 143.4,53.9 147.6,55.7 151.8,57.4 156.0,59.1 160.2,60.8 164.3,62.4 168.5,64.0 172.6,65.5 176.7,67.0 180.8,68.5 184.9,69.9 189.0,71.3 193.0,72.6 197.1,74.0 201.1,75.3 205.1,76.5 209.1,77.8 213.1,79.0 217.0,80.2 221.0,81.4 224.9,82.5 228.8,83.6 232.7,84.7"/>
<polyline points="164.2,185.6 166.2,181.8 168.2,177.9 170.3,174.0 172.3,170.1 174.4,166.1 176.5,162.0 178.7,157.9 180.9,153.8 183.1,149.7 185.3,145.5 187.6,141.3 189.8,137.1 192.1,132.9 194.5,128.6 196.8,124.3 199.1,120.0 201.5,115.7 203.9,111.4 206.3,107.1 208.7,102.8 211.2,98.5 213.6,94.2 216.0,89.9 218.5,85.6 221.0,81.4 223.4,77.1 225.9,72.9 228.4,68.6 230.9,64.4"/>
<polyline points="116.5,37.2 120.8,39.3 125.0,41.3 129.3,43.2 133.5,45.2 137.8,47.0 142.0,48.8 146.2,50.6 150.4,52.3 154.6,54.0 158.7,55.7 162.9,57.3 167.0,58.8 171.2,60.3 175.3,61.8 179.4,63.3 183.5,64.7 187.5,66.1 191.6,67.4 195.6,68.7 199.6,70.0 203.7,71.3 207.7,72.5 211.6,73.7 215.6,74.9 219.5,76.0 223.4,77.1 227.3,78.2 231.2,79.2 235.1,80.3"/>
<polyline points="168.5,187.6 170.4,183.8 172.4,179.9 174.4,176.0 176.5,172.0 178.6,168.0 180.7,163.9 182.8,159.8 185.0,155.7 187.2,151.5 189.4,147.3 191.7,143.1 193.9,138.8 196.2,134.5 198.5,130.2 200.8,125.9 203.2,121.6 205.5,117.3 207.9,112.9 210.3,108.6 212.7,104.2 215.1,99.9 217.5,95.5 220.0,91.2 222.4,86.8 224.9,82.5 227.3,78.2 229.8,73.9 232.3,69.6 234.8,65.3"/>
<polyline points="119.4,34.5 123.6,36.5 127.9,38.4 132.1,40.3 136.3,42.1 140.6,43.9 144.8,45.7 148.9,47.4 153.1,49.0 157.3,50.7 161.4,52.2 165.6,53.8 169.7,55.3 173.8,56.8 177.9,58.2 182.0,59.6 186.1,61.0 190.1,62.3 194.2,63.6 198.2,64.9 202.2,66.1 206.2,67.3 210.2,68.5 214.1,69.6 218.1,70.7 222.0,71.8 225.9,72.9 229.8,73.9 233.7,74.9 237.5,75.8"/>
<polyline points="172.7,189.6 174.6,185.8 176.6,181.9 178.6,177.9 180.6,173.9 182.7,169.9 184.8,165.8 187.0,161.7 189.1,157.5 191.3,153.3 193.5,149.1 195.7,144.8 198.0,140.6 200.3,136.2 202.5,131.9 204.9,127.6 207.2,123.2 209.5,118.8 211.9,114.4 214.3,110.0 216.7,105.6 219.1,101.2 221.5,96.8 223.9,92.4 226.3,88.0 228.8,83.6 231.2,79.2 233.7,74.9 236.1,70.5 238.6,66.2"/>
<polyline points="122.3,31.9 126.5,33.8 130.7,35.6 135.0,37.4 139.2,39.1 143.4,40.9 147.6,42.5 151.7,44.2 155.9,45.8 160.0,47.4 164.2,48.9 168.3,50.4 172.4,51.9 176.5,53.3 180.6,54.7 184.7,56.0 188.7,57.3 192.8,58.6 196.8,59.9 200.8,61.1 204.8,62.3 208.8,63.4 212.7,64.5 216.7,65.6 220.6,66.6 224.5,67.7 228.4,68.6 232.3,69.6 236.1,70.5 240.0,71.4"/>
<polyline points="176.8,191.7 178.8,187.8 180.7,183.9 182.7,179.9 184.8,175.9 186.8,171.8 188.9,167.7 191.0,163.6 193.2,159.4 195.4,155.2 197.6,150.9 199.8,146.6 202.0,142.3 204.3,137.9 206.6,133.6 208.9,129.2 211.2,124.8 213.5,120.4 215.9,115.9 218.2,111.5 220.6,107.0 223.0,102.6 225.4,98.1 227.8,93.6 230.2,89.2 232.7,84.7 235.1,80.3 237.5,75.8 240.0,71.4 242.4,67.0"/>
<polyline points="125.2,29.4 129.4,31.1 133.6,32.9 137.8,34.6 142.0,36.3 146.2,37.9 150.3,39.5 154.5,41.1 158.6,42.6 162.8,44.1 166.9,45.6 171.0,47.1 175.1,48.5 179.2,49.8 183.3,51.2 187.3,52.5 191.3,53.7 195.4,54.9 199.4,56.1 203.4,57.3 207.4,58.4 211.3,59.5 215.3,60.6 219.2,61.6 223.1,62.6 227.0,63.5 230.9,64.4 234.8,65.3 238.6,66.2 242.4,67.0"/>
</g>
<g stroke="#1a3a1a" stroke-opacity="0.4" stroke-width="0.65"><line x1="52.4" y1="173.1" x2="126.4" y2="117.5" stroke="#000" stroke-width="0.7" /><line x1="126.4" y1="117.5" x2="237.0" y2="147.6" stroke="#000" stroke-width="0.7" /><line x1="126.4" y1="117.5" x2="124.8" y2="3.8" stroke="#000" stroke-width="0.7" /></g>
<line x1="52.4" y1="173.1" x2="43.4" y2="42.2" stroke="#222" stroke-width="1.0" />
<line x1="52.4" y1="173.1" x2="176.2" y2="216.4" stroke="#222" stroke-width="1.0" />
<line x1="176.2" y1="216.4" x2="237.0" y2="147.6" stroke="#222" stroke-width="1.0" />
<line x1="47.2" y1="173.1" x2="52.4" y2="173.1" stroke="#2a2a2a" stroke-width="0.9" />
<text x="43.5" y="177.2" text-anchor="end" font-size="11.3" font-family="'Liberation Sans', Arial, sans-serif" stroke="#141414" stroke-width="0.22" fill="#141414">0.8</text>
<line x1="45.8" y1="155.8" x2="51.2" y2="155.8" stroke="#2a2a2a" stroke-width="0.9" />
<text x="42.1" y="159.9" text-anchor="end" font-size="11.3" font-family="'Liberation Sans', Arial, sans-serif" stroke="#141414" stroke-width="0.22" fill="#141414">0.9</text>
<line x1="44.3" y1="138.1" x2="50.0" y2="138.1" stroke="#2a2a2a" stroke-width="0.9" />
<text x="40.6" y="142.2" text-anchor="end" font-size="11.3" font-family="'Liberation Sans', Arial, sans-serif" stroke="#141414" stroke-width="0.22" fill="#141414">1.0</text>
<line x1="42.8" y1="119.9" x2="48.8" y2="119.9" stroke="#2a2a2a" stroke-width="0.9" />
<text x="39.1" y="124.0" text-anchor="end" font-size="11.3" font-family="'Liberation Sans', Arial, sans-serif" stroke="#141414" stroke-width="0.22" fill="#141414">1.1</text>
<line x1="41.3" y1="101.2" x2="47.5" y2="101.2" stroke="#2a2a2a" stroke-width="0.9" />
<text x="37.6" y="105.3" text-anchor="end" font-size="11.3" font-family="'Liberation Sans', Arial, sans-serif" stroke="#141414" stroke-width="0.22" fill="#141414">1.2</text>
<line x1="39.7" y1="82.1" x2="46.2" y2="82.1" stroke="#2a2a2a" stroke-width="0.9" />
<text x="36.0" y="86.2" text-anchor="end" font-size="11.3" font-family="'Liberation Sans', Arial, sans-serif" stroke="#141414" stroke-width="0.22" fill="#141414">1.3</text>
<line x1="38.1" y1="62.4" x2="44.8" y2="62.4" stroke="#2a2a2a" stroke-width="0.9" />
<text x="34.4" y="66.5" text-anchor="end" font-size="11.3" font-family="'Liberation Sans', Arial, sans-serif" stroke="#141414" stroke-width="0.22" fill="#141414">1.4</text>
<line x1="36.4" y1="42.2" x2="43.4" y2="42.2" stroke="#2a2a2a" stroke-width="0.9" />
<text x="32.7" y="46.3" text-anchor="end" font-size="11.3" font-family="'Liberation Sans', Arial, sans-serif" stroke="#141414" stroke-width="0.22" fill="#141414">1.5</text>
<line x1="52.4" y1="173.1" x2="47.1" y2="177.0" stroke="#2a2a2a" stroke-width="0.8" />
<text x="41.3" y="186.2" text-anchor="middle" font-size="11" font-family="'Liberation Sans', Arial, sans-serif" stroke="#141414" stroke-width="0.22" fill="#141414">0.0</text>
<line x1="62.4" y1="176.5" x2="59.8" y2="178.6" stroke="#2a2a2a" stroke-width="0.8" />
<line x1="72.6" y1="180.1" x2="67.4" y2="184.2" stroke="#2a2a2a" stroke-width="0.8" />
<text x="61.8" y="193.2" text-anchor="middle" font-size="11" font-family="'Liberation Sans', Arial, sans-serif" stroke="#141414" stroke-width="0.22" fill="#141414">0.1</text>
<line x1="83.0" y1="183.7" x2="80.4" y2="185.8" stroke="#2a2a2a" stroke-width="0.8" />
<line x1="93.6" y1="187.4" x2="88.5" y2="191.8" stroke="#2a2a2a" stroke-width="0.8" />
<text x="83.0" y="200.5" text-anchor="middle" font-size="11" font-family="'Liberation Sans', Arial, sans-serif" stroke="#141414" stroke-width="0.22" fill="#141414">0.2</text>
<line x1="104.4" y1="191.2" x2="101.9" y2="193.4" stroke="#2a2a2a" stroke-width="0.8" />
<line x1="115.5" y1="195.1" x2="110.6" y2="199.6" stroke="#2a2a2a" stroke-width="0.8" />
<text x="105.2" y="208.2" text-anchor="middle" font-size="11" font-family="'Liberation Sans', Arial, sans-serif" stroke="#141414" stroke-width="0.22" fill="#141414">0.3</text>
<line x1="126.8" y1="199.1" x2="124.4" y2="201.4" stroke="#2a2a2a" stroke-width="0.8" />
<line x1="138.4" y1="203.1" x2="133.6" y2="207.8" stroke="#2a2a2a" stroke-width="0.8" />
<text x="128.4" y="216.2" text-anchor="middle" font-size="11" font-family="'Liberation Sans', Arial, sans-serif" stroke="#141414" stroke-width="0.22" fill="#141414">0.4</text>
<line x1="150.2" y1="207.3" x2="147.9" y2="209.6" stroke="#2a2a2a" stroke-width="0.8" />
<line x1="162.3" y1="211.5" x2="157.7" y2="216.4" stroke="#2a2a2a" stroke-width="0.8" />
<text x="152.6" y="224.6" text-anchor="middle" font-size="11" font-family="'Liberation Sans', Arial, sans-serif" stroke="#141414" stroke-width="0.22" fill="#141414">0.5</text>
<line x1="174.7" y1="215.8" x2="172.4" y2="218.3" stroke="#2a2a2a" stroke-width="0.8" />
<line x1="176.2" y1="216.4" x2="183.3" y2="218.8" stroke="#2a2a2a" stroke-width="0.8" />
<text x="184.1" y="225.8" font-size="11.3" font-family="'Liberation Sans', Arial, sans-serif" stroke="#141414" stroke-width="0.22" fill="#141414">10</text>
<line x1="193.7" y1="196.7" x2="197.0" y2="197.8" stroke="#2a2a2a" stroke-width="0.8" />
<line x1="209.5" y1="178.8" x2="216.0" y2="180.8" stroke="#2a2a2a" stroke-width="0.8" />
<text x="217.4" y="188.2" font-size="11.3" font-family="'Liberation Sans', Arial, sans-serif" stroke="#141414" stroke-width="0.22" fill="#141414">20</text>
<line x1="223.9" y1="162.5" x2="227.0" y2="163.4" stroke="#2a2a2a" stroke-width="0.8" />
<line x1="237.0" y1="147.6" x2="243.2" y2="149.2" stroke="#2a2a2a" stroke-width="0.8" />
<text x="244.9" y="157.0" font-size="11.3" font-family="'Liberation Sans', Arial, sans-serif" stroke="#141414" stroke-width="0.22" fill="#141414">30</text>
<rect x="46.9" y="122.9" width="4.2" height="4.2" fill="none" stroke="#333" stroke-width="1.1"/>
<circle cx="69.2" cy="88.8" r="2.5" fill="none" stroke="#e03030" stroke-width="1.2"/>
<polygon points="89.4,68.7 92.0,73.2 86.8,73.2" fill="none" stroke="#3a4a6a" stroke-width="1.1"/>
<polygon points="125.5,37.1 128.0,32.8 123.0,32.8" fill="none" stroke="#8a6a20" stroke-width="1.1"/>
<rect x="104.4" y="156.5" width="4.6" height="4.6" fill="none" stroke="#1a2a50" stroke-width="1.2"/>
<circle cx="126.7" cy="123.5" r="2.5" fill="none" stroke="#e03030" stroke-width="1.2"/>
<polygon points="145.2,93.7 147.8,98.2 142.6,98.2" fill="none" stroke="#1a4a5a" stroke-width="1.1"/>
<polygon points="178.0,51.1 180.6,46.6 175.4,46.6" fill="none" stroke="#20d020" stroke-width="1.2"/>
<rect x="167.2" y="189.0" width="4.8" height="4.8" fill="none" stroke="#222" stroke-width="1.2"/>
<circle cx="187.9" cy="151.2" r="2.5" fill="none" stroke="#c83030" stroke-width="1.2"/>
<polygon points="204.8,115.2 207.4,119.7 202.2,119.7" fill="none" stroke="#2030d0" stroke-width="1.1"/>
<polygon points="236.2,67.5 238.8,63.0 233.6,63.0" fill="none" stroke="#20d020" stroke-width="1.2"/>
<line x1="353.6" y1="183.1" x2="424.2" y2="126.4" stroke="#e2e2e2" stroke-width="0.5" />
<line x1="374.4" y1="190.2" x2="443.0" y2="131.5" stroke="#e2e2e2" stroke-width="0.5" />
<line x1="396.1" y1="197.6" x2="462.4" y2="136.7" stroke="#e2e2e2" stroke-width="0.5" />
<line x1="418.6" y1="205.3" x2="482.4" y2="142.2" stroke="#e2e2e2" stroke-width="0.5" />
<line x1="442.1" y1="213.3" x2="503.2" y2="147.8" stroke="#e2e2e2" stroke-width="0.5" />
<line x1="372.7" y1="146.7" x2="487.9" y2="181.4" stroke="#e2e2e2" stroke-width="0.5" />
<line x1="332.2" y1="156.4" x2="405.8" y2="104.0" stroke="#e2e2e2" stroke-width="0.5" />
<line x1="330.8" y1="135.9" x2="405.6" y2="86.0" stroke="#e2e2e2" stroke-width="0.5" />
<line x1="329.4" y1="114.8" x2="405.3" y2="67.5" stroke="#e2e2e2" stroke-width="0.5" />
<line x1="328.0" y1="93.0" x2="405.1" y2="48.6" stroke="#e2e2e2" stroke-width="0.5" />
<line x1="326.5" y1="70.6" x2="404.8" y2="29.3" stroke="#e2e2e2" stroke-width="0.5" />
<line x1="325.0" y1="47.5" x2="404.6" y2="9.4" stroke="#e2e2e2" stroke-width="0.5" />
<line x1="372.7" y1="146.7" x2="368.3" y2="26.8" stroke="#e2e2e2" stroke-width="0.5" />
<line x1="405.8" y1="104.0" x2="516.2" y2="132.1" stroke="#e2e2e2" stroke-width="0.5" />
<line x1="405.6" y1="86.0" x2="517.4" y2="112.7" stroke="#e2e2e2" stroke-width="0.5" />
<line x1="405.3" y1="67.5" x2="518.7" y2="92.8" stroke="#e2e2e2" stroke-width="0.5" />
<line x1="405.1" y1="48.6" x2="520.0" y2="72.3" stroke="#e2e2e2" stroke-width="0.5" />
<line x1="404.8" y1="29.3" x2="521.4" y2="51.2" stroke="#e2e2e2" stroke-width="0.5" />
<line x1="404.6" y1="9.4" x2="522.8" y2="29.5" stroke="#e2e2e2" stroke-width="0.5" />
<line x1="424.2" y1="126.4" x2="424.1" y2="12.7" stroke="#e2e2e2" stroke-width="0.5" />
<line x1="443.0" y1="131.5" x2="444.4" y2="16.2" stroke="#e2e2e2" stroke-width="0.5" />
<line x1="462.4" y1="136.7" x2="465.5" y2="19.7" stroke="#e2e2e2" stroke-width="0.5" />
<line x1="482.4" y1="142.2" x2="487.3" y2="23.5" stroke="#e2e2e2" stroke-width="0.5" />
<line x1="503.2" y1="147.8" x2="509.9" y2="27.3" stroke="#e2e2e2" stroke-width="0.5" />
<line x1="325.0" y1="47.5" x2="404.6" y2="9.4" stroke="#2a2a2a" stroke-width="0.7" />
<line x1="404.6" y1="9.4" x2="522.8" y2="29.5" stroke="#2a2a2a" stroke-width="0.7" />
<line x1="515.0" y1="151.0" x2="522.8" y2="29.5" stroke="#777" stroke-width="0.8" />
<line x1="333.5" y1="176.3" x2="406.0" y2="121.5" stroke="#2a2a2a" stroke-width="0.7" />
<line x1="406.0" y1="121.5" x2="515.0" y2="151.0" stroke="#2a2a2a" stroke-width="0.7" />
<line x1="406.0" y1="121.5" x2="404.6" y2="9.4" stroke="#2a2a2a" stroke-width="0.7" />
<g stroke-width="0.35" stroke-linejoin="round">
<polygon points="402.0,31.7 406.2,37.8 408.9,35.9 404.8,29.8" fill="#d55146" stroke="#d55146"/>
<polygon points="406.2,37.8 410.3,43.4 413.0,41.4 408.9,35.9" fill="#d5724b" stroke="#d5724b"/>
<polygon points="410.3,43.4 414.3,48.4 417.0,46.3 413.0,41.4" fill="#d48f4c" stroke="#d48f4c"/>
<polygon points="414.3,48.4 418.3,53.0 421.0,50.7 417.0,46.3" fill="#d0a649" stroke="#d0a649"/>
<polygon points="418.3,53.0 422.3,57.0 425.0,54.7 421.0,50.7" fill="#cbb54a" stroke="#cbb54a"/>
<polygon points="422.3,57.0 426.3,60.6 428.9,58.2 425.0,54.7" fill="#c6bf4b" stroke="#c6bf4b"/>
<polygon points="426.3,60.6 430.2,63.9 432.8,61.3 428.9,58.2" fill="#bcc749" stroke="#bcc749"/>
<polygon points="399.3,33.6 403.4,39.8 406.2,37.8 402.0,31.7" fill="#d55447" stroke="#d55447"/>
<polygon points="403.4,39.8 407.5,45.4 410.3,43.4 406.2,37.8" fill="#d5754b" stroke="#d5754b"/>
<polygon points="407.5,45.4 411.6,50.6 414.3,48.4 410.3,43.4" fill="#d4924c" stroke="#d4924c"/>
<polygon points="411.6,50.6 415.7,55.2 418.3,53.0 414.3,48.4" fill="#cfaa48" stroke="#cfaa48"/>
<polygon points="430.2,63.9 434.1,66.7 436.7,64.0 432.8,61.3" fill="#b3cd47" stroke="#b3cd47"/>
<polygon points="415.7,55.2 419.7,59.3 422.3,57.0 418.3,53.0" fill="#cab74a" stroke="#cab74a"/>
<polygon points="434.1,66.7 438.0,69.2 440.6,66.4 436.7,64.0" fill="#aad046" stroke="#aad046"/>
<polygon points="419.7,59.3 423.7,63.1 426.3,60.6 422.3,57.0" fill="#c3c24a" stroke="#c3c24a"/>
<polygon points="423.7,63.1 427.6,66.4 430.2,63.9 426.3,60.6" fill="#b9c948" stroke="#b9c948"/>
<polygon points="396.5,35.5 400.7,41.7 403.4,39.8 399.3,33.6" fill="#d55648" stroke="#d55648"/>
<polygon points="438.0,69.2 441.9,71.4 444.5,68.4 440.6,66.4" fill="#a1d046" stroke="#a1d046"/>
<polygon points="400.7,41.7 404.8,47.5 407.5,45.4 403.4,39.8" fill="#d5784b" stroke="#d5784b"/>
<polygon points="404.8,47.5 408.9,52.7 411.6,50.6 407.5,45.4" fill="#d3954b" stroke="#d3954b"/>
<polygon points="408.9,52.7 413.0,57.4 415.7,55.2 411.6,50.6" fill="#ceac48" stroke="#ceac48"/>
<polygon points="427.6,66.4 431.6,69.4 434.1,66.7 430.2,63.9" fill="#b0d046" stroke="#b0d046"/>
<polygon points="441.9,71.4 445.8,73.2 448.4,70.2 444.5,68.4" fill="#99d046" stroke="#99d046"/>
<polygon points="413.0,57.4 417.0,61.7 419.7,59.3 415.7,55.2" fill="#cab94a" stroke="#cab94a"/>
<polygon points="431.6,69.4 435.5,72.0 438.0,69.2 434.1,66.7" fill="#a4d046" stroke="#a4d046"/>
<polygon points="417.0,61.7 421.0,65.5 423.7,63.1 419.7,59.3" fill="#c0c449" stroke="#c0c449"/>
<polygon points="445.8,73.2 449.7,74.8 452.2,71.7 448.4,70.2" fill="#94d046" stroke="#94d046"/>
<polygon points="421.0,65.5 425.0,68.9 427.6,66.4 423.7,63.1" fill="#b5cb47" stroke="#b5cb47"/>
<polygon points="435.5,72.0 439.4,74.3 441.9,71.4 438.0,69.2" fill="#99d046" stroke="#99d046"/>
<polygon points="393.8,37.3 398.0,43.7 400.7,41.7 396.5,35.5" fill="#d55948" stroke="#d55948"/>
<polygon points="398.0,43.7 402.1,49.5 404.8,47.5 400.7,41.7" fill="#d47b4b" stroke="#d47b4b"/>
<polygon points="402.1,49.5 406.2,54.8 408.9,52.7 404.8,47.5" fill="#d2984b" stroke="#d2984b"/>
<polygon points="425.0,68.9 429.0,72.0 431.6,69.4 427.6,66.4" fill="#aad046" stroke="#aad046"/>
<polygon points="406.2,54.8 410.3,59.6 413.0,57.4 408.9,52.7" fill="#ceae49" stroke="#ceae49"/>
<polygon points="449.7,74.8 453.5,76.2 456.0,72.9 452.2,71.7" fill="#90d046" stroke="#90d046"/>
<polygon points="439.4,74.3 443.3,76.3 445.8,73.2 441.9,71.4" fill="#91d046" stroke="#91d046"/>
<polygon points="410.3,59.6 414.4,64.0 417.0,61.7 413.0,57.4" fill="#c9bc4b" stroke="#c9bc4b"/>
<polygon points="429.0,72.0 432.9,74.7 435.5,72.0 431.6,69.4" fill="#9dd046" stroke="#9dd046"/>
<polygon points="414.4,64.0 418.4,67.9 421.0,65.5 417.0,61.7" fill="#bdc649" stroke="#bdc649"/>
<polygon points="443.3,76.3 447.1,78.0 449.7,74.8 445.8,73.2" fill="#8bd046" stroke="#8bd046"/>
<polygon points="453.5,76.2 457.4,77.3 459.9,73.9 456.0,72.9" fill="#8ed046" stroke="#8ed046"/>
<polygon points="418.4,67.9 422.4,71.5 425.0,68.9 421.0,65.5" fill="#b2ce47" stroke="#b2ce47"/>
<polygon points="432.9,74.7 436.8,77.2 439.4,74.3 435.5,72.0" fill="#92d046" stroke="#92d046"/>
<polygon points="391.0,39.2 395.2,45.6 398.0,43.7 393.8,37.3" fill="#d55c49" stroke="#d55c49"/>
<polygon points="395.2,45.6 399.4,51.5 402.1,49.5 398.0,43.7" fill="#d47d4b" stroke="#d47d4b"/>
<polygon points="399.4,51.5 403.6,56.9 406.2,54.8 402.1,49.5" fill="#d29b4a" stroke="#d29b4a"/>
<polygon points="422.4,71.5 426.4,74.7 429.0,72.0 425.0,68.9" fill="#a4d046" stroke="#a4d046"/>
<polygon points="403.6,56.9 407.7,61.8 410.3,59.6 406.2,54.8" fill="#cdb049" stroke="#cdb049"/>
<polygon points="447.1,78.0 451.0,79.5 453.5,76.2 449.7,74.8" fill="#86cf46" stroke="#86cf46"/>
<polygon points="457.4,77.3 461.2,78.3 463.7,74.7 459.9,73.9" fill="#8dd046" stroke="#8dd046"/>
<polygon points="436.8,77.2 440.7,79.3 443.3,76.3 439.4,74.3" fill="#89d046" stroke="#89d046"/>
<polygon points="407.7,61.8 411.8,66.3 414.4,64.0 410.3,59.6" fill="#c8be4b" stroke="#c8be4b"/>
<polygon points="426.4,74.7 430.4,77.5 432.9,74.7 429.0,72.0" fill="#97d046" stroke="#97d046"/>
<polygon points="411.8,66.3 415.8,70.3 418.4,67.9 414.4,64.0" fill="#bbc848" stroke="#bbc848"/>
<polygon points="451.0,79.5 454.9,80.7 457.4,77.3 453.5,76.2" fill="#83cf46" stroke="#83cf46"/>
<polygon points="440.7,79.3 444.6,81.2 447.1,78.0 443.3,76.3" fill="#82cf46" stroke="#82cf46"/>
<polygon points="461.2,78.3 465.0,79.0 467.5,75.3 463.7,74.7" fill="#8dd046" stroke="#8dd046"/>
<polygon points="415.8,70.3 419.8,74.0 422.4,71.5 418.4,67.9" fill="#afd046" stroke="#afd046"/>
<polygon points="430.4,77.5 434.3,80.1 436.8,77.2 432.9,74.7" fill="#8bd046" stroke="#8bd046"/>
<polygon points="388.3,41.1 392.5,47.6 395.2,45.6 391.0,39.2" fill="#d55f49" stroke="#d55f49"/>
<polygon points="392.5,47.6 396.7,53.5 399.4,51.5 395.2,45.6" fill="#d4804b" stroke="#d4804b"/>
<polygon points="396.7,53.5 400.9,59.0 403.6,56.9 399.4,51.5" fill="#d19e4a" stroke="#d19e4a"/>
<polygon points="419.8,74.0 423.8,77.3 426.4,74.7 422.4,71.5" fill="#9fd046" stroke="#9fd046"/>
<polygon points="444.6,81.2 448.5,82.8 451.0,79.5 447.1,78.0" fill="#7dce46" stroke="#7dce46"/>
<polygon points="400.9,59.0 405.0,64.0 407.7,61.8 403.6,56.9" fill="#ccb249" stroke="#ccb249"/>
<polygon points="454.9,80.7 458.7,81.8 461.2,78.3 457.4,77.3" fill="#82ce46" stroke="#82ce46"/>
<polygon points="434.3,80.1 438.2,82.3 440.7,79.3 436.8,77.2" fill="#81ce46" stroke="#81ce46"/>
<polygon points="405.0,64.0 409.1,68.6 411.8,66.3 407.7,61.8" fill="#c5c04a" stroke="#c5c04a"/>
<polygon points="465.0,79.0 468.8,79.6 471.3,75.8 467.5,75.3" fill="#8fd046" stroke="#8fd046"/>
<polygon points="423.8,77.3 427.8,80.3 430.4,77.5 426.4,74.7" fill="#90d046" stroke="#90d046"/>
<polygon points="409.1,68.6 413.2,72.7 415.8,70.3 411.8,66.3" fill="#b8ca48" stroke="#b8ca48"/>
<polygon points="448.5,82.8 452.4,84.1 454.9,80.7 451.0,79.5" fill="#79cd46" stroke="#79cd46"/>
<polygon points="438.2,82.3 442.1,84.3 444.6,81.2 440.7,79.3" fill="#79cd46" stroke="#79cd46"/>
<polygon points="458.7,81.8 462.5,82.7 465.0,79.0 461.2,78.3" fill="#81ce46" stroke="#81ce46"/>
<polygon points="413.2,72.7 417.3,76.5 419.8,74.0 415.8,70.3" fill="#aad046" stroke="#aad046"/>
<polygon points="427.8,80.3 431.8,82.9 434.3,80.1 430.4,77.5" fill="#84cf46" stroke="#84cf46"/>
<polygon points="468.8,79.6 472.6,80.0 475.1,76.1 471.3,75.8" fill="#91d046" stroke="#91d046"/>
<polygon points="385.5,43.0 389.8,49.5 392.5,47.6 388.3,41.1" fill="#d5614a" stroke="#d5614a"/>
<polygon points="389.8,49.5 394.1,55.6 396.7,53.5 392.5,47.6" fill="#d4834b" stroke="#d4834b"/>
<polygon points="394.1,55.6 398.3,61.1 400.9,59.0 396.7,53.5" fill="#d1a149" stroke="#d1a149"/>
<polygon points="417.3,76.5 421.3,79.9 423.8,77.3 419.8,74.0" fill="#99d046" stroke="#99d046"/>
<polygon points="442.1,84.3 446.0,86.0 448.5,82.8 444.6,81.2" fill="#73cc46" stroke="#73cc46"/>
<polygon points="452.4,84.1 456.2,85.3 458.7,81.8 454.9,80.7" fill="#77cd46" stroke="#77cd46"/>
<polygon points="398.3,61.1 402.4,66.2 405.0,64.0 400.9,59.0" fill="#cbb44a" stroke="#cbb44a"/>
<polygon points="431.8,82.9 435.7,85.3 438.2,82.3 434.3,80.1" fill="#79cd46" stroke="#79cd46"/>
<polygon points="462.5,82.7 466.4,83.3 468.8,79.6 465.0,79.0" fill="#82cf46" stroke="#82cf46"/>
<polygon points="402.4,66.2 406.5,70.9 409.1,68.6 405.0,64.0" fill="#c3c24a" stroke="#c3c24a"/>
<polygon points="421.3,79.9 425.3,83.0 427.8,80.3 423.8,77.3" fill="#8ad046" stroke="#8ad046"/>
<polygon points="472.6,80.0 476.4,80.3 478.9,76.3 475.1,76.1" fill="#95d046" stroke="#95d046"/>
<polygon points="406.5,70.9 410.6,75.1 413.2,72.7 409.1,68.6" fill="#b5cb47" stroke="#b5cb47"/>
<polygon points="446.0,86.0 449.9,87.5 452.4,84.1 448.5,82.8" fill="#6fcc46" stroke="#6fcc46"/>
<polygon points="435.7,85.3 439.6,87.4 442.1,84.3 438.2,82.3" fill="#71cc46" stroke="#71cc46"/>
<polygon points="456.2,85.3 460.1,86.3 462.5,82.7 458.7,81.8" fill="#76cd46" stroke="#76cd46"/>
<polygon points="425.3,83.0 429.2,85.8 431.8,82.9 427.8,80.3" fill="#7dce46" stroke="#7dce46"/>
<polygon points="410.6,75.1 414.7,79.0 417.3,76.5 413.2,72.7" fill="#a5d046" stroke="#a5d046"/>
<polygon points="466.4,83.3 470.2,83.9 472.6,80.0 468.8,79.6" fill="#84cf46" stroke="#84cf46"/>
<polygon points="382.8,44.8 387.1,51.5 389.8,49.5 385.5,43.0" fill="#d5644a" stroke="#d5644a"/>
<polygon points="387.1,51.5 391.4,57.6 394.1,55.6 389.8,49.5" fill="#d4864c" stroke="#d4864c"/>
<polygon points="391.4,57.6 395.6,63.2 398.3,61.1 394.1,55.6" fill="#d0a349" stroke="#d0a349"/>
<polygon points="439.6,87.4 443.5,89.3 446.0,86.0 442.1,84.3" fill="#6acb46" stroke="#6acb46"/>
<polygon points="414.7,79.0 418.7,82.6 421.3,79.9 417.3,76.5" fill="#94d046" stroke="#94d046"/>
<polygon points="449.9,87.5 453.8,88.8 456.2,85.3 452.4,84.1" fill="#6ccb46" stroke="#6ccb46"/>
<polygon points="476.4,80.3 480.2,80.5 482.7,76.3 478.9,76.3" fill="#99d046" stroke="#99d046"/>
<polygon points="429.2,85.8 433.2,88.3 435.7,85.3 431.8,82.9" fill="#72cc46" stroke="#72cc46"/>
<polygon points="395.6,63.2 399.8,68.4 402.4,66.2 398.3,61.1" fill="#cbb64a" stroke="#cbb64a"/>
<polygon points="460.1,86.3 463.9,87.1 466.4,83.3 462.5,82.7" fill="#76cd46" stroke="#76cd46"/>
<polygon points="399.8,68.4 403.9,73.1 406.5,70.9 402.4,66.2" fill="#c1c34a" stroke="#c1c34a"/>
<polygon points="418.7,82.6 422.7,85.8 425.3,83.0 421.3,79.9" fill="#84cf46" stroke="#84cf46"/>
<polygon points="470.2,83.9 474.0,84.3 476.4,80.3 472.6,80.0" fill="#87cf46" stroke="#87cf46"/>
<polygon points="403.9,73.1 408.0,77.5 410.6,75.1 406.5,70.9" fill="#b3cd47" stroke="#b3cd47"/>
<polygon points="443.5,89.3 447.4,90.9 449.9,87.5 446.0,86.0" fill="#65ca46" stroke="#65ca46"/>
<polygon points="433.2,88.3 437.1,90.6 439.6,87.4 435.7,85.3" fill="#68cb46" stroke="#68cb46"/>
<polygon points="453.8,88.8 457.6,89.9 460.1,86.3 456.2,85.3" fill="#6acb46" stroke="#6acb46"/>
<polygon points="480.2,80.5 484.0,80.5 486.5,76.3 482.7,76.3" fill="#9ed046" stroke="#9ed046"/>
<polygon points="422.7,85.8 426.7,88.7 429.2,85.8 425.3,83.0" fill="#76cd46" stroke="#76cd46"/>
<polygon points="408.0,77.5 412.1,81.5 414.7,79.0 410.6,75.1" fill="#a0d046" stroke="#a0d046"/>
<polygon points="463.9,87.1 467.7,87.8 470.2,83.9 466.4,83.3" fill="#77cd46" stroke="#77cd46"/>
<polygon points="380.1,46.7 384.4,53.4 387.1,51.5 382.8,44.8" fill="#d5664a" stroke="#d5664a"/>
<polygon points="384.4,53.4 388.7,59.6 391.4,57.6 387.1,51.5" fill="#d4884c" stroke="#d4884c"/>
<polygon points="437.1,90.6 441.0,92.5 443.5,89.3 439.6,87.4" fill="#61ca46" stroke="#61ca46"/>
<polygon points="447.4,90.9 451.3,92.3 453.8,88.8 449.9,87.5" fill="#61ca46" stroke="#61ca46"/>
<polygon points="474.0,84.3 477.8,84.6 480.2,80.5 476.4,80.3" fill="#8bd046" stroke="#8bd046"/>
<polygon points="412.1,81.5 416.2,85.2 418.7,82.6 414.7,79.0" fill="#8ed046" stroke="#8ed046"/>
<polygon points="388.7,59.6 393.0,65.3 395.6,63.2 391.4,57.6" fill="#d0a649" stroke="#d0a649"/>
<polygon points="426.7,88.7 430.7,91.3 433.2,88.3 429.2,85.8" fill="#6acb46" stroke="#6acb46"/>
<polygon points="457.6,89.9 461.5,90.9 463.9,87.1 460.1,86.3" fill="#69cb46" stroke="#69cb46"/>
<polygon points="393.0,65.3 397.2,70.6 399.8,68.4 395.6,63.2" fill="#cab84a" stroke="#cab84a"/>
<polygon points="397.2,70.6 401.3,75.4 403.9,73.1 399.8,68.4" fill="#bec549" stroke="#bec549"/>
<polygon points="484.0,80.5 487.8,80.5 490.2,76.2 486.5,76.3" fill="#a3d046" stroke="#a3d046"/>
<polygon points="416.2,85.2 420.2,88.5 422.7,85.8 418.7,82.6" fill="#7ece46" stroke="#7ece46"/>
<polygon points="467.7,87.8 471.6,88.3 474.0,84.3 470.2,83.9" fill="#79cd46" stroke="#79cd46"/>
<polygon points="441.0,92.5 445.0,94.3 447.4,90.9 443.5,89.3" fill="#5bc946" stroke="#5bc946"/>
<polygon points="401.3,75.4 405.5,79.9 408.0,77.5 403.9,73.1" fill="#b0cf46" stroke="#b0cf46"/>
<polygon points="430.7,91.3 434.6,93.7 437.1,90.6 433.2,88.3" fill="#60ca46" stroke="#60ca46"/>
<polygon points="451.3,92.3 455.2,93.6 457.6,89.9 453.8,88.8" fill="#5ec946" stroke="#5ec946"/>
<polygon points="477.8,84.6 481.6,84.8 484.0,80.5 480.2,80.5" fill="#8fd046" stroke="#8fd046"/>
<polygon points="420.2,88.5 424.2,91.5 426.7,88.7 422.7,85.8" fill="#6fcc46" stroke="#6fcc46"/>
<polygon points="461.5,90.9 465.3,91.7 467.7,87.8 463.9,87.1" fill="#6acb46" stroke="#6acb46"/>
<polygon points="405.5,79.9 409.6,84.0 412.1,81.5 408.0,77.5" fill="#9cd046" stroke="#9cd046"/>
<polygon points="471.6,88.3 475.4,88.7 477.8,84.6 474.0,84.3" fill="#7cce46" stroke="#7cce46"/>
<polygon points="487.8,80.5 491.5,80.4 494.0,76.0 490.2,76.2" fill="#a9d046" stroke="#a9d046"/>
<polygon points="434.6,93.7 438.6,95.8 441.0,92.5 437.1,90.6" fill="#58c846" stroke="#58c846"/>
<polygon points="445.0,94.3 448.8,95.8 451.3,92.3 447.4,90.9" fill="#56c846" stroke="#56c846"/>
<polygon points="377.4,48.5 381.7,55.3 384.4,53.4 380.1,46.7" fill="#d5694a" stroke="#d5694a"/>
<polygon points="381.7,55.3 386.1,61.5 388.7,59.6 384.4,53.4" fill="#d48b4c" stroke="#d48b4c"/>
<polygon points="409.6,84.0 413.6,87.8 416.2,85.2 412.1,81.5" fill="#89d046" stroke="#89d046"/>
<polygon points="386.1,61.5 390.3,67.3 393.0,65.3 388.7,59.6" fill="#cfa948" stroke="#cfa948"/>
<polygon points="424.2,91.5 428.2,94.3 430.7,91.3 426.7,88.7" fill="#62ca46" stroke="#62ca46"/>
<polygon points="455.2,93.6 459.0,94.6 461.5,90.9 457.6,89.9" fill="#5dc946" stroke="#5dc946"/>
<polygon points="390.3,67.3 394.6,72.7 397.2,70.6 393.0,65.3" fill="#c9ba4a" stroke="#c9ba4a"/>
<polygon points="481.6,84.8 485.4,84.8 487.8,80.5 484.0,80.5" fill="#94d046" stroke="#94d046"/>
<polygon points="465.3,91.7 469.1,92.3 471.6,88.3 467.7,87.8" fill="#6ccb46" stroke="#6ccb46"/>
<polygon points="394.6,72.7 398.8,77.7 401.3,75.4 397.2,70.6" fill="#bcc749" stroke="#bcc749"/>
<polygon points="413.6,87.8 417.7,91.2 420.2,88.5 416.2,85.2" fill="#77cd46" stroke="#77cd46"/>
<polygon points="438.6,95.8 442.5,97.7 445.0,94.3 441.0,92.5" fill="#54c949" stroke="#54c949"/>
<polygon points="428.2,94.3 432.2,96.8 434.6,93.7 430.7,91.3" fill="#58c846" stroke="#58c846"/>
<polygon points="448.8,95.8 452.7,97.2 455.2,93.6 451.3,92.3" fill="#54c847" stroke="#54c847"/>
<polygon points="398.8,77.7 402.9,82.3 405.5,79.9 401.3,75.4" fill="#add046" stroke="#add046"/>
<polygon points="475.4,88.7 479.2,89.0 481.6,84.8 477.8,84.6" fill="#80ce46" stroke="#80ce46"/>
<polygon points="491.5,80.4 495.3,80.3 497.7,75.8 494.0,76.0" fill="#afd046" stroke="#afd046"/>
<polygon points="459.0,94.6 462.9,95.5 465.3,91.7 461.5,90.9" fill="#5dc946" stroke="#5dc946"/>
<polygon points="417.7,91.2 421.7,94.4 424.2,91.5 420.2,88.5" fill="#68cb46" stroke="#68cb46"/>
<polygon points="402.9,82.3 407.0,86.5 409.6,84.0 405.5,79.9" fill="#97d046" stroke="#97d046"/>
<polygon points="469.1,92.3 472.9,92.8 475.4,88.7 471.6,88.3" fill="#6ecc46" stroke="#6ecc46"/>
<polygon points="485.4,84.8 489.1,84.9 491.5,80.4 487.8,80.5" fill="#99d046" stroke="#99d046"/>
<polygon points="432.2,96.8 436.1,99.0 438.6,95.8 434.6,93.7" fill="#53c94a" stroke="#53c94a"/>
<polygon points="442.5,97.7 446.4,99.3 448.8,95.8 445.0,94.3" fill="#52ca4c" stroke="#52ca4c"/>
<polygon points="374.7,50.4 379.1,57.2 381.7,55.3 377.4,48.5" fill="#d56b4a" stroke="#d56b4a"/>
<polygon points="407.0,86.5 411.1,90.4 413.6,87.8 409.6,84.0" fill="#83cf46" stroke="#83cf46"/>
<polygon points="379.1,57.2 383.4,63.5 386.1,61.5 381.7,55.3" fill="#d48e4c" stroke="#d48e4c"/>
<polygon points="452.7,97.2 456.6,98.4 459.0,94.6 455.2,93.6" fill="#54c948" stroke="#54c948"/>
<polygon points="421.7,94.4 425.7,97.3 428.2,94.3 424.2,91.5" fill="#5bc946" stroke="#5bc946"/>
<polygon points="383.4,63.5 387.7,69.4 390.3,67.3 386.1,61.5" fill="#cfab48" stroke="#cfab48"/>
<polygon points="387.7,69.4 392.0,74.9 394.6,72.7 390.3,67.3" fill="#c9bc4b" stroke="#c9bc4b"/>
<polygon points="479.2,89.0 483.0,89.2 485.4,84.8 481.6,84.8" fill="#85cf46" stroke="#85cf46"/>
<polygon points="462.9,95.5 466.7,96.3 469.1,92.3 465.3,91.7" fill="#5ec946" stroke="#5ec946"/>
<polygon points="495.3,80.3 499.0,80.1 501.4,75.5 497.7,75.8" fill="#b3cd47" stroke="#b3cd47"/>
<polygon points="411.1,90.4 415.2,93.9 417.7,91.2 413.6,87.8" fill="#71cc46" stroke="#71cc46"/>
<polygon points="392.0,74.9 396.2,79.9 398.8,77.7 394.6,72.7" fill="#bac848" stroke="#bac848"/>
<polygon points="436.1,99.0 440.1,101.0 442.5,97.7 438.6,95.8" fill="#51cb4f" stroke="#51cb4f"/>
<polygon points="446.4,99.3 450.3,100.8 452.7,97.2 448.8,95.8" fill="#51cb4e" stroke="#51cb4e"/>
<polygon points="425.7,97.3 429.7,99.9 432.2,96.8 428.2,94.3" fill="#53c949" stroke="#53c949"/>
<polygon points="472.9,92.8 476.8,93.2 479.2,89.0 475.4,88.7" fill="#71cc46" stroke="#71cc46"/>
<polygon points="396.2,79.9 400.4,84.6 402.9,82.3 398.8,77.7" fill="#a8d046" stroke="#a8d046"/>
<polygon points="489.1,84.9 492.9,84.8 495.3,80.3 491.5,80.4" fill="#9fd046" stroke="#9fd046"/>
<polygon points="456.6,98.4 460.5,99.4 462.9,95.5 459.0,94.6" fill="#54c949" stroke="#54c949"/>
<polygon points="415.2,93.9 419.2,97.2 421.7,94.4 417.7,91.2" fill="#61ca46" stroke="#61ca46"/>
<polygon points="400.4,84.6 404.5,89.0 407.0,86.5 402.9,82.3" fill="#92d046" stroke="#92d046"/>
<polygon points="483.0,89.2 486.7,89.3 489.1,84.9 485.4,84.8" fill="#89d046" stroke="#89d046"/>
<polygon points="466.7,96.3 470.5,96.9 472.9,92.8 469.1,92.3" fill="#60ca46" stroke="#60ca46"/>
<polygon points="440.1,101.0 444.0,102.8 446.4,99.3 442.5,97.7" fill="#4fcc52" stroke="#4fcc52"/>
<polygon points="429.7,99.9 433.7,102.2 436.1,99.0 432.2,96.8" fill="#50cb4f" stroke="#50cb4f"/>
<polygon points="499.0,80.1 502.8,79.9 505.2,75.3 501.4,75.5" fill="#b7ca48" stroke="#b7ca48"/>
<polygon points="450.3,100.8 454.2,102.1 456.6,98.4 452.7,97.2" fill="#50cb50" stroke="#50cb50"/>
<polygon points="404.5,89.0 408.6,93.0 411.1,90.4 407.0,86.5" fill="#7ece46" stroke="#7ece46"/>
<polygon points="419.2,97.2 423.3,100.2 425.7,97.3 421.7,94.4" fill="#55c847" stroke="#55c847"/>
<polygon points="372.0,52.2 376.4,59.1 379.1,57.2 374.7,50.4" fill="#d56d4b" stroke="#d56d4b"/>
<polygon points="376.4,59.1 380.8,65.5 383.4,63.5 379.1,57.2" fill="#d4904c" stroke="#d4904c"/>
<polygon points="380.8,65.5 385.1,71.5 387.7,69.4 383.4,63.5" fill="#cead48" stroke="#cead48"/>
<polygon points="476.8,93.2 480.5,93.5 483.0,89.2 479.2,89.0" fill="#75cd46" stroke="#75cd46"/>
<polygon points="460.5,99.4 464.3,100.2 466.7,96.3 462.9,95.5" fill="#54c949" stroke="#54c949"/>
<polygon points="492.9,84.8 496.6,84.7 499.0,80.1 495.3,80.3" fill="#a4d046" stroke="#a4d046"/>
<polygon points="385.1,71.5 389.4,77.0 392.0,74.9 387.7,69.4" fill="#c8be4b" stroke="#c8be4b"/>
<polygon points="408.6,93.0 412.7,96.6 415.2,93.9 411.1,90.4" fill="#6bcb46" stroke="#6bcb46"/>
<polygon points="389.4,77.0 393.6,82.2 396.2,79.9 392.0,74.9" fill="#b8ca48" stroke="#b8ca48"/>
<polygon points="433.7,102.2 437.6,104.3 440.1,101.0 436.1,99.0" fill="#4ecd54" stroke="#4ecd54"/>
<polygon points="444.0,102.8 447.9,104.4 450.3,100.8 446.4,99.3" fill="#4ecd55" stroke="#4ecd55"/>
<polygon points="423.3,100.2 427.3,102.9 429.7,99.9 425.7,97.3" fill="#51cb4e" stroke="#51cb4e"/>
<polygon points="470.5,96.9 474.3,97.4 476.8,93.2 472.9,92.8" fill="#62ca46" stroke="#62ca46"/>
<polygon points="486.7,89.3 490.5,89.3 492.9,84.8 489.1,84.9" fill="#8fd046" stroke="#8fd046"/>
<polygon points="393.6,82.2 397.8,87.0 400.4,84.6 396.2,79.9" fill="#a4d046" stroke="#a4d046"/>
<polygon points="454.2,102.1 458.0,103.2 460.5,99.4 456.6,98.4" fill="#50cc51" stroke="#50cc51"/>
<polygon points="502.8,79.9 506.5,79.7 508.9,75.0 505.2,75.3" fill="#bbc848" stroke="#bbc848"/>
<polygon points="412.7,96.6 416.8,100.0 419.2,97.2 415.2,93.9" fill="#5bc946" stroke="#5bc946"/>
<polygon points="397.8,87.0 402.0,91.4 404.5,89.0 400.4,84.6" fill="#8ed046" stroke="#8ed046"/>
<polygon points="480.5,93.5 484.3,93.7 486.7,89.3 483.0,89.2" fill="#79cd46" stroke="#79cd46"/>
<polygon points="464.3,100.2 468.1,100.9 470.5,96.9 466.7,96.3" fill="#54c948" stroke="#54c948"/>
<polygon points="437.6,104.3 441.6,106.2 444.0,102.8 440.1,101.0" fill="#4cce58" stroke="#4cce58"/>
<polygon points="496.6,84.7 500.4,84.6 502.8,79.9 499.0,80.1" fill="#abd046" stroke="#abd046"/>
<polygon points="427.3,102.9 431.2,105.4 433.7,102.2 429.7,99.9" fill="#4ecd55" stroke="#4ecd55"/>
<polygon points="447.9,104.4 451.8,105.8 454.2,102.1 450.3,100.8" fill="#4dce57" stroke="#4dce57"/>
<polygon points="402.0,91.4 406.1,95.5 408.6,93.0 404.5,89.0" fill="#79cd46" stroke="#79cd46"/>
<polygon points="416.8,100.0 420.8,103.1 423.3,100.2 419.2,97.2" fill="#52ca4b" stroke="#52ca4b"/>
<polygon points="369.3,54.0 373.8,61.0 376.4,59.1 372.0,52.2" fill="#d5704b" stroke="#d5704b"/>
<polygon points="373.8,61.0 378.2,67.4 380.8,65.5 376.4,59.1" fill="#d3934b" stroke="#d3934b"/>
<polygon points="474.3,97.4 478.2,97.7 480.5,93.5 476.8,93.2" fill="#66ca46" stroke="#66ca46"/>
<polygon points="378.2,67.4 382.5,73.5 385.1,71.5 380.8,65.5" fill="#ceae49" stroke="#ceae49"/>
<polygon points="458.0,103.2 461.9,104.2 464.3,100.2 460.5,99.4" fill="#50cc51" stroke="#50cc51"/>
<polygon points="490.5,89.3 494.3,89.3 496.6,84.7 492.9,84.8" fill="#94d046" stroke="#94d046"/>
<polygon points="382.5,73.5 386.8,79.1 389.4,77.0 385.1,71.5" fill="#c6bf4b" stroke="#c6bf4b"/>
<polygon points="506.5,79.7 510.2,79.5 512.6,74.7 508.9,75.0" fill="#bfc549" stroke="#bfc549"/>
<polygon points="406.1,95.5 410.2,99.3 412.7,96.6 408.6,93.0" fill="#65ca46" stroke="#65ca46"/>
<polygon points="431.2,105.4 435.2,107.7 437.6,104.3 433.7,102.2" fill="#4bcf5a" stroke="#4bcf5a"/>
<polygon points="386.8,79.1 391.1,84.4 393.6,82.2 389.4,77.0" fill="#b6cb47" stroke="#b6cb47"/>
<polygon points="441.6,106.2 445.5,108.0 447.9,104.4 444.0,102.8" fill="#4acf5c" stroke="#4acf5c"/>
<polygon points="468.1,100.9 472.0,101.5 474.3,97.4 470.5,96.9" fill="#55c847" stroke="#55c847"/>
<polygon points="420.8,103.1 424.8,106.0 427.3,102.9 423.3,100.2" fill="#4ecc53" stroke="#4ecc53"/>
<polygon points="484.3,93.7 488.1,93.8 490.5,89.3 486.7,89.3" fill="#7ece46" stroke="#7ece46"/>
<polygon points="451.8,105.8 455.6,107.0 458.0,103.2 454.2,102.1" fill="#4cce58" stroke="#4cce58"/>
<polygon points="500.4,84.6 504.1,84.4 506.5,79.7 502.8,79.9" fill="#b0cf46" stroke="#b0cf46"/>
<polygon points="391.1,84.4 395.3,89.3 397.8,87.0 393.6,82.2" fill="#a0d046" stroke="#a0d046"/>
<polygon points="410.2,99.3 414.3,102.8 416.8,100.0 412.7,96.6" fill="#55c846" stroke="#55c846"/>
<polygon points="478.2,97.7 482.0,98.0 484.3,93.7 480.5,93.5" fill="#6acb46" stroke="#6acb46"/>
<polygon points="461.9,104.2 465.7,105.0 468.1,100.9 464.3,100.2" fill="#50cb50" stroke="#50cb50"/>
<polygon points="395.3,89.3 399.5,93.9 402.0,91.4 397.8,87.0" fill="#89d046" stroke="#89d046"/>
<polygon points="494.3,89.3 498.0,89.2 500.4,84.6 496.6,84.7" fill="#9ad046" stroke="#9ad046"/>
<polygon points="435.2,107.7 439.1,109.7 441.6,106.2 437.6,104.3" fill="#49d05f" stroke="#49d05f"/>
<polygon points="424.8,106.0 428.8,108.6 431.2,105.4 427.3,102.9" fill="#4bcf5a" stroke="#4bcf5a"/>
<polygon points="510.2,79.5 513.9,79.2 516.2,74.4 512.6,74.7" fill="#c2c24a" stroke="#c2c24a"/>
<polygon points="445.5,108.0 449.4,109.5 451.8,105.8 447.9,104.4" fill="#49d05e" stroke="#49d05e"/>
<polygon points="414.3,102.8 418.4,106.1 420.8,103.1 416.8,100.0" fill="#50cb50" stroke="#50cb50"/>
<polygon points="399.5,93.9 403.7,98.1 406.1,95.5 402.0,91.4" fill="#73cc46" stroke="#73cc46"/>
<polygon points="472.0,101.5 475.8,102.0 478.2,97.7 474.3,97.4" fill="#57c846" stroke="#57c846"/>
<polygon points="455.6,107.0 459.5,108.1 461.9,104.2 458.0,103.2" fill="#4cce59" stroke="#4cce59"/>
<polygon points="488.1,93.8 491.9,93.8 494.3,89.3 490.5,89.3" fill="#84cf46" stroke="#84cf46"/>
<polygon points="371.2,62.8 375.6,69.4 378.2,67.4 373.8,61.0" fill="#d3954b" stroke="#d3954b"/>
<polygon points="366.7,55.8 371.2,62.8 373.8,61.0 369.3,54.0" fill="#d5724b" stroke="#d5724b"/>
<polygon points="375.6,69.4 380.0,75.5 382.5,73.5 378.2,67.4" fill="#cdb049" stroke="#cdb049"/>
<polygon points="504.1,84.4 507.8,84.2 510.2,79.5 506.5,79.7" fill="#b4cd47" stroke="#b4cd47"/>
<polygon points="380.0,75.5 384.3,81.3 386.8,79.1 382.5,73.5" fill="#c5c04a" stroke="#c5c04a"/>
<polygon points="428.8,108.6 432.8,111.0 435.2,107.7 431.2,105.4" fill="#48d160" stroke="#48d160"/>
<polygon points="403.7,98.1 407.8,102.0 410.2,99.3 406.1,95.5" fill="#60ca46" stroke="#60ca46"/>
<polygon points="439.1,109.7 443.1,111.5 445.5,108.0 441.6,106.2" fill="#47d162" stroke="#47d162"/>
<polygon points="465.7,105.0 469.6,105.7 472.0,101.5 468.1,100.9" fill="#50cb50" stroke="#50cb50"/>
<polygon points="384.3,81.3 388.6,86.6 391.1,84.4 386.8,79.1" fill="#b3cd47" stroke="#b3cd47"/>
<polygon points="482.0,98.0 485.7,98.2 488.1,93.8 484.3,93.7" fill="#6ecc46" stroke="#6ecc46"/>
<polygon points="418.4,106.1 422.4,109.0 424.8,106.0 420.8,103.1" fill="#4cce58" stroke="#4cce58"/>
<polygon points="449.4,109.5 453.3,110.8 455.6,107.0 451.8,105.8" fill="#48d160" stroke="#48d160"/>
<polygon points="498.0,89.2 501.7,89.1 504.1,84.4 500.4,84.6" fill="#a0d046" stroke="#a0d046"/>
<polygon points="513.9,79.2 517.5,79.0 519.9,74.1 516.2,74.4" fill="#c6bf4b" stroke="#c6bf4b"/>
<polygon points="388.6,86.6 392.8,91.6 395.3,89.3 391.1,84.4" fill="#9cd046" stroke="#9cd046"/>
<polygon points="407.8,102.0 411.9,105.6 414.3,102.8 410.2,99.3" fill="#53c94a" stroke="#53c94a"/>
<polygon points="475.8,102.0 479.6,102.4 482.0,98.0 478.2,97.7" fill="#5ac946" stroke="#5ac946"/>
<polygon points="459.5,108.1 463.4,109.0 465.7,105.0 461.9,104.2" fill="#4cce59" stroke="#4cce59"/>
<polygon points="392.8,91.6 397.0,96.3 399.5,93.9 395.3,89.3" fill="#85cf46" stroke="#85cf46"/>
<polygon points="491.9,93.8 495.6,93.8 498.0,89.2 494.3,89.3" fill="#89d046" stroke="#89d046"/>
<polygon points="432.8,111.0 436.8,113.1 439.1,109.7 435.2,107.7" fill="#46d265" stroke="#46d265"/>
<polygon points="422.4,109.0 426.4,111.7 428.8,108.6 424.8,106.0" fill="#48d05f" stroke="#48d05f"/>
<polygon points="443.1,111.5 447.0,113.1 449.4,109.5 445.5,108.0" fill="#46d265" stroke="#46d265"/>
<polygon points="507.8,84.2 511.5,84.1 513.9,79.2 510.2,79.5" fill="#b8ca48" stroke="#b8ca48"/>
<polygon points="411.9,105.6 416.0,109.0 418.4,106.1 414.3,102.8" fill="#4ecd54" stroke="#4ecd54"/>
<polygon points="469.6,105.7 473.4,106.3 475.8,102.0 472.0,101.5" fill="#51cb4e" stroke="#51cb4e"/>
<polygon points="397.0,96.3 401.2,100.6 403.7,98.1 399.5,93.9" fill="#6ecc46" stroke="#6ecc46"/>
<polygon points="453.3,110.8 457.1,112.0 459.5,108.1 455.6,107.0" fill="#48d161" stroke="#48d161"/>
<polygon points="485.7,98.2 489.5,98.4 491.9,93.8 488.1,93.8" fill="#73cc46" stroke="#73cc46"/>
<polygon points="368.6,64.7 373.0,71.3 375.6,69.4 371.2,62.8" fill="#d3974b" stroke="#d3974b"/>
<polygon points="364.1,57.6 368.6,64.7 371.2,62.8 366.7,55.8" fill="#d5744b" stroke="#d5744b"/>
<polygon points="501.7,89.1 505.5,89.0 507.8,84.2 504.1,84.4" fill="#a5d046" stroke="#a5d046"/>
<polygon points="373.0,71.3 377.4,77.5 380.0,75.5 375.6,69.4" fill="#ccb149" stroke="#ccb149"/>
<polygon points="426.4,111.7 430.4,114.2 432.8,111.0 428.8,108.6" fill="#46d266" stroke="#46d266"/>
<polygon points="377.4,77.5 381.8,83.4 384.3,81.3 380.0,75.5" fill="#c3c24a" stroke="#c3c24a"/>
<polygon points="436.8,113.1 440.7,115.0 443.1,111.5 439.1,109.7" fill="#45d36b" stroke="#45d36b"/>
<polygon points="401.2,100.6 405.3,104.7 407.8,102.0 403.7,98.1" fill="#5ac946" stroke="#5ac946"/>
<polygon points="463.4,109.0 467.2,109.8 469.6,105.7 465.7,105.0" fill="#4cce58" stroke="#4cce58"/>
<polygon points="479.6,102.4 483.4,102.7 485.7,98.2 482.0,98.0" fill="#5ec946" stroke="#5ec946"/>
<polygon points="416.0,109.0 420.0,112.1 422.4,109.0 418.4,106.1" fill="#4ad05d" stroke="#4ad05d"/>
<polygon points="381.8,83.4 386.1,88.8 388.6,86.6 384.3,81.3" fill="#b1ce46" stroke="#b1ce46"/>
<polygon points="447.0,113.1 450.9,114.6 453.3,110.8 449.4,109.5" fill="#45d368" stroke="#45d368"/>
<polygon points="495.6,93.8 499.4,93.8 501.7,89.1 498.0,89.2" fill="#8fd046" stroke="#8fd046"/>
<polygon points="511.5,84.1 515.2,83.9 517.5,79.0 513.9,79.2" fill="#bbc748" stroke="#bbc748"/>
<polygon points="386.1,88.8 390.3,93.9 392.8,91.6 388.6,86.6" fill="#99d046" stroke="#99d046"/>
<polygon points="405.3,104.7 409.5,108.4 411.9,105.6 407.8,102.0" fill="#51cb4e" stroke="#51cb4e"/>
<polygon points="473.4,106.3 477.2,106.7 479.6,102.4 475.8,102.0" fill="#52ca4c" stroke="#52ca4c"/>
<polygon points="457.1,112.0 461.0,113.0 463.4,109.0 459.5,108.1" fill="#48d161" stroke="#48d161"/>
<polygon points="489.5,98.4 493.3,98.5 495.6,93.8 491.9,93.8" fill="#78cd46" stroke="#78cd46"/>
<polygon points="430.4,114.2 434.4,116.5 436.8,113.1 432.8,111.0" fill="#44d46e" stroke="#44d46e"/>
<polygon points="390.3,93.9 394.6,98.7 397.0,96.3 392.8,91.6" fill="#80ce46" stroke="#80ce46"/>
<polygon points="420.0,112.1 424.0,114.9 426.4,111.7 422.4,109.0" fill="#46d265" stroke="#46d265"/>
<polygon points="440.7,115.0 444.6,116.8 447.0,113.1 443.1,111.5" fill="#44d470" stroke="#44d470"/>
<polygon points="505.5,89.0 509.2,88.9 511.5,84.1 507.8,84.2" fill="#abd046" stroke="#abd046"/>
<polygon points="467.2,109.8 471.0,110.5 473.4,106.3 469.6,105.7" fill="#4cce57" stroke="#4cce57"/>
<polygon points="409.5,108.4 413.6,111.9 416.0,109.0 411.9,105.6" fill="#4cce58" stroke="#4cce58"/>
<polygon points="450.9,114.6 454.8,115.9 457.1,112.0 453.3,110.8" fill="#45d36a" stroke="#45d36a"/>
<polygon points="483.4,102.7 487.2,102.9 489.5,98.4 485.7,98.2" fill="#62ca46" stroke="#62ca46"/>
<polygon points="394.6,98.7 398.8,103.1 401.2,100.6 397.0,96.3" fill="#69cb46" stroke="#69cb46"/>
<polygon points="499.4,93.8 503.1,93.7 505.5,89.0 501.7,89.1" fill="#94d046" stroke="#94d046"/>
<polygon points="366.0,66.5 370.4,73.2 373.0,71.3 368.6,64.7" fill="#d2994a" stroke="#d2994a"/>
<polygon points="361.4,59.4 366.0,66.5 368.6,64.7 364.1,57.6" fill="#d5764b" stroke="#d5764b"/>
<polygon points="370.4,73.2 374.9,79.5 377.4,77.5 373.0,71.3" fill="#ccb349" stroke="#ccb349"/>
<polygon points="424.0,114.9 428.0,117.5 430.4,114.2 426.4,111.7" fill="#44d46e" stroke="#44d46e"/>
<polygon points="434.4,116.5 438.3,118.6 440.7,115.0 436.8,113.1" fill="#43d574" stroke="#43d574"/>
<polygon points="461.0,113.0 464.9,113.9 467.2,109.8 463.4,109.0" fill="#48d161" stroke="#48d161"/>
<polygon points="477.2,106.7 481.0,107.1 483.4,102.7 479.6,102.4" fill="#53c94a" stroke="#53c94a"/>
<polygon points="398.8,103.1 402.9,107.3 405.3,104.7 401.2,100.6" fill="#55c847" stroke="#55c847"/>
<polygon points="374.9,79.5 379.2,85.5 381.8,83.4 377.4,77.5" fill="#c1c34a" stroke="#c1c34a"/>
<polygon points="413.6,111.9 417.6,115.1 420.0,112.1 416.0,109.0" fill="#47d161" stroke="#47d161"/>
<polygon points="444.6,116.8 448.5,118.4 450.9,114.6 447.0,113.1" fill="#44d573" stroke="#44d573"/>
<polygon points="493.3,98.5 497.0,98.5 499.4,93.8 495.6,93.8" fill="#7dce46" stroke="#7dce46"/>
<polygon points="379.2,85.5 383.6,91.0 386.1,88.8 381.8,83.4" fill="#afd046" stroke="#afd046"/>
<polygon points="509.2,88.9 512.8,88.7 515.2,83.9 511.5,84.1" fill="#b0cf46" stroke="#b0cf46"/>
<polygon points="471.0,110.5 474.9,111.0 477.2,106.7 473.4,106.3" fill="#4dcd56" stroke="#4dcd56"/>
<polygon points="383.6,91.0 387.9,96.2 390.3,93.9 386.1,88.8" fill="#95d046" stroke="#95d046"/>
<polygon points="454.8,115.9 458.7,117.0 461.0,113.0 457.1,112.0" fill="#45d46c" stroke="#45d46c"/>
<polygon points="402.9,107.3 407.1,111.1 409.5,108.4 405.3,104.7" fill="#4fcc52" stroke="#4fcc52"/>
<polygon points="487.2,102.9 490.9,103.0 493.3,98.5 489.5,98.4" fill="#67cb46" stroke="#67cb46"/>
<polygon points="428.0,117.5 432.0,119.9 434.4,116.5 430.4,114.2" fill="#43d677" stroke="#43d677"/>
<polygon points="417.6,115.1 421.7,118.0 424.0,114.9 420.0,112.1" fill="#45d46c" stroke="#45d46c"/>
<polygon points="438.3,118.6 442.3,120.4 444.6,116.8 440.7,115.0" fill="#43d67a" stroke="#43d67a"/>
<polygon points="387.9,96.2 392.1,101.1 394.6,98.7 390.3,93.9" fill="#7cce46" stroke="#7cce46"/>
<polygon points="503.1,93.7 506.8,93.7 509.2,88.9 505.5,89.0" fill="#9ad046" stroke="#9ad046"/>
<polygon points="464.9,113.9 468.7,114.7 471.0,110.5 467.2,109.8" fill="#48d160" stroke="#48d160"/>
<polygon points="448.5,118.4 452.4,119.7 454.8,115.9 450.9,114.6" fill="#43d676" stroke="#43d676"/>
<polygon points="407.1,111.1 411.2,114.7 413.6,111.9 409.5,108.4" fill="#4ad05d" stroke="#4ad05d"/>
<polygon points="481.0,107.1 484.8,107.4 487.2,102.9 483.4,102.7" fill="#54c948" stroke="#54c948"/>
<polygon points="392.1,101.1 396.3,105.6 398.8,103.1 394.6,98.7" fill="#64ca46" stroke="#64ca46"/>
<polygon points="497.0,98.5 500.8,98.5 503.1,93.7 499.4,93.8" fill="#83cf46" stroke="#83cf46"/>
<polygon points="458.7,117.0 462.5,118.0 464.9,113.9 461.0,113.0" fill="#45d46c" stroke="#45d46c"/>
<polygon points="421.7,118.0 425.7,120.7 428.0,117.5 424.0,114.9" fill="#43d676" stroke="#43d676"/>
<polygon points="432.0,119.9 436.0,122.0 438.3,118.6 434.4,116.5" fill="#42d77e" stroke="#42d77e"/>
<polygon points="363.4,68.4 367.9,75.1 370.4,73.2 366.0,66.5" fill="#d29b4a" stroke="#d29b4a"/>
<polygon points="358.9,61.2 363.4,68.4 366.0,66.5 361.4,59.4" fill="#d4794b" stroke="#d4794b"/>
<polygon points="474.9,111.0 478.7,111.5 481.0,107.1 477.2,106.7" fill="#4ecd54" stroke="#4ecd54"/>
<polygon points="367.9,75.1 372.3,81.5 374.9,79.5 370.4,73.2" fill="#cbb44a" stroke="#cbb44a"/>
<polygon points="396.3,105.6 400.5,109.9 402.9,107.3 398.8,103.1" fill="#53c94a" stroke="#53c94a"/>
<polygon points="442.3,120.4 446.2,122.1 448.5,118.4 444.6,116.8" fill="#42d77e" stroke="#42d77e"/>
<polygon points="372.3,81.5 376.7,87.5 379.2,85.5 374.9,79.5" fill="#bfc449" stroke="#bfc449"/>
<polygon points="411.2,114.7 415.2,118.0 417.6,115.1 413.6,111.9" fill="#46d367" stroke="#46d367"/>
<polygon points="490.9,103.0 494.7,103.1 497.0,98.5 493.3,98.5" fill="#6ccb46" stroke="#6ccb46"/>
<polygon points="376.7,87.5 381.1,93.2 383.6,91.0 379.2,85.5" fill="#acd046" stroke="#acd046"/>
<polygon points="506.8,93.7 510.5,93.6 512.8,88.7 509.2,88.9" fill="#a0d046" stroke="#a0d046"/>
<polygon points="468.7,114.7 472.5,115.3 474.9,111.0 471.0,110.5" fill="#49d05f" stroke="#49d05f"/>
<polygon points="452.4,119.7 456.3,121.0 458.7,117.0 454.8,115.9" fill="#43d677" stroke="#43d677"/>
<polygon points="381.1,93.2 385.4,98.5 387.9,96.2 383.6,91.0" fill="#91d046" stroke="#91d046"/>
<polygon points="400.5,109.9 404.7,113.9 407.1,111.1 402.9,107.3" fill="#4dcd56" stroke="#4dcd56"/>
<polygon points="484.8,107.4 488.6,107.6 490.9,103.0 487.2,102.9" fill="#56c846" stroke="#56c846"/>
<polygon points="425.7,120.7 429.7,123.2 432.0,119.9 428.0,117.5" fill="#42d77f" stroke="#42d77f"/>
<polygon points="436.0,122.0 439.9,124.0 442.3,120.4 438.3,118.6" fill="#41d884" stroke="#41d884"/>
<polygon points="415.2,118.0 419.3,121.1 421.7,118.0 417.6,115.1" fill="#44d573" stroke="#44d573"/>
<polygon points="500.8,98.5 504.5,98.4 506.8,93.7 503.1,93.7" fill="#89d046" stroke="#89d046"/>
<polygon points="385.4,98.5 389.7,103.5 392.1,101.1 387.9,96.2" fill="#77cd46" stroke="#77cd46"/>
<polygon points="462.5,118.0 466.4,118.9 468.7,114.7 464.9,113.9" fill="#45d36b" stroke="#45d36b"/>
<polygon points="446.2,122.1 450.1,123.6 452.4,119.7 448.5,118.4" fill="#41d881" stroke="#41d881"/>
<polygon points="478.7,111.5 482.5,111.9 484.8,107.4 481.0,107.1" fill="#4fcc52" stroke="#4fcc52"/>
<polygon points="404.7,113.9 408.8,117.6 411.2,114.7 407.1,111.1" fill="#48d161" stroke="#48d161"/>
<polygon points="389.7,103.5 393.9,108.1 396.3,105.6 392.1,101.1" fill="#5fc946" stroke="#5fc946"/>
<polygon points="494.7,103.1 498.4,103.2 500.8,98.5 497.0,98.5" fill="#72cc46" stroke="#72cc46"/>
<polygon points="456.3,121.0 460.2,122.1 462.5,118.0 458.7,117.0" fill="#43d678" stroke="#43d678"/>
<polygon points="429.7,123.2 433.7,125.5 436.0,122.0 432.0,119.9" fill="#40d987" stroke="#40d987"/>
<polygon points="419.3,121.1 423.3,123.9 425.7,120.7 421.7,118.0" fill="#42d77e" stroke="#42d77e"/>
<polygon points="472.5,115.3 476.4,115.9 478.7,111.5 474.9,111.0" fill="#49d05d" stroke="#49d05d"/>
<polygon points="360.9,70.2 365.4,77.0 367.9,75.1 363.4,68.4" fill="#d19e4a" stroke="#d19e4a"/>
<polygon points="356.3,62.9 360.9,70.2 363.4,68.4 358.9,61.2" fill="#d47b4b" stroke="#d47b4b"/>
<polygon points="439.9,124.0 443.9,125.8 446.2,122.1 442.3,120.4" fill="#40d988" stroke="#40d988"/>
<polygon points="365.4,77.0 369.8,83.5 372.3,81.5 367.9,75.1" fill="#cbb64a" stroke="#cbb64a"/>
<polygon points="393.9,108.1 398.1,112.5 400.5,109.9 396.3,105.6" fill="#51ca4d" stroke="#51ca4d"/>
<polygon points="408.8,117.6 412.9,121.0 415.2,118.0 411.2,114.7" fill="#44d46e" stroke="#44d46e"/>
<polygon points="488.6,107.6 492.4,107.8 494.7,103.1 490.9,103.0" fill="#5bc946" stroke="#5bc946"/>
<polygon points="369.8,83.5 374.3,89.6 376.7,87.5 372.3,81.5" fill="#bdc649" stroke="#bdc649"/>
<polygon points="374.3,89.6 378.6,95.3 381.1,93.2 376.7,87.5" fill="#a9d046" stroke="#a9d046"/>
<polygon points="504.5,98.4 508.2,98.4 510.5,93.6 506.8,93.7" fill="#8fd046" stroke="#8fd046"/>
<polygon points="466.4,118.9 470.2,119.6 472.5,115.3 468.7,114.7" fill="#45d36a" stroke="#45d36a"/>
<polygon points="450.1,123.6 454.0,124.9 456.3,121.0 452.4,119.7" fill="#41d883" stroke="#41d883"/>
<polygon points="398.1,112.5 402.3,116.6 404.7,113.9 400.5,109.9" fill="#4bcf5a" stroke="#4bcf5a"/>
<polygon points="482.5,111.9 486.3,112.2 488.6,107.6 484.8,107.4" fill="#50cb4f" stroke="#50cb4f"/>
<polygon points="378.6,95.3 383.0,100.7 385.4,98.5 381.1,93.2" fill="#8dd046" stroke="#8dd046"/>
<polygon points="423.3,123.9 427.4,126.6 429.7,123.2 425.7,120.7" fill="#40d988" stroke="#40d988"/>
<polygon points="433.7,125.5 437.6,127.6 439.9,124.0 436.0,122.0" fill="#3fda8d" stroke="#3fda8d"/>
<polygon points="412.9,121.0 417.0,124.2 419.3,121.1 415.2,118.0" fill="#42d77b" stroke="#42d77b"/>
<polygon points="498.4,103.2 502.2,103.2 504.5,98.4 500.8,98.5" fill="#77cd46" stroke="#77cd46"/>
<polygon points="460.2,122.1 464.1,123.0 466.4,118.9 462.5,118.0" fill="#43d678" stroke="#43d678"/>
<polygon points="383.0,100.7 387.3,105.8 389.7,103.5 385.4,98.5" fill="#73cc46" stroke="#73cc46"/>
<polygon points="443.9,125.8 447.8,127.4 450.1,123.6 446.2,122.1" fill="#40da8c" stroke="#40da8c"/>
<polygon points="476.4,115.9 480.2,116.3 482.5,111.9 478.7,111.5" fill="#4acf5b" stroke="#4acf5b"/>
<polygon points="402.3,116.6 406.4,120.4 408.8,117.6 404.7,113.9" fill="#46d265" stroke="#46d265"/>
<polygon points="387.3,105.8 391.5,110.6 393.9,108.1 389.7,103.5" fill="#5ac946" stroke="#5ac946"/>
<polygon points="492.4,107.8 496.1,107.9 498.4,103.2 494.7,103.1" fill="#60ca46" stroke="#60ca46"/>
<polygon points="454.0,124.9 457.9,126.1 460.2,122.1 456.3,121.0" fill="#41d884" stroke="#41d884"/>
<polygon points="427.4,126.6 431.4,129.0 433.7,125.5 429.7,123.2" fill="#3fdb90" stroke="#3fdb90"/>
<polygon points="417.0,124.2 421.0,127.1 423.3,123.9 419.3,121.1" fill="#41d986" stroke="#41d986"/>
<polygon points="470.2,119.6 474.0,120.2 476.4,115.9 472.5,115.3" fill="#45d368" stroke="#45d368"/>
<polygon points="437.6,127.6 441.6,129.5 443.9,125.8 439.9,124.0" fill="#3fdb93" stroke="#3fdb93"/>
<polygon points="391.5,110.6 395.8,115.1 398.1,112.5 393.9,108.1" fill="#50cc51" stroke="#50cc51"/>
<polygon points="406.4,120.4 410.6,123.9 412.9,121.0 408.8,117.6" fill="#43d574" stroke="#43d574"/>
<polygon points="358.3,72.0 362.9,78.9 365.4,77.0 360.9,70.2" fill="#d1a04a" stroke="#d1a04a"/>
<polygon points="486.3,112.2 490.0,112.4 492.4,107.8 488.6,107.6" fill="#52ca4c" stroke="#52ca4c"/>
<polygon points="353.7,64.6 358.3,72.0 360.9,70.2 356.3,62.9" fill="#d47d4b" stroke="#d47d4b"/>
<polygon points="362.9,78.9 367.4,85.5 369.8,83.5 365.4,77.0" fill="#cab74a" stroke="#cab74a"/>
<polygon points="367.4,85.5 371.8,91.6 374.3,89.6 369.8,83.5" fill="#bcc749" stroke="#bcc749"/>
<polygon points="464.1,123.0 467.9,123.9 470.2,119.6 466.4,118.9" fill="#43d677" stroke="#43d677"/>
<polygon points="447.8,127.4 451.7,128.9 454.0,124.9 450.1,123.6" fill="#3fda8e" stroke="#3fda8e"/>
<polygon points="502.2,103.2 505.9,103.2 508.2,98.4 504.5,98.4" fill="#7dce46" stroke="#7dce46"/>
<polygon points="371.8,91.6 376.2,97.5 378.6,95.3 374.3,89.6" fill="#a6d046" stroke="#a6d046"/>
<polygon points="480.2,116.3 484.0,116.7 486.3,112.2 482.5,111.9" fill="#4bce59" stroke="#4bce59"/>
<polygon points="395.8,115.1 400.0,119.3 402.3,116.6 398.1,112.5" fill="#49d05d" stroke="#49d05d"/>
<polygon points="421.0,127.1 425.1,129.9 427.4,126.6 423.3,123.9" fill="#3fdb90" stroke="#3fdb90"/>
<polygon points="376.2,97.5 380.6,103.0 383.0,100.7 378.6,95.3" fill="#8ad046" stroke="#8ad046"/>
<polygon points="431.4,129.0 435.3,131.2 437.6,127.6 433.7,125.5" fill="#3edc97" stroke="#3edc97"/>
<polygon points="410.6,123.9 414.7,127.2 417.0,124.2 412.9,121.0" fill="#41d882" stroke="#41d882"/>
<polygon points="496.1,107.9 499.8,107.9 502.2,103.2 498.4,103.2" fill="#66ca46" stroke="#66ca46"/>
<polygon points="457.9,126.1 461.8,127.2 464.1,123.0 460.2,122.1" fill="#41d985" stroke="#41d985"/>
<polygon points="441.6,129.5 445.5,131.2 447.8,127.4 443.9,125.8" fill="#3edc97" stroke="#3edc97"/>
<polygon points="380.6,103.0 384.9,108.2 387.3,105.8 383.0,100.7" fill="#6fcc46" stroke="#6fcc46"/>
<polygon points="474.0,120.2 477.9,120.8 480.2,116.3 476.4,115.9" fill="#46d266" stroke="#46d266"/>
<polygon points="400.0,119.3 404.1,123.2 406.4,120.4 402.3,116.6" fill="#45d36b" stroke="#45d36b"/>
<polygon points="490.0,112.4 493.8,112.5 496.1,107.9 492.4,107.8" fill="#53c94a" stroke="#53c94a"/>
<polygon points="384.9,108.2 389.2,113.0 391.5,110.6 387.3,105.8" fill="#56c846" stroke="#56c846"/>
<polygon points="451.7,128.9 455.6,130.1 457.9,126.1 454.0,124.9" fill="#3fdb90" stroke="#3fdb90"/>
<polygon points="425.1,129.9 429.1,132.4 431.4,129.0 427.4,126.6" fill="#3edc9a" stroke="#3edc9a"/>
<polygon points="467.9,123.9 471.7,124.6 474.0,120.2 470.2,119.6" fill="#43d676" stroke="#43d676"/>
<polygon points="414.7,127.2 418.7,130.3 421.0,127.1 417.0,124.2" fill="#3fda8e" stroke="#3fda8e"/>
<polygon points="435.3,131.2 439.3,133.2 441.6,129.5 437.6,127.6" fill="#3edc9f" stroke="#3edc9f"/>
<polygon points="404.1,123.2 408.3,126.9 410.6,123.9 406.4,120.4" fill="#42d77b" stroke="#42d77b"/>
<polygon points="484.0,116.7 487.7,117.0 490.0,112.4 486.3,112.2" fill="#4dce57" stroke="#4dce57"/>
<polygon points="389.2,113.0 393.4,117.6 395.8,115.1 391.5,110.6" fill="#4ecd54" stroke="#4ecd54"/>
<polygon points="355.8,73.8 360.4,80.8 362.9,78.9 358.3,72.0" fill="#d1a249" stroke="#d1a249"/>
<polygon points="360.4,80.8 364.9,87.4 367.4,85.5 362.9,78.9" fill="#cab94a" stroke="#cab94a"/>
<polygon points="351.2,66.4 355.8,73.8 358.3,72.0 353.7,64.6" fill="#d47f4b" stroke="#d47f4b"/>
<polygon points="461.8,127.2 465.6,128.1 467.9,123.9 464.1,123.0" fill="#41d884" stroke="#41d884"/>
<polygon points="445.5,131.2 449.4,132.7 451.7,128.9 447.8,127.4" fill="#3edc9b" stroke="#3edc9b"/>
<polygon points="364.9,87.4 369.4,93.7 371.8,91.6 367.4,85.5" fill="#bac848" stroke="#bac848"/>
<polygon points="499.8,107.9 503.6,107.9 505.9,103.2 502.2,103.2" fill="#6bcb46" stroke="#6bcb46"/>
<polygon points="369.4,93.7 373.8,99.6 376.2,97.5 371.8,91.6" fill="#a3d046" stroke="#a3d046"/>
<polygon points="477.9,120.8 481.7,121.2 484.0,116.7 480.2,116.3" fill="#47d263" stroke="#47d263"/>
<polygon points="418.7,130.3 422.8,133.1 425.1,129.9 421.0,127.1" fill="#3edc99" stroke="#3edc99"/>
<polygon points="393.4,117.6 397.6,121.9 400.0,119.3 395.8,115.1" fill="#48d161" stroke="#48d161"/>
<polygon points="429.1,132.4 433.0,134.7 435.3,131.2 431.4,129.0" fill="#3ddca4" stroke="#3ddca4"/>
<polygon points="373.8,99.6 378.2,105.2 380.6,103.0 376.2,97.5" fill="#86cf46" stroke="#86cf46"/>
<polygon points="408.3,126.9 412.4,130.3 414.7,127.2 410.6,123.9" fill="#40d989" stroke="#40d989"/>
<polygon points="455.6,130.1 459.5,131.3 461.8,127.2 457.9,126.1" fill="#3fdb91" stroke="#3fdb91"/>
<polygon points="493.8,112.5 497.5,112.6 499.8,107.9 496.1,107.9" fill="#55c846" stroke="#55c846"/>
<polygon points="439.3,133.2 443.2,135.0 445.5,131.2 441.6,129.5" fill="#3ddca5" stroke="#3ddca5"/>
<polygon points="471.7,124.6 475.6,125.2 477.9,120.8 474.0,120.2" fill="#44d573" stroke="#44d573"/>
<polygon points="378.2,105.2 382.5,110.5 384.9,108.2 380.6,103.0" fill="#6bcb46" stroke="#6bcb46"/>
<polygon points="397.6,121.9 401.8,126.0 404.1,123.2 400.0,119.3" fill="#44d571" stroke="#44d571"/>
<polygon points="487.7,117.0 491.5,117.2 493.8,112.5 490.0,112.4" fill="#4ecd54" stroke="#4ecd54"/>
<polygon points="449.4,132.7 453.3,134.1 455.6,130.1 451.7,128.9" fill="#3edc9e" stroke="#3edc9e"/>
<polygon points="382.5,110.5 386.8,115.5 389.2,113.0 384.9,108.2" fill="#54c948" stroke="#54c948"/>
<polygon points="422.8,133.1 426.8,135.8 429.1,132.4 425.1,129.9" fill="#3ddca6" stroke="#3ddca6"/>
<polygon points="465.6,128.1 469.5,128.9 471.7,124.6 467.9,123.9" fill="#41d883" stroke="#41d883"/>
<polygon points="412.4,130.3 416.4,133.5 418.7,130.3 414.7,127.2" fill="#3edc95" stroke="#3edc95"/>
<polygon points="433.0,134.7 437.0,136.8 439.3,133.2 435.3,131.2" fill="#3ddcad" stroke="#3ddcad"/>
<polygon points="481.7,121.2 485.4,121.5 487.7,117.0 484.0,116.7" fill="#48d161" stroke="#48d161"/>
<polygon points="401.8,126.0 406.0,129.8 408.3,126.9 404.1,123.2" fill="#41d881" stroke="#41d881"/>
<polygon points="386.8,115.5 391.1,120.2 393.4,117.6 389.2,113.0" fill="#4dce57" stroke="#4dce57"/>
<polygon points="443.2,135.0 447.2,136.6 449.4,132.7 445.5,131.2" fill="#3ddcaa" stroke="#3ddcaa"/>
<polygon points="459.5,131.3 463.3,132.3 465.6,128.1 461.8,127.2" fill="#3fdb91" stroke="#3fdb91"/>
<polygon points="353.3,75.5 357.9,82.6 360.4,80.8 355.8,73.8" fill="#d0a449" stroke="#d0a449"/>
<polygon points="357.9,82.6 362.5,89.3 364.9,87.4 360.4,80.8" fill="#c9ba4a" stroke="#c9ba4a"/>
<polygon points="348.7,68.1 353.3,75.5 355.8,73.8 351.2,66.4" fill="#d4814b" stroke="#d4814b"/>
<polygon points="362.5,89.3 367.0,95.7 369.4,93.7 364.9,87.4" fill="#b8c948" stroke="#b8c948"/>
<polygon points="497.5,112.6 501.3,112.7 503.6,107.9 499.8,107.9" fill="#5ac946" stroke="#5ac946"/>
<polygon points="475.6,125.2 479.4,125.7 481.7,121.2 477.9,120.8" fill="#44d571" stroke="#44d571"/>
<polygon points="367.0,95.7 371.4,101.7 373.8,99.6 369.4,93.7" fill="#9fd046" stroke="#9fd046"/>
<polygon points="416.4,133.5 420.5,136.4 422.8,133.1 418.7,130.3" fill="#3ddca4" stroke="#3ddca4"/>
<polygon points="426.8,135.8 430.8,138.2 433.0,134.7 429.1,132.4" fill="#3ddcb1" stroke="#3ddcb1"/>
<polygon points="391.1,120.2 395.3,124.6 397.6,121.9 393.4,117.6" fill="#46d264" stroke="#46d264"/>
<polygon points="406.0,129.8 410.1,133.3 412.4,130.3 408.3,126.9" fill="#3fdb8f" stroke="#3fdb8f"/>
<polygon points="453.3,134.1 457.2,135.4 459.5,131.3 455.6,130.1" fill="#3ddca0" stroke="#3ddca0"/>
<polygon points="371.4,101.7 375.8,107.4 378.2,105.2 373.8,99.6" fill="#82cf46" stroke="#82cf46"/>
<polygon points="491.5,117.2 495.3,117.3 497.5,112.6 493.8,112.5" fill="#50cc51" stroke="#50cc51"/>
<polygon points="437.0,136.8 441.0,138.7 443.2,135.0 439.3,133.2" fill="#3cdcb4" stroke="#3cdcb4"/>
<polygon points="469.5,128.9 473.3,129.5 475.6,125.2 471.7,124.6" fill="#41d881" stroke="#41d881"/>
<polygon points="375.8,107.4 380.2,112.8 382.5,110.5 378.2,105.2" fill="#66cb46" stroke="#66cb46"/>
<polygon points="395.3,124.6 399.5,128.7 401.8,126.0 397.6,121.9" fill="#43d677" stroke="#43d677"/>
<polygon points="485.4,121.5 489.2,121.8 491.5,117.2 487.7,117.0" fill="#49d05e" stroke="#49d05e"/>
<polygon points="447.2,136.6 451.1,138.1 453.3,134.1 449.4,132.7" fill="#3ddcae" stroke="#3ddcae"/>
<polygon points="420.5,136.4 424.5,139.1 426.8,135.8 422.8,133.1" fill="#3ddcb2" stroke="#3ddcb2"/>
<polygon points="463.3,132.3 467.2,133.1 469.5,128.9 465.6,128.1" fill="#3fdb90" stroke="#3fdb90"/>
<polygon points="380.2,112.8 384.5,117.9 386.8,115.5 382.5,110.5" fill="#52ca4b" stroke="#52ca4b"/>
<polygon points="410.1,133.3 414.2,136.6 416.4,133.5 412.4,130.3" fill="#3edc9f" stroke="#3edc9f"/>
<polygon points="430.8,138.2 434.8,140.4 437.0,136.8 433.0,134.7" fill="#3cdcba" stroke="#3cdcba"/>
<polygon points="479.4,125.7 483.2,126.1 485.4,121.5 481.7,121.2" fill="#44d46e" stroke="#44d46e"/>
<polygon points="399.5,128.7 403.7,132.6 406.0,129.8 401.8,126.0" fill="#40d987" stroke="#40d987"/>
<polygon points="384.5,117.9 388.8,122.7 391.1,120.2 386.8,115.5" fill="#4bcf5a" stroke="#4bcf5a"/>
<polygon points="441.0,138.7 444.9,140.4 447.2,136.6 443.2,135.0" fill="#3cdcb9" stroke="#3cdcb9"/>
<polygon points="457.2,135.4 461.1,136.4 463.3,132.3 459.5,131.3" fill="#3ddca0" stroke="#3ddca0"/>
<polygon points="350.9,77.3 355.5,84.4 357.9,82.6 353.3,75.5" fill="#d0a649" stroke="#d0a649"/>
<polygon points="355.5,84.4 360.1,91.2 362.5,89.3 357.9,82.6" fill="#c9bb4b" stroke="#c9bb4b"/>
<polygon points="495.3,117.3 499.0,117.4 501.3,112.7 497.5,112.6" fill="#51cb4e" stroke="#51cb4e"/>
<polygon points="346.2,69.8 350.9,77.3 353.3,75.5 348.7,68.1" fill="#d4834b" stroke="#d4834b"/>
<polygon points="473.3,129.5 477.1,130.1 479.4,125.7 475.6,125.2" fill="#42d77f" stroke="#42d77f"/>
<polygon points="360.1,91.2 364.6,97.7 367.0,95.7 362.5,89.3" fill="#b7cb48" stroke="#b7cb48"/>
<polygon points="414.2,136.6 418.3,139.6 420.5,136.4 416.4,133.5" fill="#3ddcaf" stroke="#3ddcaf"/>
<polygon points="424.5,139.1 428.5,141.6 430.8,138.2 426.8,135.8" fill="#3cdcbd" stroke="#3cdcbd"/>
<polygon points="364.6,97.7 369.1,103.8 371.4,101.7 367.0,95.7" fill="#9cd046" stroke="#9cd046"/>
<polygon points="388.8,122.7 393.0,127.2 395.3,124.6 391.1,120.2" fill="#45d36a" stroke="#45d36a"/>
<polygon points="451.1,138.1 455.0,139.4 457.2,135.4 453.3,134.1" fill="#3ddcb0" stroke="#3ddcb0"/>
<polygon points="403.7,132.6 407.8,136.3 410.1,133.3 406.0,129.8" fill="#3edc96" stroke="#3edc96"/>
<polygon points="434.8,140.4 438.7,142.4 441.0,138.7 437.0,136.8" fill="#3cdbbf" stroke="#3cdbbf"/>
<polygon points="369.1,103.8 373.5,109.6 375.8,107.4 371.4,101.7" fill="#7fce46" stroke="#7fce46"/>
<polygon points="489.2,121.8 493.0,122.0 495.3,117.3 491.5,117.2" fill="#4acf5b" stroke="#4acf5b"/>
<polygon points="467.2,133.1 471.0,133.9 473.3,129.5 469.5,128.9" fill="#3fdb8f" stroke="#3fdb8f"/>
<polygon points="373.5,109.6 377.9,115.1 380.2,112.8 375.8,107.4" fill="#62ca46" stroke="#62ca46"/>
<polygon points="393.0,127.2 397.3,131.5 399.5,128.7 395.3,124.6" fill="#42d77c" stroke="#42d77c"/>
<polygon points="444.9,140.4 448.8,142.0 451.1,138.1 447.2,136.6" fill="#3cdcbd" stroke="#3cdcbd"/>
<polygon points="483.2,126.1 487.0,126.4 489.2,121.8 485.4,121.5" fill="#45d36a" stroke="#45d36a"/>
<polygon points="418.3,139.6 422.3,142.5 424.5,139.1 420.5,136.4" fill="#3cdcbd" stroke="#3cdcbd"/>
<polygon points="461.1,136.4 465.0,137.4 467.2,133.1 463.3,132.3" fill="#3ddca0" stroke="#3ddca0"/>
<polygon points="407.8,136.3 411.9,139.7 414.2,136.6 410.1,133.3" fill="#3ddca9" stroke="#3ddca9"/>
<polygon points="377.9,115.1 382.2,120.2 384.5,117.9 380.2,112.8" fill="#51cb4e" stroke="#51cb4e"/>
<polygon points="428.5,141.6 432.5,144.0 434.8,140.4 430.8,138.2" fill="#3cdac1" stroke="#3cdac1"/>
<polygon points="477.1,130.1 480.9,130.6 483.2,126.1 479.4,125.7" fill="#42d77c" stroke="#42d77c"/>
<polygon points="397.3,131.5 401.4,135.5 403.7,132.6 399.5,128.7" fill="#3fda8d" stroke="#3fda8d"/>
<polygon points="438.7,142.4 442.7,144.2 444.9,140.4 441.0,138.7" fill="#3cdac2" stroke="#3cdac2"/>
<polygon points="455.0,139.4 458.9,140.6 461.1,136.4 457.2,135.4" fill="#3ddcb1" stroke="#3ddcb1"/>
<polygon points="382.2,120.2 386.5,125.2 388.8,122.7 384.5,117.9" fill="#49d05d" stroke="#49d05d"/>
<polygon points="471.0,133.9 474.9,134.5 477.1,130.1 473.3,129.5" fill="#3fda8d" stroke="#3fda8d"/>
<polygon points="493.0,122.0 496.7,122.1 499.0,117.4 495.3,117.3" fill="#4cce58" stroke="#4cce58"/>
<polygon points="348.4,79.0 353.1,86.2 355.5,84.4 350.9,77.3" fill="#cfa848" stroke="#cfa848"/>
<polygon points="353.1,86.2 357.7,93.1 360.1,91.2 355.5,84.4" fill="#c8bd4b" stroke="#c8bd4b"/>
<polygon points="411.9,139.7 416.0,142.8 418.3,139.6 414.2,136.6" fill="#3cdcba" stroke="#3cdcba"/>
<polygon points="422.3,142.5 426.3,145.1 428.5,141.6 424.5,139.1" fill="#3cdac3" stroke="#3cdac3"/>
<polygon points="343.7,71.4 348.4,79.0 350.9,77.3 346.2,69.8" fill="#d4854c" stroke="#d4854c"/>
<polygon points="357.7,93.1 362.2,99.6 364.6,97.7 360.1,91.2" fill="#b5cc47" stroke="#b5cc47"/>
<polygon points="386.5,125.2 390.8,129.8 393.0,127.2 388.8,122.7" fill="#44d46e" stroke="#44d46e"/>
<polygon points="448.8,142.0 452.7,143.4 455.0,139.4 451.1,138.1" fill="#3cdbbe" stroke="#3cdbbe"/>
<polygon points="362.2,99.6 366.7,105.8 369.1,103.8 364.6,97.7" fill="#9ad046" stroke="#9ad046"/>
<polygon points="401.4,135.5 405.6,139.2 407.8,136.3 403.7,132.6" fill="#3edc9f" stroke="#3edc9f"/>
<polygon points="432.5,144.0 436.5,146.1 438.7,142.4 434.8,140.4" fill="#3cd9c6" stroke="#3cd9c6"/>
<polygon points="487.0,126.4 490.7,126.6 493.0,122.0 489.2,121.8" fill="#46d266" stroke="#46d266"/>
<polygon points="465.0,137.4 468.8,138.2 471.0,133.9 467.2,133.1" fill="#3edc9e" stroke="#3edc9e"/>
<polygon points="366.7,105.8 371.2,111.7 373.5,109.6 369.1,103.8" fill="#7bce46" stroke="#7bce46"/>
<polygon points="390.8,129.8 395.0,134.2 397.3,131.5 393.0,127.2" fill="#41d882" stroke="#41d882"/>
<polygon points="371.2,111.7 375.6,117.3 377.9,115.1 373.5,109.6" fill="#5fc946" stroke="#5fc946"/>
<polygon points="442.7,144.2 446.6,145.9 448.8,142.0 444.9,140.4" fill="#3cd9c4" stroke="#3cd9c4"/>
<polygon points="480.9,130.6 484.7,130.9 487.0,126.4 483.2,126.1" fill="#43d679" stroke="#43d679"/>
<polygon points="416.0,142.8 420.1,145.8 422.3,142.5 418.3,139.6" fill="#3cdac2" stroke="#3cdac2"/>
<polygon points="458.9,140.6 462.7,141.6 465.0,137.4 461.1,136.4" fill="#3ddcb1" stroke="#3ddcb1"/>
<polygon points="405.6,139.2 409.7,142.7 411.9,139.7 407.8,136.3" fill="#3cdcb3" stroke="#3cdcb3"/>
<polygon points="426.3,145.1 430.3,147.5 432.5,144.0 428.5,141.6" fill="#3cd8c8" stroke="#3cd8c8"/>
<polygon points="375.6,117.3 379.9,122.6 382.2,120.2 377.9,115.1" fill="#50cc51" stroke="#50cc51"/>
<polygon points="474.9,134.5 478.7,135.1 480.9,130.6 477.1,130.1" fill="#40da8a" stroke="#40da8a"/>
<polygon points="395.0,134.2 399.2,138.3 401.4,135.5 397.3,131.5" fill="#3edb93" stroke="#3edb93"/>
<polygon points="436.5,146.1 440.5,148.0 442.7,144.2 438.7,142.4" fill="#3cd8c9" stroke="#3cd8c9"/>
<polygon points="452.7,143.4 456.6,144.7 458.9,140.6 455.0,139.4" fill="#3cdbbf" stroke="#3cdbbf"/>
<polygon points="379.9,122.6 384.3,127.6 386.5,125.2 382.2,120.2" fill="#48d160" stroke="#48d160"/>
<polygon points="468.8,138.2 472.6,138.9 474.9,134.5 471.0,133.9" fill="#3edc9c" stroke="#3edc9c"/>
<polygon points="409.7,142.7 413.8,146.0 416.0,142.8 411.9,139.7" fill="#3cdbc0" stroke="#3cdbc0"/>
<polygon points="420.1,145.8 424.1,148.5 426.3,145.1 422.3,142.5" fill="#3cd8c8" stroke="#3cd8c8"/>
<polygon points="490.7,126.6 494.5,126.8 496.7,122.1 493.0,122.0" fill="#47d162" stroke="#47d162"/>
<polygon points="350.7,88.0 355.3,94.9 357.7,93.1 353.1,86.2" fill="#c8be4b" stroke="#c8be4b"/>
<polygon points="346.0,80.7 350.7,88.0 353.1,86.2 348.4,79.0" fill="#cfaa48" stroke="#cfaa48"/>
<polygon points="446.6,145.9 450.5,147.4 452.7,143.4 448.8,142.0" fill="#3cd9c6" stroke="#3cd9c6"/>
<polygon points="355.3,94.9 359.9,101.6 362.2,99.6 357.7,93.1" fill="#b3cd47" stroke="#b3cd47"/>
<polygon points="384.3,127.6 388.5,132.4 390.8,129.8 386.5,125.2" fill="#44d573" stroke="#44d573"/>
<polygon points="341.3,73.1 346.0,80.7 348.4,79.0 343.7,71.4" fill="#d4864c" stroke="#d4864c"/>
<polygon points="399.2,138.3 403.4,142.1 405.6,139.2 401.4,135.5" fill="#3ddca8" stroke="#3ddca8"/>
<polygon points="430.3,147.5 434.3,149.7 436.5,146.1 432.5,144.0" fill="#3cd7cc" stroke="#3cd7cc"/>
<polygon points="359.9,101.6 364.4,107.9 366.7,105.8 362.2,99.6" fill="#97d046" stroke="#97d046"/>
<polygon points="462.7,141.6 466.6,142.5 468.8,138.2 465.0,137.4" fill="#3ddcb0" stroke="#3ddcb0"/>
<polygon points="484.7,130.9 488.5,131.2 490.7,126.6 487.0,126.4" fill="#43d575" stroke="#43d575"/>
<polygon points="364.4,107.9 368.9,113.8 371.2,111.7 366.7,105.8" fill="#78cd46" stroke="#78cd46"/>
<polygon points="440.5,148.0 444.4,149.8 446.6,145.9 442.7,144.2" fill="#3cd7cc" stroke="#3cd7cc"/>
<polygon points="388.5,132.4 392.8,136.8 395.0,134.2 390.8,129.8" fill="#40d987" stroke="#40d987"/>
<polygon points="368.9,113.8 373.3,119.5 375.6,117.3 371.2,111.7" fill="#5bc946" stroke="#5bc946"/>
<polygon points="413.8,146.0 417.9,149.0 420.1,145.8 416.0,142.8" fill="#3cd8c8" stroke="#3cd8c8"/>
<polygon points="456.6,144.7 460.5,145.8 462.7,141.6 458.9,140.6" fill="#3cdbbf" stroke="#3cdbbf"/>
<polygon points="478.7,135.1 482.5,135.5 484.7,130.9 480.9,130.6" fill="#40d987" stroke="#40d987"/>
<polygon points="403.4,142.1 407.5,145.7 409.7,142.7 405.6,139.2" fill="#3cdcbc" stroke="#3cdcbc"/>
<polygon points="424.1,148.5 428.2,151.0 430.3,147.5 426.3,145.1" fill="#3cd6ce" stroke="#3cd6ce"/>
<polygon points="373.3,119.5 377.7,124.9 379.9,122.6 375.6,117.3" fill="#4ecc53" stroke="#4ecc53"/>
<polygon points="472.6,138.9 476.5,139.5 478.7,135.1 474.9,134.5" fill="#3edc99" stroke="#3edc99"/>
<polygon points="392.8,136.8 397.0,141.0 399.2,138.3 395.0,134.2" fill="#3edc9a" stroke="#3edc9a"/>
<polygon points="434.3,149.7 438.3,151.7 440.5,148.0 436.5,146.1" fill="#3cd6d0" stroke="#3cd6d0"/>
<polygon points="450.5,147.4 454.4,148.7 456.6,144.7 452.7,143.4" fill="#3cd9c7" stroke="#3cd9c7"/>
<polygon points="377.7,124.9 382.0,130.0 384.3,127.6 379.9,122.6" fill="#46d263" stroke="#46d263"/>
<polygon points="466.6,142.5 470.4,143.3 472.6,138.9 468.8,138.2" fill="#3ddcae" stroke="#3ddcae"/>
<polygon points="407.5,145.7 411.6,149.1 413.8,146.0 409.7,142.7" fill="#3cd9c5" stroke="#3cd9c5"/>
<polygon points="417.9,149.0 422.0,151.9 424.1,148.5 420.1,145.8" fill="#3cd6ce" stroke="#3cd6ce"/>
<polygon points="488.5,131.2 492.3,131.4 494.5,126.8 490.7,126.6" fill="#44d470" stroke="#44d470"/>
<polygon points="444.4,149.8 448.3,151.4 450.5,147.4 446.6,145.9" fill="#3cd7ce" stroke="#3cd7ce"/>
<polygon points="348.3,89.8 353.0,96.8 355.3,94.9 350.7,88.0" fill="#c7bf4b" stroke="#c7bf4b"/>
<polygon points="382.0,130.0 386.3,134.9 388.5,132.4 384.3,127.6" fill="#43d678" stroke="#43d678"/>
<polygon points="397.0,141.0 401.2,145.0 403.4,142.1 399.2,138.3" fill="#3ddcb1" stroke="#3ddcb1"/>
<polygon points="343.6,82.4 348.3,89.8 350.7,88.0 346.0,80.7" fill="#cfab48" stroke="#cfab48"/>
<polygon points="428.2,151.0 432.2,153.3 434.3,149.7 430.3,147.5" fill="#3cd5d3" stroke="#3cd5d3"/>
<polygon points="353.0,96.8 357.6,103.5 359.9,101.6 355.3,94.9" fill="#b2ce47" stroke="#b2ce47"/>
<polygon points="338.9,74.7 343.6,82.4 346.0,80.7 341.3,73.1" fill="#d4884c" stroke="#d4884c"/>
<polygon points="357.6,103.5 362.1,109.9 364.4,107.9 359.9,101.6" fill="#94d046" stroke="#94d046"/>
<polygon points="460.5,145.8 464.4,146.7 466.6,142.5 462.7,141.6" fill="#3cdbbf" stroke="#3cdbbf"/>
<polygon points="482.5,135.5 486.3,135.8 488.5,131.2 484.7,130.9" fill="#41d883" stroke="#41d883"/>
<polygon points="362.1,109.9 366.6,115.9 368.9,113.8 364.4,107.9" fill="#75cd46" stroke="#75cd46"/>
<polygon points="438.3,151.7 442.2,153.6 444.4,149.8 440.5,148.0" fill="#3cd5d3" stroke="#3cd5d3"/>
<polygon points="386.3,134.9 390.6,139.5 392.8,136.8 388.5,132.4" fill="#40da8c" stroke="#40da8c"/>
<polygon points="411.6,149.1 415.7,152.3 417.9,149.0 413.8,146.0" fill="#3cd7cd" stroke="#3cd7cd"/>
<polygon points="366.6,115.9 371.1,121.7 373.3,119.5 368.9,113.8" fill="#57c846" stroke="#57c846"/>
<polygon points="454.4,148.7 458.3,149.9 460.5,145.8 456.6,144.7" fill="#3cd8c8" stroke="#3cd8c8"/>
<polygon points="476.5,139.5 480.3,140.0 482.5,135.5 478.7,135.1" fill="#3edc95" stroke="#3edc95"/>
<polygon points="401.2,145.0 405.4,148.7 407.5,145.7 403.4,142.1" fill="#3cdbc1" stroke="#3cdbc1"/>
<polygon points="422.0,151.9 426.0,154.5 428.2,151.0 424.1,148.5" fill="#3cd5d4" stroke="#3cd5d4"/>
<polygon points="371.1,121.7 375.5,127.2 377.7,124.9 373.3,119.5" fill="#4dcd56" stroke="#4dcd56"/>
<polygon points="432.2,153.3 436.1,155.4 438.3,151.7 434.3,149.7" fill="#3cd4d6" stroke="#3cd4d6"/>
<polygon points="470.4,143.3 474.3,143.9 476.5,139.5 472.6,138.9" fill="#3ddcac" stroke="#3ddcac"/>
<polygon points="390.6,139.5 394.8,143.8 397.0,141.0 392.8,136.8" fill="#3ddca2" stroke="#3ddca2"/>
<polygon points="448.3,151.4 452.3,152.8 454.4,148.7 450.5,147.4" fill="#3cd6cf" stroke="#3cd6cf"/>
<polygon points="375.5,127.2 379.8,132.4 382.0,130.0 377.7,124.9" fill="#46d367" stroke="#46d367"/>
<polygon points="464.4,146.7 468.2,147.6 470.4,143.3 466.6,142.5" fill="#3cdbbe" stroke="#3cdbbe"/>
<polygon points="415.7,152.3 419.8,155.2 422.0,151.9 417.9,149.0" fill="#3cd5d4" stroke="#3cd5d4"/>
<polygon points="405.4,148.7 409.5,152.2 411.6,149.1 407.5,145.7" fill="#3cd8ca" stroke="#3cd8ca"/>
<polygon points="442.2,153.6 446.2,155.3 448.3,151.4 444.4,149.8" fill="#3cd4d5" stroke="#3cd4d5"/>
<polygon points="486.3,135.8 490.1,136.1 492.3,131.4 488.5,131.2" fill="#42d77f" stroke="#42d77f"/>
<polygon points="426.0,154.5 430.0,156.9 432.2,153.3 428.2,151.0" fill="#3cd2d7" stroke="#3cd2d7"/>
<polygon points="394.8,143.8 399.0,147.9 401.2,145.0 397.0,141.0" fill="#3cdcb9" stroke="#3cdcb9"/>
<polygon points="379.8,132.4 384.2,137.4 386.3,134.9 382.0,130.0" fill="#42d77d" stroke="#42d77d"/>
<polygon points="346.0,91.5 350.7,98.6 353.0,96.8 348.3,89.8" fill="#c5c04a" stroke="#c5c04a"/>
<polygon points="341.3,84.1 346.0,91.5 348.3,89.8 343.6,82.4" fill="#ceac48" stroke="#ceac48"/>
<polygon points="350.7,98.6 355.3,105.4 357.6,103.5 353.0,96.8" fill="#b0cf46" stroke="#b0cf46"/>
<polygon points="458.3,149.9 462.2,151.0 464.4,146.7 460.5,145.8" fill="#3cd8c8" stroke="#3cd8c8"/>
<polygon points="336.5,76.3 341.3,84.1 343.6,82.4 338.9,74.7" fill="#d48a4c" stroke="#d48a4c"/>
<polygon points="355.3,105.4 359.9,111.9 362.1,109.9 357.6,103.5" fill="#91d046" stroke="#91d046"/>
<polygon points="480.3,140.0 484.1,140.4 486.3,135.8 482.5,135.5" fill="#3fdb92" stroke="#3fdb92"/>
<polygon points="359.9,111.9 364.4,118.0 366.6,115.9 362.1,109.9" fill="#71cc46" stroke="#71cc46"/>
<polygon points="436.1,155.4 440.1,157.4 442.2,153.6 438.3,151.7" fill="#3cd2d7" stroke="#3cd2d7"/>
<polygon points="384.2,137.4 388.4,142.1 390.6,139.5 386.3,134.9" fill="#3fdb91" stroke="#3fdb91"/>
<polygon points="409.5,152.2 413.6,155.5 415.7,152.3 411.6,149.1" fill="#3cd5d2" stroke="#3cd5d2"/>
<polygon points="452.3,152.8 456.2,154.0 458.3,149.9 454.4,148.7" fill="#3cd6d0" stroke="#3cd6d0"/>
<polygon points="364.4,118.0 368.8,123.9 371.1,121.7 366.6,115.9" fill="#54c847" stroke="#54c847"/>
<polygon points="419.8,155.2 423.9,157.9 426.0,154.5 422.0,151.9" fill="#3cd2d7" stroke="#3cd2d7"/>
<polygon points="474.3,143.9 478.1,144.4 480.3,140.0 476.5,139.5" fill="#3ddca8" stroke="#3ddca8"/>
<polygon points="399.0,147.9 403.2,151.7 405.4,148.7 401.2,145.0" fill="#3cd9c5" stroke="#3cd9c5"/>
<polygon points="368.8,123.9 373.3,129.5 375.5,127.2 371.1,121.7" fill="#4cce58" stroke="#4cce58"/>
<polygon points="430.0,156.9 434.0,159.1 436.1,155.4 432.2,153.3" fill="#3cd0d9" stroke="#3cd0d9"/>
<polygon points="446.2,155.3 450.1,156.8 452.3,152.8 448.3,151.4" fill="#3cd4d6" stroke="#3cd4d6"/>
<polygon points="468.2,147.6 472.1,148.3 474.3,143.9 470.4,143.3" fill="#3cdcbd" stroke="#3cdcbd"/>
<polygon points="388.4,142.1 392.7,146.5 394.8,143.8 390.6,139.5" fill="#3ddcaa" stroke="#3ddcaa"/>
<polygon points="373.3,129.5 377.7,134.8 379.8,132.4 375.5,127.2" fill="#45d36b" stroke="#45d36b"/>
<polygon points="413.6,155.5 417.7,158.5 419.8,155.2 415.7,152.3" fill="#3cd2d7" stroke="#3cd2d7"/>
<polygon points="403.2,151.7 407.4,155.3 409.5,152.2 405.4,148.7" fill="#3cd6cf" stroke="#3cd6cf"/>
<polygon points="462.2,151.0 466.1,151.9 468.2,147.6 464.4,146.7" fill="#3cd9c7" stroke="#3cd9c7"/>
<polygon points="440.1,157.4 444.0,159.1 446.2,155.3 442.2,153.6" fill="#3cd0d8" stroke="#3cd0d8"/>
<polygon points="423.9,157.9 427.9,160.4 430.0,156.9 426.0,154.5" fill="#3ccfd9" stroke="#3ccfd9"/>
<polygon points="484.1,140.4 487.9,140.6 490.1,136.1 486.3,135.8" fill="#3fda8e" stroke="#3fda8e"/>
<polygon points="392.7,146.5 396.9,150.7 399.0,147.9 394.8,143.8" fill="#3cdbbf" stroke="#3cdbbf"/>
<polygon points="377.7,134.8 382.0,139.9 384.2,137.4 379.8,132.4" fill="#41d882" stroke="#41d882"/>
<polygon points="456.2,154.0 460.0,155.1 462.2,151.0 458.3,149.9" fill="#3cd6d0" stroke="#3cd6d0"/>
<polygon points="343.7,93.2 348.4,100.4 350.7,98.6 346.0,91.5" fill="#c4c14a" stroke="#c4c14a"/>
<polygon points="348.4,100.4 353.0,107.3 355.3,105.4 350.7,98.6" fill="#afd046" stroke="#afd046"/>
<polygon points="339.0,85.7 343.7,93.2 346.0,91.5 341.3,84.1" fill="#cead48" stroke="#cead48"/>
<polygon points="353.0,107.3 357.6,113.8 359.9,111.9 355.3,105.4" fill="#8ed046" stroke="#8ed046"/>
<polygon points="334.1,77.9 339.0,85.7 341.3,84.1 336.5,76.3" fill="#d48c4c" stroke="#d48c4c"/>
<polygon points="478.1,144.4 481.9,144.9 484.1,140.4 480.3,140.0" fill="#3ddca3" stroke="#3ddca3"/>
<polygon points="434.0,159.1 438.0,161.1 440.1,157.4 436.1,155.4" fill="#3cceda" stroke="#3cceda"/>
<polygon points="357.6,113.8 362.2,120.1 364.4,118.0 359.9,111.9" fill="#6ecc46" stroke="#6ecc46"/>
<polygon points="407.4,155.3 411.5,158.6 413.6,155.5 409.5,152.2" fill="#3cd3d6" stroke="#3cd3d6"/>
<polygon points="382.0,139.9 386.3,144.6 388.4,142.1 384.2,137.4" fill="#3edc97" stroke="#3edc97"/>
<polygon points="450.1,156.8 454.0,158.1 456.2,154.0 452.3,152.8" fill="#3cd3d7" stroke="#3cd3d7"/>
<polygon points="417.7,158.5 421.7,161.3 423.9,157.9 419.8,155.2" fill="#3ccfda" stroke="#3ccfda"/>
<polygon points="396.9,150.7 401.1,154.6 403.2,151.7 399.0,147.9" fill="#3cd8ca" stroke="#3cd8ca"/>
<polygon points="362.2,120.1 366.7,126.0 368.8,123.9 364.4,118.0" fill="#53c949" stroke="#53c949"/>
<polygon points="472.1,148.3 475.9,148.9 478.1,144.4 474.3,143.9" fill="#3cdcbb" stroke="#3cdcbb"/>
<polygon points="427.9,160.4 431.9,162.7 434.0,159.1 430.0,156.9" fill="#3cccdb" stroke="#3cccdb"/>
<polygon points="366.7,126.0 371.1,131.7 373.3,129.5 368.8,123.9" fill="#4bcf5b" stroke="#4bcf5b"/>
<polygon points="444.0,159.1 448.0,160.7 450.1,156.8 446.2,155.3" fill="#3ccfd9" stroke="#3ccfd9"/>
<polygon points="386.3,144.6 390.6,149.2 392.7,146.5 388.4,142.1" fill="#3ddcb1" stroke="#3ddcb1"/>
<polygon points="466.1,151.9 469.9,152.6 472.1,148.3 468.2,147.6" fill="#3cd9c6" stroke="#3cd9c6"/>
<polygon points="371.1,131.7 375.5,137.2 377.7,134.8 373.3,129.5" fill="#44d46f" stroke="#44d46f"/>
<polygon points="411.5,158.6 415.6,161.7 417.7,158.5 413.6,155.5" fill="#3ccfd9" stroke="#3ccfd9"/>
<polygon points="401.1,154.6 405.3,158.3 407.4,155.3 403.2,151.7" fill="#3cd5d3" stroke="#3cd5d3"/>
<polygon points="460.0,155.1 463.9,156.1 466.1,151.9 462.2,151.0" fill="#3cd6d0" stroke="#3cd6d0"/>
<polygon points="438.0,161.1 441.9,163.0 444.0,159.1 440.1,157.4" fill="#3ccddb" stroke="#3ccddb"/>
<polygon points="421.7,161.3 425.8,163.9 427.9,160.4 423.9,157.9" fill="#3cccdc" stroke="#3cccdc"/>
<polygon points="390.6,149.2 394.8,153.5 396.9,150.7 392.7,146.5" fill="#3cdac3" stroke="#3cdac3"/>
<polygon points="481.9,144.9 485.7,145.2 487.9,140.6 484.1,140.4" fill="#3edc9e" stroke="#3edc9e"/>
<polygon points="375.5,137.2 379.9,142.3 382.0,139.9 377.7,134.8" fill="#41d986" stroke="#41d986"/>
<polygon points="454.0,158.1 457.9,159.3 460.0,155.1 456.2,154.0" fill="#3cd3d7" stroke="#3cd3d7"/>
<polygon points="341.4,94.9 346.2,102.2 348.4,100.4 343.7,93.2" fill="#c3c24a" stroke="#c3c24a"/>
<polygon points="346.2,102.2 350.8,109.1 353.0,107.3 348.4,100.4" fill="#add046" stroke="#add046"/>
<polygon points="336.7,87.4 341.4,94.9 343.7,93.2 339.0,85.7" fill="#ceae49" stroke="#ceae49"/>
<polygon points="431.9,162.7 435.9,164.8 438.0,161.1 434.0,159.1" fill="#3ccadc" stroke="#3ccadc"/>
<polygon points="350.8,109.1 355.4,115.7 357.6,113.8 353.0,107.3" fill="#8cd046" stroke="#8cd046"/>
<polygon points="475.9,148.9 479.7,149.3 481.9,144.9 478.1,144.4" fill="#3cdcb6" stroke="#3cdcb6"/>
<polygon points="331.8,79.5 336.7,87.4 339.0,85.7 334.1,77.9" fill="#d48d4c" stroke="#d48d4c"/>
<polygon points="405.3,158.3 409.4,161.7 411.5,158.6 407.4,155.3" fill="#3cd1d8" stroke="#3cd1d8"/>
<polygon points="379.9,142.3 384.2,147.2 386.3,144.6 382.0,139.9" fill="#3edc9d" stroke="#3edc9d"/>
<polygon points="355.4,115.7 360.0,122.1 362.2,120.1 357.6,113.8" fill="#6bcb46" stroke="#6bcb46"/>
<polygon points="448.0,160.7 451.9,162.1 454.0,158.1 450.1,156.8" fill="#3ccfd9" stroke="#3ccfd9"/>
<polygon points="415.6,161.7 419.7,164.7 421.7,161.3 417.7,158.5" fill="#3cccdc" stroke="#3cccdc"/>
<polygon points="394.8,153.5 399.0,157.5 401.1,154.6 396.9,150.7" fill="#3cd6ce" stroke="#3cd6ce"/>
<polygon points="469.9,152.6 473.7,153.3 475.9,148.9 472.1,148.3" fill="#3cd9c4" stroke="#3cd9c4"/>
<polygon points="360.0,122.1 364.5,128.2 366.7,126.0 362.2,120.1" fill="#52ca4b" stroke="#52ca4b"/>
<polygon points="425.8,163.9 429.8,166.3 431.9,162.7 427.9,160.4" fill="#3cc9dd" stroke="#3cc9dd"/>
<polygon points="441.9,163.0 445.9,164.6 448.0,160.7 444.0,159.1" fill="#3ccbdc" stroke="#3ccbdc"/>
<polygon points="364.5,128.2 369.0,134.0 371.1,131.7 366.7,126.0" fill="#49d05d" stroke="#49d05d"/>
<polygon points="384.2,147.2 388.5,151.8 390.6,149.2 386.3,144.6" fill="#3cdcb9" stroke="#3cdcb9"/>
<polygon points="463.9,156.1 467.8,156.9 469.9,152.6 466.1,151.9" fill="#3cd6cf" stroke="#3cd6cf"/>
<polygon points="409.4,161.7 413.5,165.0 415.6,161.7 411.5,158.6" fill="#3cccdb" stroke="#3cccdb"/>
<polygon points="399.0,157.5 403.2,161.3 405.3,158.3 401.1,154.6" fill="#3cd3d7" stroke="#3cd3d7"/>
<polygon points="369.0,134.0 373.4,139.5 375.5,137.2 371.1,131.7" fill="#44d573" stroke="#44d573"/>
<polygon points="457.9,159.3 461.8,160.3 463.9,156.1 460.0,155.1" fill="#3cd3d7" stroke="#3cd3d7"/>
<polygon points="435.9,164.8 439.8,166.8 441.9,163.0 438.0,161.1" fill="#3cc9dd" stroke="#3cc9dd"/>
<polygon points="419.7,164.7 423.7,167.4 425.8,163.9 421.7,161.3" fill="#3cc8de" stroke="#3cc8de"/>
<polygon points="388.5,151.8 392.7,156.2 394.8,153.5 390.6,149.2" fill="#3cd9c7" stroke="#3cd9c7"/>
<polygon points="373.4,139.5 377.8,144.7 379.9,142.3 375.5,137.2" fill="#40da8a" stroke="#40da8a"/>
<polygon points="479.7,149.3 483.5,149.7 485.7,145.2 481.9,144.9" fill="#3ddcb1" stroke="#3ddcb1"/>
<polygon points="451.9,162.1 455.8,163.4 457.9,159.3 454.0,158.1" fill="#3ccfda" stroke="#3ccfda"/>
<polygon points="429.8,166.3 433.8,168.5 435.9,164.8 431.9,162.7" fill="#3dc4e0" stroke="#3dc4e0"/>
<polygon points="339.2,96.6 343.9,103.9 346.2,102.2 341.4,94.9" fill="#c1c34a" stroke="#c1c34a"/>
<polygon points="343.9,103.9 348.6,110.9 350.8,109.1 346.2,102.2" fill="#aad046" stroke="#aad046"/>
<polygon points="334.4,89.0 339.2,96.6 341.4,94.9 336.7,87.4" fill="#cdaf49" stroke="#cdaf49"/>
<polygon points="473.7,153.3 477.6,153.8 479.7,149.3 475.9,148.9" fill="#3cdac2" stroke="#3cdac2"/>
<polygon points="403.2,161.3 407.3,164.8 409.4,161.7 405.3,158.3" fill="#3cceda" stroke="#3cceda"/>
<polygon points="348.6,110.9 353.3,117.6 355.4,115.7 350.8,109.1" fill="#89d046" stroke="#89d046"/>
<polygon points="377.8,144.7 382.1,149.7 384.2,147.2 379.9,142.3" fill="#3ddca4" stroke="#3ddca4"/>
<polygon points="445.9,164.6 449.8,166.1 451.9,162.1 448.0,160.7" fill="#3ccbdc" stroke="#3ccbdc"/>
<polygon points="413.5,165.0 417.6,168.0 419.7,164.7 415.6,161.7" fill="#3cc9de" stroke="#3cc9de"/>
<polygon points="329.5,81.1 334.4,89.0 336.7,87.4 331.8,79.5" fill="#d48f4c" stroke="#d48f4c"/>
<polygon points="353.3,117.6 357.8,124.1 360.0,122.1 355.4,115.7" fill="#68cb46" stroke="#68cb46"/>
<polygon points="392.7,156.2 397.0,160.3 399.0,157.5 394.8,153.5" fill="#3cd5d2" stroke="#3cd5d2"/>
<polygon points="467.8,156.9 471.6,157.6 473.7,153.3 469.9,152.6" fill="#3cd7cd" stroke="#3cd7cd"/>
<polygon points="357.8,124.1 362.4,130.2 364.5,128.2 360.0,122.1" fill="#51cb4e" stroke="#51cb4e"/>
<polygon points="423.7,167.4 427.7,169.8 429.8,166.3 425.8,163.9" fill="#3dc0e1" stroke="#3dc0e1"/>
<polygon points="439.8,166.8 443.8,168.5 445.9,164.6 441.9,163.0" fill="#3cc6df" stroke="#3cc6df"/>
<polygon points="382.1,149.7 386.4,154.4 388.5,151.8 384.2,147.2" fill="#3cdbbe" stroke="#3cdbbe"/>
<polygon points="362.4,130.2 366.9,136.1 369.0,134.0 364.5,128.2" fill="#48d160" stroke="#48d160"/>
<polygon points="461.8,160.3 465.6,161.2 467.8,156.9 463.9,156.1" fill="#3cd3d6" stroke="#3cd3d6"/>
<polygon points="407.3,164.8 411.5,168.1 413.5,165.0 409.4,161.7" fill="#3ccadd" stroke="#3ccadd"/>
<polygon points="397.0,160.3 401.2,164.2 403.2,161.3 399.0,157.5" fill="#3cd0d8" stroke="#3cd0d8"/>
<polygon points="366.9,136.1 371.3,141.7 373.4,139.5 369.0,134.0" fill="#43d677" stroke="#43d677"/>
<polygon points="433.8,168.5 437.8,170.5 439.8,166.8 435.9,164.8" fill="#3dbee2" stroke="#3dbee2"/>
<polygon points="455.8,163.4 459.7,164.5 461.8,160.3 457.9,159.3" fill="#3ccfda" stroke="#3ccfda"/>
<polygon points="417.6,168.0 421.7,170.8 423.7,167.4 419.7,164.7" fill="#3dbee2" stroke="#3dbee2"/>
<polygon points="386.4,154.4 390.7,158.9 392.7,156.2 388.5,151.8" fill="#3cd8cb" stroke="#3cd8cb"/>
<polygon points="371.3,141.7 375.7,147.1 377.8,144.7 373.4,139.5" fill="#3fdb8f" stroke="#3fdb8f"/>
<polygon points="449.8,166.1 453.7,167.4 455.8,163.4 451.9,162.1" fill="#3ccadc" stroke="#3ccadc"/>
<polygon points="477.6,153.8 481.4,154.2 483.5,149.7 479.7,149.3" fill="#3cdbc0" stroke="#3cdbc0"/>
<polygon points="427.7,169.8 431.7,172.1 433.8,168.5 429.8,166.3" fill="#3eb7e4" stroke="#3eb7e4"/>
<polygon points="401.2,164.2 405.3,167.9 407.3,164.8 403.2,161.3" fill="#3ccbdc" stroke="#3ccbdc"/>
<polygon points="341.8,105.6 346.5,112.7 348.6,110.9 343.9,103.9" fill="#a8d046" stroke="#a8d046"/>
<polygon points="337.0,98.2 341.8,105.6 343.9,103.9 339.2,96.6" fill="#c0c449" stroke="#c0c449"/>
<polygon points="411.5,168.1 415.6,171.2 417.6,168.0 413.5,165.0" fill="#3dbfe1" stroke="#3dbfe1"/>
<polygon points="471.6,157.6 475.4,158.2 477.6,153.8 473.7,153.3" fill="#3cd7cb" stroke="#3cd7cb"/>
<polygon points="443.8,168.5 447.7,170.1 449.8,166.1 445.9,164.6" fill="#3dc3e0" stroke="#3dc3e0"/>
<polygon points="375.7,147.1 380.1,152.2 382.1,149.7 377.8,144.7" fill="#3ddcab" stroke="#3ddcab"/>
<polygon points="346.5,112.7 351.1,119.5 353.3,117.6 348.6,110.9" fill="#86cf46" stroke="#86cf46"/>
<polygon points="332.2,90.6 337.0,98.2 339.2,96.6 334.4,89.0" fill="#cdb049" stroke="#cdb049"/>
<polygon points="390.7,158.9 394.9,163.1 397.0,160.3 392.7,156.2" fill="#3cd4d6" stroke="#3cd4d6"/>
<polygon points="351.1,119.5 355.7,126.1 357.8,124.1 353.3,117.6" fill="#65ca46" stroke="#65ca46"/>
<polygon points="327.3,82.6 332.2,90.6 334.4,89.0 329.5,81.1" fill="#d4914c" stroke="#d4914c"/>
<polygon points="465.6,161.2 469.5,161.9 471.6,157.6 467.8,156.9" fill="#3cd4d6" stroke="#3cd4d6"/>
<polygon points="355.7,126.1 360.3,132.3 362.4,130.2 357.8,124.1" fill="#50cb50" stroke="#50cb50"/>
<polygon points="421.7,170.8 425.7,173.3 427.7,169.8 423.7,167.4" fill="#3fb4e5" stroke="#3fb4e5"/>
<polygon points="437.8,170.5 441.7,172.3 443.8,168.5 439.8,166.8" fill="#3eb9e4" stroke="#3eb9e4"/>
<polygon points="380.1,152.2 384.4,157.0 386.4,154.4 382.1,149.7" fill="#3cdac1" stroke="#3cdac1"/>
<polygon points="360.3,132.3 364.8,138.3 366.9,136.1 362.4,130.2" fill="#47d162" stroke="#47d162"/>
<polygon points="459.7,164.5 463.5,165.4 465.6,161.2 461.8,160.3" fill="#3ccfd9" stroke="#3ccfd9"/>
<polygon points="405.3,167.9 409.5,171.3 411.5,168.1 407.3,164.8" fill="#3dc4e0" stroke="#3dc4e0"/>
<polygon points="394.9,163.1 399.1,167.1 401.2,164.2 397.0,160.3" fill="#3cceda" stroke="#3cceda"/>
<polygon points="364.8,138.3 369.3,144.0 371.3,141.7 366.9,136.1" fill="#42d77b" stroke="#42d77b"/>
<polygon points="431.7,172.1 435.7,174.2 437.8,170.5 433.8,168.5" fill="#3fb1e7" stroke="#3fb1e7"/>
<polygon points="453.7,167.4 457.6,168.6 459.7,164.5 455.8,163.4" fill="#3ccadd" stroke="#3ccadd"/>
<polygon points="415.6,171.2 419.6,174.1 421.7,170.8 417.6,168.0" fill="#3fb3e6" stroke="#3fb3e6"/>
<polygon points="384.4,157.0 388.7,161.6 390.7,158.9 386.4,154.4" fill="#3cd6ce" stroke="#3cd6ce"/>
<polygon points="369.3,144.0 373.7,149.4 375.7,147.1 371.3,141.7" fill="#3edb93" stroke="#3edb93"/>
<polygon points="447.7,170.1 451.6,171.4 453.7,167.4 449.8,166.1" fill="#3dc1e1" stroke="#3dc1e1"/>
<polygon points="425.7,173.3 429.7,175.7 431.7,172.1 427.7,169.8" fill="#40abe9" stroke="#40abe9"/>
<polygon points="475.4,158.2 479.3,158.6 481.4,154.2 477.6,153.8" fill="#3cd8c9" stroke="#3cd8c9"/>
<polygon points="399.1,167.1 403.3,170.9 405.3,167.9 401.2,164.2" fill="#3cc9dd" stroke="#3cc9dd"/>
<polygon points="409.5,171.3 413.6,174.5 415.6,171.2 411.5,168.1" fill="#3fb5e5" stroke="#3fb5e5"/>
<polygon points="441.7,172.3 445.7,174.0 447.7,170.1 443.8,168.5" fill="#3fb5e5" stroke="#3fb5e5"/>
<polygon points="373.7,149.4 378.1,154.6 380.1,152.2 375.7,147.1" fill="#3ddcb1" stroke="#3ddcb1"/>
<polygon points="388.7,161.6 392.9,165.9 394.9,163.1 390.7,158.9" fill="#3cd2d8" stroke="#3cd2d8"/>
<polygon points="469.5,161.9 473.3,162.5 475.4,158.2 471.6,157.6" fill="#3cd5d4" stroke="#3cd5d4"/>
<polygon points="419.6,174.1 423.7,176.8 425.7,173.3 421.7,170.8" fill="#41a8ea" stroke="#41a8ea"/>
<polygon points="463.5,165.4 467.4,166.2 469.5,161.9 465.6,161.2" fill="#3ccfd9" stroke="#3ccfd9"/>
<polygon points="435.7,174.2 439.7,176.1 441.7,172.3 437.8,170.5" fill="#40abe9" stroke="#40abe9"/>
<polygon points="378.1,154.6 382.4,159.5 384.4,157.0 380.1,152.2" fill="#3cd9c5" stroke="#3cd9c5"/>
<polygon points="457.6,168.6 461.5,169.6 463.5,165.4 459.7,164.5" fill="#3ccadc" stroke="#3ccadc"/>
<polygon points="403.3,170.9 407.5,174.4 409.5,171.3 405.3,167.9" fill="#3ebae3" stroke="#3ebae3"/>
<polygon points="392.9,165.9 397.2,170.0 399.1,167.1 394.9,163.1" fill="#3cccdb" stroke="#3cccdb"/>
<polygon points="429.7,175.7 433.7,177.9 435.7,174.2 431.7,172.1" fill="#41a4eb" stroke="#41a4eb"/>
<polygon points="413.6,174.5 417.6,177.4 419.6,174.1 415.6,171.2" fill="#41a8ea" stroke="#41a8ea"/>
<polygon points="451.6,171.4 455.5,172.7 457.6,168.6 453.7,167.4" fill="#3dc1e1" stroke="#3dc1e1"/>
<polygon points="382.4,159.5 386.7,164.2 388.7,161.6 384.4,157.0" fill="#3cd5d2" stroke="#3cd5d2"/>
<polygon points="445.7,174.0 449.6,175.4 451.6,171.4 447.7,170.1" fill="#3fb3e6" stroke="#3fb3e6"/>
<polygon points="423.7,176.8 427.7,179.2 429.7,175.7 425.7,173.3" fill="#409feb" stroke="#409feb"/>
<polygon points="397.2,170.0 401.4,173.8 403.3,170.9 399.1,167.1" fill="#3dc2e0" stroke="#3dc2e0"/>
<polygon points="473.3,162.5 477.2,163.0 479.3,158.6 475.4,158.2" fill="#3cd5d2" stroke="#3cd5d2"/>
<polygon points="407.5,174.4 411.6,177.6 413.6,174.5 409.5,171.3" fill="#40abe9" stroke="#40abe9"/>
<polygon points="439.7,176.1 443.6,177.8 445.7,174.0 441.7,172.3" fill="#41a7ea" stroke="#41a7ea"/>
<polygon points="386.7,164.2 391.0,168.6 392.9,165.9 388.7,161.6" fill="#3cd0d9" stroke="#3cd0d9"/>
<polygon points="467.4,166.2 471.3,166.8 473.3,162.5 469.5,161.9" fill="#3cd0d8" stroke="#3cd0d8"/>
<polygon points="417.6,177.4 421.7,180.2 423.7,176.8 419.6,174.1" fill="#409dea" stroke="#409dea"/>
<polygon points="433.7,177.9 437.7,179.8 439.7,176.1 435.7,174.2" fill="#409eeb" stroke="#409eeb"/>
<polygon points="461.5,169.6 465.3,170.4 467.4,166.2 463.5,165.4" fill="#3ccbdc" stroke="#3ccbdc"/>
<polygon points="401.4,173.8 405.5,177.4 407.5,174.4 403.3,170.9" fill="#3fb1e7" stroke="#3fb1e7"/>
<polygon points="455.5,172.7 459.4,173.7 461.5,169.6 457.6,168.6" fill="#3dc1e1" stroke="#3dc1e1"/>
<polygon points="391.0,168.6 395.2,172.8 397.2,170.0 392.9,165.9" fill="#3cc9dd" stroke="#3cc9dd"/>
<polygon points="427.7,179.2 431.7,181.5 433.7,177.9 429.7,175.7" fill="#3f97ea" stroke="#3f97ea"/>
<polygon points="411.6,177.6 415.7,180.7 417.6,177.4 413.6,174.5" fill="#409dea" stroke="#409dea"/>
<polygon points="449.6,175.4 453.5,176.7 455.5,172.7 451.6,171.4" fill="#3fb2e6" stroke="#3fb2e6"/>
<polygon points="443.6,177.8 447.6,179.3 449.6,175.4 445.7,174.0" fill="#41a5eb" stroke="#41a5eb"/>
<polygon points="421.7,180.2 425.7,182.7 427.7,179.2 423.7,176.8" fill="#3f92ea" stroke="#3f92ea"/>
<polygon points="395.2,172.8 399.4,176.7 401.4,173.8 397.2,170.0" fill="#3ebae3" stroke="#3ebae3"/>
<polygon points="405.5,177.4 409.6,180.8 411.6,177.6 407.5,174.4" fill="#41a1eb" stroke="#41a1eb"/>
<polygon points="471.3,166.8 475.1,167.4 477.2,163.0 473.3,162.5" fill="#3cd1d8" stroke="#3cd1d8"/>
<polygon points="437.7,179.8 441.6,181.6 443.6,177.8 439.7,176.1" fill="#4099ea" stroke="#4099ea"/>
<polygon points="465.3,170.4 469.2,171.1 471.3,166.8 467.4,166.2" fill="#3cccdc" stroke="#3cccdc"/>
<polygon points="415.7,180.7 419.8,183.5 421.7,180.2 417.6,177.4" fill="#3f91ea" stroke="#3f91ea"/>
<polygon points="431.7,181.5 435.7,183.5 437.7,179.8 433.7,177.9" fill="#3f90ea" stroke="#3f90ea"/>
<polygon points="459.4,173.7 463.3,174.6 465.3,170.4 461.5,169.6" fill="#3dc3e0" stroke="#3dc3e0"/>
<polygon points="399.4,176.7 403.6,180.4 405.5,177.4 401.4,173.8" fill="#41a8ea" stroke="#41a8ea"/>
<polygon points="453.5,176.7 457.4,177.8 459.4,173.7 455.5,172.7" fill="#3fb2e6" stroke="#3fb2e6"/>
<polygon points="425.7,182.7 429.8,185.0 431.7,181.5 427.7,179.2" fill="#3e8ae9" stroke="#3e8ae9"/>
<polygon points="409.6,180.8 413.8,183.9 415.7,180.7 411.6,177.6" fill="#3f92ea" stroke="#3f92ea"/>
<polygon points="447.6,179.3 451.5,180.7 453.5,176.7 449.6,175.4" fill="#41a3eb" stroke="#41a3eb"/>
<polygon points="419.8,183.5 423.8,186.1 425.7,182.7 421.7,180.2" fill="#3e86e9" stroke="#3e86e9"/>
<polygon points="441.6,181.6 445.6,183.2 447.6,179.3 443.6,177.8" fill="#3f96ea" stroke="#3f96ea"/>
<polygon points="403.6,180.4 407.7,183.9 409.6,180.8 405.5,177.4" fill="#3f97ea" stroke="#3f97ea"/>
<polygon points="435.7,183.5 439.7,185.4 441.6,181.6 437.7,179.8" fill="#3e8be9" stroke="#3e8be9"/>
<polygon points="469.2,171.1 473.0,171.7 475.1,167.4 471.3,166.8" fill="#3ccddb" stroke="#3ccddb"/>
<polygon points="413.8,183.9 417.8,186.8 419.8,183.5 415.7,180.7" fill="#3d85e9" stroke="#3d85e9"/>
<polygon points="463.3,174.6 467.2,175.3 469.2,171.1 465.3,170.4" fill="#3cc5df" stroke="#3cc5df"/>
<polygon points="429.8,185.0 433.8,187.1 435.7,183.5 431.7,181.5" fill="#3d83e9" stroke="#3d83e9"/>
<polygon points="457.4,177.8 461.3,178.7 463.3,174.6 459.4,173.7" fill="#3fb3e6" stroke="#3fb3e6"/>
<polygon points="451.5,180.7 455.4,181.8 457.4,177.8 453.5,176.7" fill="#41a3eb" stroke="#41a3eb"/>
<polygon points="407.7,183.9 411.9,187.1 413.8,183.9 409.6,180.8" fill="#3e88e9" stroke="#3e88e9"/>
<polygon points="423.8,186.1 427.8,188.5 429.8,185.0 425.7,182.7" fill="#3d7de8" stroke="#3d7de8"/>
<polygon points="445.6,183.2 449.5,184.6 451.5,180.7 447.6,179.3" fill="#3f94ea" stroke="#3f94ea"/>
<polygon points="417.8,186.8 421.9,189.5 423.8,186.1 419.8,183.5" fill="#3c7ae8" stroke="#3c7ae8"/>
<polygon points="439.7,185.4 443.6,187.0 445.6,183.2 441.6,181.6" fill="#3e87e9" stroke="#3e87e9"/>
<polygon points="433.8,187.1 437.7,189.1 439.7,185.4 435.7,183.5" fill="#3d7de8" stroke="#3d7de8"/>
<polygon points="411.9,187.1 415.9,190.1 417.8,186.8 413.8,183.9" fill="#3c7ae8" stroke="#3c7ae8"/>
<polygon points="467.2,175.3 471.0,175.9 473.0,171.7 469.2,171.1" fill="#3cc8de" stroke="#3cc8de"/>
<polygon points="427.8,188.5 431.8,190.7 433.8,187.1 429.8,185.0" fill="#3d76e8" stroke="#3d76e8"/>
<polygon points="461.3,178.7 465.1,179.5 467.2,175.3 463.3,174.6" fill="#3fb6e5" stroke="#3fb6e5"/>
<polygon points="455.4,181.8 459.3,182.8 461.3,178.7 457.4,177.8" fill="#41a4eb" stroke="#41a4eb"/>
<polygon points="421.9,189.5 425.9,192.0 427.8,188.5 423.8,186.1" fill="#3f72e8" stroke="#3f72e8"/>
<polygon points="449.5,184.6 453.4,185.8 455.4,181.8 451.5,180.7" fill="#3f94ea" stroke="#3f94ea"/>
<polygon points="443.6,187.0 447.6,188.5 449.5,184.6 445.6,183.2" fill="#3d85e9" stroke="#3d85e9"/>
<polygon points="415.9,190.1 420.0,192.8 421.9,189.5 417.8,186.8" fill="#4070e8" stroke="#4070e8"/>
<polygon points="437.7,189.1 441.7,190.8 443.6,187.0 439.7,185.4" fill="#3c79e8" stroke="#3c79e8"/>
<polygon points="431.8,190.7 435.8,192.7 437.7,189.1 433.8,187.1" fill="#3f71e8" stroke="#3f71e8"/>
<polygon points="425.9,192.0 429.9,194.2 431.8,190.7 427.8,188.5" fill="#426be7" stroke="#426be7"/>
<polygon points="465.1,179.5 469.0,180.1 471.0,175.9 467.2,175.3" fill="#3eb9e3" stroke="#3eb9e3"/>
<polygon points="459.3,182.8 463.2,183.6 465.1,179.5 461.3,178.7" fill="#41a7ea" stroke="#41a7ea"/>
<polygon points="453.4,185.8 457.3,186.8 459.3,182.8 455.4,181.8" fill="#3f95ea" stroke="#3f95ea"/>
<polygon points="420.0,192.8 424.1,195.4 425.9,192.0 421.9,189.5" fill="#4467e7" stroke="#4467e7"/>
<polygon points="447.6,188.5 451.5,189.7 453.4,185.8 449.5,184.6" fill="#3d84e9" stroke="#3d84e9"/>
<polygon points="441.7,190.8 445.6,192.3 447.6,188.5 443.6,187.0" fill="#3d77e8" stroke="#3d77e8"/>
<polygon points="435.8,192.7 439.8,194.5 441.7,190.8 437.7,189.1" fill="#416de8" stroke="#416de8"/>
<polygon points="429.9,194.2 433.9,196.3 435.8,192.7 431.8,190.7" fill="#4465e7" stroke="#4465e7"/>
<polygon points="424.1,195.4 428.1,197.7 429.9,194.2 425.9,192.0" fill="#4760e7" stroke="#4760e7"/>
<polygon points="463.2,183.6 467.0,184.3 469.0,180.1 465.1,179.5" fill="#40aae9" stroke="#40aae9"/>
<polygon points="457.3,186.8 461.2,187.7 463.2,183.6 459.3,182.8" fill="#3f97ea" stroke="#3f97ea"/>
<polygon points="451.5,189.7 455.4,190.8 457.3,186.8 453.4,185.8" fill="#3d85e9" stroke="#3d85e9"/>
<polygon points="445.6,192.3 449.6,193.6 451.5,189.7 447.6,188.5" fill="#3d76e8" stroke="#3d76e8"/>
<polygon points="439.8,194.5 443.7,196.0 445.6,192.3 441.7,190.8" fill="#426be7" stroke="#426be7"/>
<polygon points="433.9,196.3 437.9,198.1 439.8,194.5 435.8,192.7" fill="#4661e7" stroke="#4661e7"/>
<polygon points="428.1,197.7 432.1,199.8 433.9,196.3 429.9,194.2" fill="#495ae7" stroke="#495ae7"/>
<polygon points="461.2,187.7 465.1,188.4 467.0,184.3 463.2,183.6" fill="#409aea" stroke="#409aea"/>
<polygon points="455.4,190.8 459.3,191.7 461.2,187.7 457.3,186.8" fill="#3e87e9" stroke="#3e87e9"/>
<polygon points="449.6,193.6 453.5,194.7 455.4,190.8 451.5,189.7" fill="#3d76e8" stroke="#3d76e8"/>
<polygon points="443.7,196.0 447.7,197.4 449.6,193.6 445.6,192.3" fill="#426ae7" stroke="#426ae7"/>
<polygon points="437.9,198.1 441.9,199.7 443.7,196.0 439.8,194.5" fill="#475fe7" stroke="#475fe7"/>
<polygon points="432.1,199.8 436.1,201.7 437.9,198.1 433.9,196.3" fill="#4b56e6" stroke="#4b56e6"/>
<polygon points="459.3,191.7 463.2,192.4 465.1,188.4 461.2,187.7" fill="#3e8ae9" stroke="#3e8ae9"/>
<polygon points="453.5,194.7 457.4,195.7 459.3,191.7 455.4,190.8" fill="#3c78e8" stroke="#3c78e8"/>
<polygon points="447.7,197.4 451.6,198.6 453.5,194.7 449.6,193.6" fill="#426ae7" stroke="#426ae7"/>
<polygon points="441.9,199.7 445.8,201.2 447.7,197.4 443.7,196.0" fill="#485de7" stroke="#485de7"/>
<polygon points="436.1,201.7 440.0,203.4 441.9,199.7 437.9,198.1" fill="#4c53e6" stroke="#4c53e6"/>
<polygon points="457.4,195.7 461.3,196.4 463.2,192.4 459.3,191.7" fill="#3c7be8" stroke="#3c7be8"/>
<polygon points="451.6,198.6 455.5,199.6 457.4,195.7 453.5,194.7" fill="#426be7" stroke="#426be7"/>
<polygon points="445.8,201.2 449.7,202.4 451.6,198.6 447.7,197.4" fill="#485de7" stroke="#485de7"/>
<polygon points="440.0,203.4 444.0,204.9 445.8,201.2 441.9,199.7" fill="#4d51e6" stroke="#4d51e6"/>
<polygon points="455.5,199.6 459.4,200.4 461.3,196.4 457.4,195.7" fill="#416ee8" stroke="#416ee8"/>
<polygon points="449.7,202.4 453.7,203.4 455.5,199.6 451.6,198.6" fill="#475ee7" stroke="#475ee7"/>
<polygon points="444.0,204.9 447.9,206.1 449.7,202.4 445.8,201.2" fill="#4d51e6" stroke="#4d51e6"/>
<polygon points="447.9,206.1 451.8,207.2 453.7,203.4 449.7,202.4" fill="#4d52e6" stroke="#4d52e6"/>
<polygon points="453.7,203.4 457.6,204.2 459.4,200.4 455.5,199.6" fill="#4661e7" stroke="#4661e7"/>
<polygon points="451.8,207.2 455.7,208.1 457.6,204.2 453.7,203.4" fill="#4c54e6" stroke="#4c54e6"/>
</g>
<g fill="none" stroke="#000" stroke-opacity="0.26" stroke-width="0.5">
<polyline points="327.3,82.6 329.5,81.1 331.8,79.5 334.1,77.9 336.5,76.3 338.9,74.7 341.3,73.1 343.7,71.4 346.2,69.8 348.7,68.1 351.2,66.4 353.7,64.6 356.3,62.9 358.9,61.2 361.4,59.4 364.1,57.6 366.7,55.8 369.3,54.0 372.0,52.2 374.7,50.4 377.4,48.5 380.1,46.7 382.8,44.8 385.5,43.0 388.3,41.1 391.0,39.2 393.8,37.3 396.5,35.5 399.3,33.6 402.0,31.7 404.8,29.8"/>
<polyline points="327.3,82.6 332.2,90.6 337.0,98.2 341.8,105.6 346.5,112.7 351.1,119.5 355.7,126.1 360.3,132.3 364.8,138.3 369.3,144.0 373.7,149.4 378.1,154.6 382.4,159.5 386.7,164.2 391.0,168.6 395.2,172.8 399.4,176.7 403.6,180.4 407.7,183.9 411.9,187.1 415.9,190.1 420.0,192.8 424.1,195.4 428.1,197.7 432.1,199.8 436.1,201.7 440.0,203.4 444.0,204.9 447.9,206.1 451.8,207.2 455.7,208.1"/>
<polyline points="332.2,90.6 334.4,89.0 336.7,87.4 339.0,85.7 341.3,84.1 343.6,82.4 346.0,80.7 348.4,79.0 350.9,77.3 353.3,75.5 355.8,73.8 358.3,72.0 360.9,70.2 363.4,68.4 366.0,66.5 368.6,64.7 371.2,62.8 373.8,61.0 376.4,59.1 379.1,57.2 381.7,55.3 384.4,53.4 387.1,51.5 389.8,49.5 392.5,47.6 395.2,45.6 398.0,43.7 400.7,41.7 403.4,39.8 406.2,37.8 408.9,35.9"/>
<polyline points="329.5,81.1 334.4,89.0 339.2,96.6 343.9,103.9 348.6,110.9 353.3,117.6 357.8,124.1 362.4,130.2 366.9,136.1 371.3,141.7 375.7,147.1 380.1,152.2 384.4,157.0 388.7,161.6 392.9,165.9 397.2,170.0 401.4,173.8 405.5,177.4 409.6,180.8 413.8,183.9 417.8,186.8 421.9,189.5 425.9,192.0 429.9,194.2 433.9,196.3 437.9,198.1 441.9,199.7 445.8,201.2 449.7,202.4 453.7,203.4 457.6,204.2"/>
<polyline points="337.0,98.2 339.2,96.6 341.4,94.9 343.7,93.2 346.0,91.5 348.3,89.8 350.7,88.0 353.1,86.2 355.5,84.4 357.9,82.6 360.4,80.8 362.9,78.9 365.4,77.0 367.9,75.1 370.4,73.2 373.0,71.3 375.6,69.4 378.2,67.4 380.8,65.5 383.4,63.5 386.1,61.5 388.7,59.6 391.4,57.6 394.1,55.6 396.7,53.5 399.4,51.5 402.1,49.5 404.8,47.5 407.5,45.4 410.3,43.4 413.0,41.4"/>
<polyline points="331.8,79.5 336.7,87.4 341.4,94.9 346.2,102.2 350.8,109.1 355.4,115.7 360.0,122.1 364.5,128.2 369.0,134.0 373.4,139.5 377.8,144.7 382.1,149.7 386.4,154.4 390.7,158.9 394.9,163.1 399.1,167.1 403.3,170.9 407.5,174.4 411.6,177.6 415.7,180.7 419.8,183.5 423.8,186.1 427.8,188.5 431.8,190.7 435.8,192.7 439.8,194.5 443.7,196.0 447.7,197.4 451.6,198.6 455.5,199.6 459.4,200.4"/>
<polyline points="341.8,105.6 343.9,103.9 346.2,102.2 348.4,100.4 350.7,98.6 353.0,96.8 355.3,94.9 357.7,93.1 360.1,91.2 362.5,89.3 364.9,87.4 367.4,85.5 369.8,83.5 372.3,81.5 374.9,79.5 377.4,77.5 380.0,75.5 382.5,73.5 385.1,71.5 387.7,69.4 390.3,67.3 393.0,65.3 395.6,63.2 398.3,61.1 400.9,59.0 403.6,56.9 406.2,54.8 408.9,52.7 411.6,50.6 414.3,48.4 417.0,46.3"/>
<polyline points="334.1,77.9 339.0,85.7 343.7,93.2 348.4,100.4 353.0,107.3 357.6,113.8 362.2,120.1 366.7,126.0 371.1,131.7 375.5,137.2 379.9,142.3 384.2,147.2 388.5,151.8 392.7,156.2 397.0,160.3 401.2,164.2 405.3,167.9 409.5,171.3 413.6,174.5 417.6,177.4 421.7,180.2 425.7,182.7 429.8,185.0 433.8,187.1 437.7,189.1 441.7,190.8 445.6,192.3 449.6,193.6 453.5,194.7 457.4,195.7 461.3,196.4"/>
<polyline points="346.5,112.7 348.6,110.9 350.8,109.1 353.0,107.3 355.3,105.4 357.6,103.5 359.9,101.6 362.2,99.6 364.6,97.7 367.0,95.7 369.4,93.7 371.8,91.6 374.3,89.6 376.7,87.5 379.2,85.5 381.8,83.4 384.3,81.3 386.8,79.1 389.4,77.0 392.0,74.9 394.6,72.7 397.2,70.6 399.8,68.4 402.4,66.2 405.0,64.0 407.7,61.8 410.3,59.6 413.0,57.4 415.7,55.2 418.3,53.0 421.0,50.7"/>
<polyline points="336.5,76.3 341.3,84.1 346.0,91.5 350.7,98.6 355.3,105.4 359.9,111.9 364.4,118.0 368.8,123.9 373.3,129.5 377.7,134.8 382.0,139.9 386.3,144.6 390.6,149.2 394.8,153.5 399.0,157.5 403.2,161.3 407.3,164.8 411.5,168.1 415.6,171.2 419.6,174.1 423.7,176.8 427.7,179.2 431.7,181.5 435.7,183.5 439.7,185.4 443.6,187.0 447.6,188.5 451.5,189.7 455.4,190.8 459.3,191.7 463.2,192.4"/>
<polyline points="351.1,119.5 353.3,117.6 355.4,115.7 357.6,113.8 359.9,111.9 362.1,109.9 364.4,107.9 366.7,105.8 369.1,103.8 371.4,101.7 373.8,99.6 376.2,97.5 378.6,95.3 381.1,93.2 383.6,91.0 386.1,88.8 388.6,86.6 391.1,84.4 393.6,82.2 396.2,79.9 398.8,77.7 401.3,75.4 403.9,73.1 406.5,70.9 409.1,68.6 411.8,66.3 414.4,64.0 417.0,61.7 419.7,59.3 422.3,57.0 425.0,54.7"/>
<polyline points="338.9,74.7 343.6,82.4 348.3,89.8 353.0,96.8 357.6,103.5 362.1,109.9 366.6,115.9 371.1,121.7 375.5,127.2 379.8,132.4 384.2,137.4 388.4,142.1 392.7,146.5 396.9,150.7 401.1,154.6 405.3,158.3 409.4,161.7 413.5,165.0 417.6,168.0 421.7,170.8 425.7,173.3 429.7,175.7 433.7,177.9 437.7,179.8 441.6,181.6 445.6,183.2 449.5,184.6 453.4,185.8 457.3,186.8 461.2,187.7 465.1,188.4"/>
<polyline points="355.7,126.1 357.8,124.1 360.0,122.1 362.2,120.1 364.4,118.0 366.6,115.9 368.9,113.8 371.2,111.7 373.5,109.6 375.8,107.4 378.2,105.2 380.6,103.0 383.0,100.7 385.4,98.5 387.9,96.2 390.3,93.9 392.8,91.6 395.3,89.3 397.8,87.0 400.4,84.6 402.9,82.3 405.5,79.9 408.0,77.5 410.6,75.1 413.2,72.7 415.8,70.3 418.4,67.9 421.0,65.5 423.7,63.1 426.3,60.6 428.9,58.2"/>
<polyline points="341.3,73.1 346.0,80.7 350.7,88.0 355.3,94.9 359.9,101.6 364.4,107.9 368.9,113.8 373.3,119.5 377.7,124.9 382.0,130.0 386.3,134.9 390.6,139.5 394.8,143.8 399.0,147.9 403.2,151.7 407.4,155.3 411.5,158.6 415.6,161.7 419.7,164.7 423.7,167.4 427.7,169.8 431.7,172.1 435.7,174.2 439.7,176.1 443.6,177.8 447.6,179.3 451.5,180.7 455.4,181.8 459.3,182.8 463.2,183.6 467.0,184.3"/>
<polyline points="360.3,132.3 362.4,130.2 364.5,128.2 366.7,126.0 368.8,123.9 371.1,121.7 373.3,119.5 375.6,117.3 377.9,115.1 380.2,112.8 382.5,110.5 384.9,108.2 387.3,105.8 389.7,103.5 392.1,101.1 394.6,98.7 397.0,96.3 399.5,93.9 402.0,91.4 404.5,89.0 407.0,86.5 409.6,84.0 412.1,81.5 414.7,79.0 417.3,76.5 419.8,74.0 422.4,71.5 425.0,68.9 427.6,66.4 430.2,63.9 432.8,61.3"/>
<polyline points="343.7,71.4 348.4,79.0 353.1,86.2 357.7,93.1 362.2,99.6 366.7,105.8 371.2,111.7 375.6,117.3 379.9,122.6 384.3,127.6 388.5,132.4 392.8,136.8 397.0,141.0 401.2,145.0 405.4,148.7 409.5,152.2 413.6,155.5 417.7,158.5 421.7,161.3 425.8,163.9 429.8,166.3 433.8,168.5 437.8,170.5 441.7,172.3 445.7,174.0 449.6,175.4 453.5,176.7 457.4,177.8 461.3,178.7 465.1,179.5 469.0,180.1"/>
<polyline points="364.8,138.3 366.9,136.1 369.0,134.0 371.1,131.7 373.3,129.5 375.5,127.2 377.7,124.9 379.9,122.6 382.2,120.2 384.5,117.9 386.8,115.5 389.2,113.0 391.5,110.6 393.9,108.1 396.3,105.6 398.8,103.1 401.2,100.6 403.7,98.1 406.1,95.5 408.6,93.0 411.1,90.4 413.6,87.8 416.2,85.2 418.7,82.6 421.3,79.9 423.8,77.3 426.4,74.7 429.0,72.0 431.6,69.4 434.1,66.7 436.7,64.0"/>
<polyline points="346.2,69.8 350.9,77.3 355.5,84.4 360.1,91.2 364.6,97.7 369.1,103.8 373.5,109.6 377.9,115.1 382.2,120.2 386.5,125.2 390.8,129.8 395.0,134.2 399.2,138.3 403.4,142.1 407.5,145.7 411.6,149.1 415.7,152.3 419.8,155.2 423.9,157.9 427.9,160.4 431.9,162.7 435.9,164.8 439.8,166.8 443.8,168.5 447.7,170.1 451.6,171.4 455.5,172.7 459.4,173.7 463.3,174.6 467.2,175.3 471.0,175.9"/>
<polyline points="369.3,144.0 371.3,141.7 373.4,139.5 375.5,137.2 377.7,134.8 379.8,132.4 382.0,130.0 384.3,127.6 386.5,125.2 388.8,122.7 391.1,120.2 393.4,117.6 395.8,115.1 398.1,112.5 400.5,109.9 402.9,107.3 405.3,104.7 407.8,102.0 410.2,99.3 412.7,96.6 415.2,93.9 417.7,91.2 420.2,88.5 422.7,85.8 425.3,83.0 427.8,80.3 430.4,77.5 432.9,74.7 435.5,72.0 438.0,69.2 440.6,66.4"/>
<polyline points="348.7,68.1 353.3,75.5 357.9,82.6 362.5,89.3 367.0,95.7 371.4,101.7 375.8,107.4 380.2,112.8 384.5,117.9 388.8,122.7 393.0,127.2 397.3,131.5 401.4,135.5 405.6,139.2 409.7,142.7 413.8,146.0 417.9,149.0 422.0,151.9 426.0,154.5 430.0,156.9 434.0,159.1 438.0,161.1 441.9,163.0 445.9,164.6 449.8,166.1 453.7,167.4 457.6,168.6 461.5,169.6 465.3,170.4 469.2,171.1 473.0,171.7"/>
<polyline points="373.7,149.4 375.7,147.1 377.8,144.7 379.9,142.3 382.0,139.9 384.2,137.4 386.3,134.9 388.5,132.4 390.8,129.8 393.0,127.2 395.3,124.6 397.6,121.9 400.0,119.3 402.3,116.6 404.7,113.9 407.1,111.1 409.5,108.4 411.9,105.6 414.3,102.8 416.8,100.0 419.2,97.2 421.7,94.4 424.2,91.5 426.7,88.7 429.2,85.8 431.8,82.9 434.3,80.1 436.8,77.2 439.4,74.3 441.9,71.4 444.5,68.4"/>
<polyline points="351.2,66.4 355.8,73.8 360.4,80.8 364.9,87.4 369.4,93.7 373.8,99.6 378.2,105.2 382.5,110.5 386.8,115.5 391.1,120.2 395.3,124.6 399.5,128.7 403.7,132.6 407.8,136.3 411.9,139.7 416.0,142.8 420.1,145.8 424.1,148.5 428.2,151.0 432.2,153.3 436.1,155.4 440.1,157.4 444.0,159.1 448.0,160.7 451.9,162.1 455.8,163.4 459.7,164.5 463.5,165.4 467.4,166.2 471.3,166.8 475.1,167.4"/>
<polyline points="378.1,154.6 380.1,152.2 382.1,149.7 384.2,147.2 386.3,144.6 388.4,142.1 390.6,139.5 392.8,136.8 395.0,134.2 397.3,131.5 399.5,128.7 401.8,126.0 404.1,123.2 406.4,120.4 408.8,117.6 411.2,114.7 413.6,111.9 416.0,109.0 418.4,106.1 420.8,103.1 423.3,100.2 425.7,97.3 428.2,94.3 430.7,91.3 433.2,88.3 435.7,85.3 438.2,82.3 440.7,79.3 443.3,76.3 445.8,73.2 448.4,70.2"/>
<polyline points="353.7,64.6 358.3,72.0 362.9,78.9 367.4,85.5 371.8,91.6 376.2,97.5 380.6,103.0 384.9,108.2 389.2,113.0 393.4,117.6 397.6,121.9 401.8,126.0 406.0,129.8 410.1,133.3 414.2,136.6 418.3,139.6 422.3,142.5 426.3,145.1 430.3,147.5 434.3,149.7 438.3,151.7 442.2,153.6 446.2,155.3 450.1,156.8 454.0,158.1 457.9,159.3 461.8,160.3 465.6,161.2 469.5,161.9 473.3,162.5 477.2,163.0"/>
<polyline points="382.4,159.5 384.4,157.0 386.4,154.4 388.5,151.8 390.6,149.2 392.7,146.5 394.8,143.8 397.0,141.0 399.2,138.3 401.4,135.5 403.7,132.6 406.0,129.8 408.3,126.9 410.6,123.9 412.9,121.0 415.2,118.0 417.6,115.1 420.0,112.1 422.4,109.0 424.8,106.0 427.3,102.9 429.7,99.9 432.2,96.8 434.6,93.7 437.1,90.6 439.6,87.4 442.1,84.3 444.6,81.2 447.1,78.0 449.7,74.8 452.2,71.7"/>
<polyline points="356.3,62.9 360.9,70.2 365.4,77.0 369.8,83.5 374.3,89.6 378.6,95.3 383.0,100.7 387.3,105.8 391.5,110.6 395.8,115.1 400.0,119.3 404.1,123.2 408.3,126.9 412.4,130.3 416.4,133.5 420.5,136.4 424.5,139.1 428.5,141.6 432.5,144.0 436.5,146.1 440.5,148.0 444.4,149.8 448.3,151.4 452.3,152.8 456.2,154.0 460.0,155.1 463.9,156.1 467.8,156.9 471.6,157.6 475.4,158.2 479.3,158.6"/>
<polyline points="386.7,164.2 388.7,161.6 390.7,158.9 392.7,156.2 394.8,153.5 396.9,150.7 399.0,147.9 401.2,145.0 403.4,142.1 405.6,139.2 407.8,136.3 410.1,133.3 412.4,130.3 414.7,127.2 417.0,124.2 419.3,121.1 421.7,118.0 424.0,114.9 426.4,111.7 428.8,108.6 431.2,105.4 433.7,102.2 436.1,99.0 438.6,95.8 441.0,92.5 443.5,89.3 446.0,86.0 448.5,82.8 451.0,79.5 453.5,76.2 456.0,72.9"/>
<polyline points="358.9,61.2 363.4,68.4 367.9,75.1 372.3,81.5 376.7,87.5 381.1,93.2 385.4,98.5 389.7,103.5 393.9,108.1 398.1,112.5 402.3,116.6 406.4,120.4 410.6,123.9 414.7,127.2 418.7,130.3 422.8,133.1 426.8,135.8 430.8,138.2 434.8,140.4 438.7,142.4 442.7,144.2 446.6,145.9 450.5,147.4 454.4,148.7 458.3,149.9 462.2,151.0 466.1,151.9 469.9,152.6 473.7,153.3 477.6,153.8 481.4,154.2"/>
<polyline points="391.0,168.6 392.9,165.9 394.9,163.1 397.0,160.3 399.0,157.5 401.1,154.6 403.2,151.7 405.4,148.7 407.5,145.7 409.7,142.7 411.9,139.7 414.2,136.6 416.4,133.5 418.7,130.3 421.0,127.1 423.3,123.9 425.7,120.7 428.0,117.5 430.4,114.2 432.8,111.0 435.2,107.7 437.6,104.3 440.1,101.0 442.5,97.7 445.0,94.3 447.4,90.9 449.9,87.5 452.4,84.1 454.9,80.7 457.4,77.3 459.9,73.9"/>
<polyline points="361.4,59.4 366.0,66.5 370.4,73.2 374.9,79.5 379.2,85.5 383.6,91.0 387.9,96.2 392.1,101.1 396.3,105.6 400.5,109.9 404.7,113.9 408.8,117.6 412.9,121.0 417.0,124.2 421.0,127.1 425.1,129.9 429.1,132.4 433.0,134.7 437.0,136.8 441.0,138.7 444.9,140.4 448.8,142.0 452.7,143.4 456.6,144.7 460.5,145.8 464.4,146.7 468.2,147.6 472.1,148.3 475.9,148.9 479.7,149.3 483.5,149.7"/>
<polyline points="395.2,172.8 397.2,170.0 399.1,167.1 401.2,164.2 403.2,161.3 405.3,158.3 407.4,155.3 409.5,152.2 411.6,149.1 413.8,146.0 416.0,142.8 418.3,139.6 420.5,136.4 422.8,133.1 425.1,129.9 427.4,126.6 429.7,123.2 432.0,119.9 434.4,116.5 436.8,113.1 439.1,109.7 441.6,106.2 444.0,102.8 446.4,99.3 448.8,95.8 451.3,92.3 453.8,88.8 456.2,85.3 458.7,81.8 461.2,78.3 463.7,74.7"/>
<polyline points="364.1,57.6 368.6,64.7 373.0,71.3 377.4,77.5 381.8,83.4 386.1,88.8 390.3,93.9 394.6,98.7 398.8,103.1 402.9,107.3 407.1,111.1 411.2,114.7 415.2,118.0 419.3,121.1 423.3,123.9 427.4,126.6 431.4,129.0 435.3,131.2 439.3,133.2 443.2,135.0 447.2,136.6 451.1,138.1 455.0,139.4 458.9,140.6 462.7,141.6 466.6,142.5 470.4,143.3 474.3,143.9 478.1,144.4 481.9,144.9 485.7,145.2"/>
<polyline points="399.4,176.7 401.4,173.8 403.3,170.9 405.3,167.9 407.3,164.8 409.4,161.7 411.5,158.6 413.6,155.5 415.7,152.3 417.9,149.0 420.1,145.8 422.3,142.5 424.5,139.1 426.8,135.8 429.1,132.4 431.4,129.0 433.7,125.5 436.0,122.0 438.3,118.6 440.7,115.0 443.1,111.5 445.5,108.0 447.9,104.4 450.3,100.8 452.7,97.2 455.2,93.6 457.6,89.9 460.1,86.3 462.5,82.7 465.0,79.0 467.5,75.3"/>
<polyline points="366.7,55.8 371.2,62.8 375.6,69.4 380.0,75.5 384.3,81.3 388.6,86.6 392.8,91.6 397.0,96.3 401.2,100.6 405.3,104.7 409.5,108.4 413.6,111.9 417.6,115.1 421.7,118.0 425.7,120.7 429.7,123.2 433.7,125.5 437.6,127.6 441.6,129.5 445.5,131.2 449.4,132.7 453.3,134.1 457.2,135.4 461.1,136.4 465.0,137.4 468.8,138.2 472.6,138.9 476.5,139.5 480.3,140.0 484.1,140.4 487.9,140.6"/>
<polyline points="403.6,180.4 405.5,177.4 407.5,174.4 409.5,171.3 411.5,168.1 413.5,165.0 415.6,161.7 417.7,158.5 419.8,155.2 422.0,151.9 424.1,148.5 426.3,145.1 428.5,141.6 430.8,138.2 433.0,134.7 435.3,131.2 437.6,127.6 439.9,124.0 442.3,120.4 444.6,116.8 447.0,113.1 449.4,109.5 451.8,105.8 454.2,102.1 456.6,98.4 459.0,94.6 461.5,90.9 463.9,87.1 466.4,83.3 468.8,79.6 471.3,75.8"/>
<polyline points="369.3,54.0 373.8,61.0 378.2,67.4 382.5,73.5 386.8,79.1 391.1,84.4 395.3,89.3 399.5,93.9 403.7,98.1 407.8,102.0 411.9,105.6 416.0,109.0 420.0,112.1 424.0,114.9 428.0,117.5 432.0,119.9 436.0,122.0 439.9,124.0 443.9,125.8 447.8,127.4 451.7,128.9 455.6,130.1 459.5,131.3 463.3,132.3 467.2,133.1 471.0,133.9 474.9,134.5 478.7,135.1 482.5,135.5 486.3,135.8 490.1,136.1"/>
<polyline points="407.7,183.9 409.6,180.8 411.6,177.6 413.6,174.5 415.6,171.2 417.6,168.0 419.7,164.7 421.7,161.3 423.9,157.9 426.0,154.5 428.2,151.0 430.3,147.5 432.5,144.0 434.8,140.4 437.0,136.8 439.3,133.2 441.6,129.5 443.9,125.8 446.2,122.1 448.5,118.4 450.9,114.6 453.3,110.8 455.6,107.0 458.0,103.2 460.5,99.4 462.9,95.5 465.3,91.7 467.7,87.8 470.2,83.9 472.6,80.0 475.1,76.1"/>
<polyline points="372.0,52.2 376.4,59.1 380.8,65.5 385.1,71.5 389.4,77.0 393.6,82.2 397.8,87.0 402.0,91.4 406.1,95.5 410.2,99.3 414.3,102.8 418.4,106.1 422.4,109.0 426.4,111.7 430.4,114.2 434.4,116.5 438.3,118.6 442.3,120.4 446.2,122.1 450.1,123.6 454.0,124.9 457.9,126.1 461.8,127.2 465.6,128.1 469.5,128.9 473.3,129.5 477.1,130.1 480.9,130.6 484.7,130.9 488.5,131.2 492.3,131.4"/>
<polyline points="411.9,187.1 413.8,183.9 415.7,180.7 417.6,177.4 419.6,174.1 421.7,170.8 423.7,167.4 425.8,163.9 427.9,160.4 430.0,156.9 432.2,153.3 434.3,149.7 436.5,146.1 438.7,142.4 441.0,138.7 443.2,135.0 445.5,131.2 447.8,127.4 450.1,123.6 452.4,119.7 454.8,115.9 457.1,112.0 459.5,108.1 461.9,104.2 464.3,100.2 466.7,96.3 469.1,92.3 471.6,88.3 474.0,84.3 476.4,80.3 478.9,76.3"/>
<polyline points="374.7,50.4 379.1,57.2 383.4,63.5 387.7,69.4 392.0,74.9 396.2,79.9 400.4,84.6 404.5,89.0 408.6,93.0 412.7,96.6 416.8,100.0 420.8,103.1 424.8,106.0 428.8,108.6 432.8,111.0 436.8,113.1 440.7,115.0 444.6,116.8 448.5,118.4 452.4,119.7 456.3,121.0 460.2,122.1 464.1,123.0 467.9,123.9 471.7,124.6 475.6,125.2 479.4,125.7 483.2,126.1 487.0,126.4 490.7,126.6 494.5,126.8"/>
<polyline points="415.9,190.1 417.8,186.8 419.8,183.5 421.7,180.2 423.7,176.8 425.7,173.3 427.7,169.8 429.8,166.3 431.9,162.7 434.0,159.1 436.1,155.4 438.3,151.7 440.5,148.0 442.7,144.2 444.9,140.4 447.2,136.6 449.4,132.7 451.7,128.9 454.0,124.9 456.3,121.0 458.7,117.0 461.0,113.0 463.4,109.0 465.7,105.0 468.1,100.9 470.5,96.9 472.9,92.8 475.4,88.7 477.8,84.6 480.2,80.5 482.7,76.3"/>
<polyline points="377.4,48.5 381.7,55.3 386.1,61.5 390.3,67.3 394.6,72.7 398.8,77.7 402.9,82.3 407.0,86.5 411.1,90.4 415.2,93.9 419.2,97.2 423.3,100.2 427.3,102.9 431.2,105.4 435.2,107.7 439.1,109.7 443.1,111.5 447.0,113.1 450.9,114.6 454.8,115.9 458.7,117.0 462.5,118.0 466.4,118.9 470.2,119.6 474.0,120.2 477.9,120.8 481.7,121.2 485.4,121.5 489.2,121.8 493.0,122.0 496.7,122.1"/>
<polyline points="420.0,192.8 421.9,189.5 423.8,186.1 425.7,182.7 427.7,179.2 429.7,175.7 431.7,172.1 433.8,168.5 435.9,164.8 438.0,161.1 440.1,157.4 442.2,153.6 444.4,149.8 446.6,145.9 448.8,142.0 451.1,138.1 453.3,134.1 455.6,130.1 457.9,126.1 460.2,122.1 462.5,118.0 464.9,113.9 467.2,109.8 469.6,105.7 472.0,101.5 474.3,97.4 476.8,93.2 479.2,89.0 481.6,84.8 484.0,80.5 486.5,76.3"/>
<polyline points="380.1,46.7 384.4,53.4 388.7,59.6 393.0,65.3 397.2,70.6 401.3,75.4 405.5,79.9 409.6,84.0 413.6,87.8 417.7,91.2 421.7,94.4 425.7,97.3 429.7,99.9 433.7,102.2 437.6,104.3 441.6,106.2 445.5,108.0 449.4,109.5 453.3,110.8 457.1,112.0 461.0,113.0 464.9,113.9 468.7,114.7 472.5,115.3 476.4,115.9 480.2,116.3 484.0,116.7 487.7,117.0 491.5,117.2 495.3,117.3 499.0,117.4"/>
<polyline points="424.1,195.4 425.9,192.0 427.8,188.5 429.8,185.0 431.7,181.5 433.7,177.9 435.7,174.2 437.8,170.5 439.8,166.8 441.9,163.0 444.0,159.1 446.2,155.3 448.3,151.4 450.5,147.4 452.7,143.4 455.0,139.4 457.2,135.4 459.5,131.3 461.8,127.2 464.1,123.0 466.4,118.9 468.7,114.7 471.0,110.5 473.4,106.3 475.8,102.0 478.2,97.7 480.5,93.5 483.0,89.2 485.4,84.8 487.8,80.5 490.2,76.2"/>
<polyline points="382.8,44.8 387.1,51.5 391.4,57.6 395.6,63.2 399.8,68.4 403.9,73.1 408.0,77.5 412.1,81.5 416.2,85.2 420.2,88.5 424.2,91.5 428.2,94.3 432.2,96.8 436.1,99.0 440.1,101.0 444.0,102.8 447.9,104.4 451.8,105.8 455.6,107.0 459.5,108.1 463.4,109.0 467.2,109.8 471.0,110.5 474.9,111.0 478.7,111.5 482.5,111.9 486.3,112.2 490.0,112.4 493.8,112.5 497.5,112.6 501.3,112.7"/>
<polyline points="428.1,197.7 429.9,194.2 431.8,190.7 433.8,187.1 435.7,183.5 437.7,179.8 439.7,176.1 441.7,172.3 443.8,168.5 445.9,164.6 448.0,160.7 450.1,156.8 452.3,152.8 454.4,148.7 456.6,144.7 458.9,140.6 461.1,136.4 463.3,132.3 465.6,128.1 467.9,123.9 470.2,119.6 472.5,115.3 474.9,111.0 477.2,106.7 479.6,102.4 482.0,98.0 484.3,93.7 486.7,89.3 489.1,84.9 491.5,80.4 494.0,76.0"/>
<polyline points="385.5,43.0 389.8,49.5 394.1,55.6 398.3,61.1 402.4,66.2 406.5,70.9 410.6,75.1 414.7,79.0 418.7,82.6 422.7,85.8 426.7,88.7 430.7,91.3 434.6,93.7 438.6,95.8 442.5,97.7 446.4,99.3 450.3,100.8 454.2,102.1 458.0,103.2 461.9,104.2 465.7,105.0 469.6,105.7 473.4,106.3 477.2,106.7 481.0,107.1 484.8,107.4 488.6,107.6 492.4,107.8 496.1,107.9 499.8,107.9 503.6,107.9"/>
<polyline points="432.1,199.8 433.9,196.3 435.8,192.7 437.7,189.1 439.7,185.4 441.6,181.6 443.6,177.8 445.7,174.0 447.7,170.1 449.8,166.1 451.9,162.1 454.0,158.1 456.2,154.0 458.3,149.9 460.5,145.8 462.7,141.6 465.0,137.4 467.2,133.1 469.5,128.9 471.7,124.6 474.0,120.2 476.4,115.9 478.7,111.5 481.0,107.1 483.4,102.7 485.7,98.2 488.1,93.8 490.5,89.3 492.9,84.8 495.3,80.3 497.7,75.8"/>
<polyline points="388.3,41.1 392.5,47.6 396.7,53.5 400.9,59.0 405.0,64.0 409.1,68.6 413.2,72.7 417.3,76.5 421.3,79.9 425.3,83.0 429.2,85.8 433.2,88.3 437.1,90.6 441.0,92.5 445.0,94.3 448.8,95.8 452.7,97.2 456.6,98.4 460.5,99.4 464.3,100.2 468.1,100.9 472.0,101.5 475.8,102.0 479.6,102.4 483.4,102.7 487.2,102.9 490.9,103.0 494.7,103.1 498.4,103.2 502.2,103.2 505.9,103.2"/>
<polyline points="436.1,201.7 437.9,198.1 439.8,194.5 441.7,190.8 443.6,187.0 445.6,183.2 447.6,179.3 449.6,175.4 451.6,171.4 453.7,167.4 455.8,163.4 457.9,159.3 460.0,155.1 462.2,151.0 464.4,146.7 466.6,142.5 468.8,138.2 471.0,133.9 473.3,129.5 475.6,125.2 477.9,120.8 480.2,116.3 482.5,111.9 484.8,107.4 487.2,102.9 489.5,98.4 491.9,93.8 494.3,89.3 496.6,84.7 499.0,80.1 501.4,75.5"/>
<polyline points="391.0,39.2 395.2,45.6 399.4,51.5 403.6,56.9 407.7,61.8 411.8,66.3 415.8,70.3 419.8,74.0 423.8,77.3 427.8,80.3 431.8,82.9 435.7,85.3 439.6,87.4 443.5,89.3 447.4,90.9 451.3,92.3 455.2,93.6 459.0,94.6 462.9,95.5 466.7,96.3 470.5,96.9 474.3,97.4 478.2,97.7 482.0,98.0 485.7,98.2 489.5,98.4 493.3,98.5 497.0,98.5 500.8,98.5 504.5,98.4 508.2,98.4"/>
<polyline points="440.0,203.4 441.9,199.7 443.7,196.0 445.6,192.3 447.6,188.5 449.5,184.6 451.5,180.7 453.5,176.7 455.5,172.7 457.6,168.6 459.7,164.5 461.8,160.3 463.9,156.1 466.1,151.9 468.2,147.6 470.4,143.3 472.6,138.9 474.9,134.5 477.1,130.1 479.4,125.7 481.7,121.2 484.0,116.7 486.3,112.2 488.6,107.6 490.9,103.0 493.3,98.5 495.6,93.8 498.0,89.2 500.4,84.6 502.8,79.9 505.2,75.3"/>
<polyline points="393.8,37.3 398.0,43.7 402.1,49.5 406.2,54.8 410.3,59.6 414.4,64.0 418.4,67.9 422.4,71.5 426.4,74.7 430.4,77.5 434.3,80.1 438.2,82.3 442.1,84.3 446.0,86.0 449.9,87.5 453.8,88.8 457.6,89.9 461.5,90.9 465.3,91.7 469.1,92.3 472.9,92.8 476.8,93.2 480.5,93.5 484.3,93.7 488.1,93.8 491.9,93.8 495.6,93.8 499.4,93.8 503.1,93.7 506.8,93.7 510.5,93.6"/>
<polyline points="444.0,204.9 445.8,201.2 447.7,197.4 449.6,193.6 451.5,189.7 453.4,185.8 455.4,181.8 457.4,177.8 459.4,173.7 461.5,169.6 463.5,165.4 465.6,161.2 467.8,156.9 469.9,152.6 472.1,148.3 474.3,143.9 476.5,139.5 478.7,135.1 480.9,130.6 483.2,126.1 485.4,121.5 487.7,117.0 490.0,112.4 492.4,107.8 494.7,103.1 497.0,98.5 499.4,93.8 501.7,89.1 504.1,84.4 506.5,79.7 508.9,75.0"/>
<polyline points="396.5,35.5 400.7,41.7 404.8,47.5 408.9,52.7 413.0,57.4 417.0,61.7 421.0,65.5 425.0,68.9 429.0,72.0 432.9,74.7 436.8,77.2 440.7,79.3 444.6,81.2 448.5,82.8 452.4,84.1 456.2,85.3 460.1,86.3 463.9,87.1 467.7,87.8 471.6,88.3 475.4,88.7 479.2,89.0 483.0,89.2 486.7,89.3 490.5,89.3 494.3,89.3 498.0,89.2 501.7,89.1 505.5,89.0 509.2,88.9 512.8,88.7"/>
<polyline points="447.9,206.1 449.7,202.4 451.6,198.6 453.5,194.7 455.4,190.8 457.3,186.8 459.3,182.8 461.3,178.7 463.3,174.6 465.3,170.4 467.4,166.2 469.5,161.9 471.6,157.6 473.7,153.3 475.9,148.9 478.1,144.4 480.3,140.0 482.5,135.5 484.7,130.9 487.0,126.4 489.2,121.8 491.5,117.2 493.8,112.5 496.1,107.9 498.4,103.2 500.8,98.5 503.1,93.7 505.5,89.0 507.8,84.2 510.2,79.5 512.6,74.7"/>
<polyline points="399.3,33.6 403.4,39.8 407.5,45.4 411.6,50.6 415.7,55.2 419.7,59.3 423.7,63.1 427.6,66.4 431.6,69.4 435.5,72.0 439.4,74.3 443.3,76.3 447.1,78.0 451.0,79.5 454.9,80.7 458.7,81.8 462.5,82.7 466.4,83.3 470.2,83.9 474.0,84.3 477.8,84.6 481.6,84.8 485.4,84.8 489.1,84.9 492.9,84.8 496.6,84.7 500.4,84.6 504.1,84.4 507.8,84.2 511.5,84.1 515.2,83.9"/>
<polyline points="451.8,207.2 453.7,203.4 455.5,199.6 457.4,195.7 459.3,191.7 461.2,187.7 463.2,183.6 465.1,179.5 467.2,175.3 469.2,171.1 471.3,166.8 473.3,162.5 475.4,158.2 477.6,153.8 479.7,149.3 481.9,144.9 484.1,140.4 486.3,135.8 488.5,131.2 490.7,126.6 493.0,122.0 495.3,117.3 497.5,112.6 499.8,107.9 502.2,103.2 504.5,98.4 506.8,93.7 509.2,88.9 511.5,84.1 513.9,79.2 516.2,74.4"/>
<polyline points="402.0,31.7 406.2,37.8 410.3,43.4 414.3,48.4 418.3,53.0 422.3,57.0 426.3,60.6 430.2,63.9 434.1,66.7 438.0,69.2 441.9,71.4 445.8,73.2 449.7,74.8 453.5,76.2 457.4,77.3 461.2,78.3 465.0,79.0 468.8,79.6 472.6,80.0 476.4,80.3 480.2,80.5 484.0,80.5 487.8,80.5 491.5,80.4 495.3,80.3 499.0,80.1 502.8,79.9 506.5,79.7 510.2,79.5 513.9,79.2 517.5,79.0"/>
<polyline points="455.7,208.1 457.6,204.2 459.4,200.4 461.3,196.4 463.2,192.4 465.1,188.4 467.0,184.3 469.0,180.1 471.0,175.9 473.0,171.7 475.1,167.4 477.2,163.0 479.3,158.6 481.4,154.2 483.5,149.7 485.7,145.2 487.9,140.6 490.1,136.1 492.3,131.4 494.5,126.8 496.7,122.1 499.0,117.4 501.3,112.7 503.6,107.9 505.9,103.2 508.2,98.4 510.5,93.6 512.8,88.7 515.2,83.9 517.5,79.0 519.9,74.1"/>
<polyline points="404.8,29.8 408.9,35.9 413.0,41.4 417.0,46.3 421.0,50.7 425.0,54.7 428.9,58.2 432.8,61.3 436.7,64.0 440.6,66.4 444.5,68.4 448.4,70.2 452.2,71.7 456.0,72.9 459.9,73.9 463.7,74.7 467.5,75.3 471.3,75.8 475.1,76.1 478.9,76.3 482.7,76.3 486.5,76.3 490.2,76.2 494.0,76.0 497.7,75.8 501.4,75.5 505.2,75.3 508.9,75.0 512.6,74.7 516.2,74.4 519.9,74.1"/>
</g>
<g stroke="#1a3a1a" stroke-opacity="0.4" stroke-width="0.65"><line x1="333.5" y1="176.3" x2="406.0" y2="121.5" stroke="#000" stroke-width="0.7" /><line x1="406.0" y1="121.5" x2="515.0" y2="151.0" stroke="#000" stroke-width="0.7" /><line x1="406.0" y1="121.5" x2="404.6" y2="9.4" stroke="#000" stroke-width="0.7" /></g>
<line x1="333.5" y1="176.3" x2="325.0" y2="47.5" stroke="#222" stroke-width="1.0" />
<line x1="333.5" y1="176.3" x2="455.5" y2="217.9" stroke="#222" stroke-width="1.0" />
<line x1="455.5" y1="217.9" x2="515.0" y2="151.0" stroke="#222" stroke-width="1.0" />
<line x1="328.3" y1="176.3" x2="333.5" y2="176.3" stroke="#2a2a2a" stroke-width="0.9" />
<text x="324.6" y="180.4" text-anchor="end" font-size="11.3" font-family="'Liberation Sans', Arial, sans-serif" stroke="#141414" stroke-width="0.22" fill="#141414">0.10</text>
<line x1="326.7" y1="156.4" x2="332.2" y2="156.4" stroke="#2a2a2a" stroke-width="0.9" />
<text x="323.0" y="160.5" text-anchor="end" font-size="11.3" font-family="'Liberation Sans', Arial, sans-serif" stroke="#141414" stroke-width="0.22" fill="#141414">0.15</text>
<line x1="325.0" y1="135.9" x2="330.8" y2="135.9" stroke="#2a2a2a" stroke-width="0.9" />
<text x="321.3" y="140.0" text-anchor="end" font-size="11.3" font-family="'Liberation Sans', Arial, sans-serif" stroke="#141414" stroke-width="0.22" fill="#141414">0.20</text>
<line x1="323.3" y1="114.8" x2="329.4" y2="114.8" stroke="#2a2a2a" stroke-width="0.9" />
<text x="319.6" y="118.9" text-anchor="end" font-size="11.3" font-family="'Liberation Sans', Arial, sans-serif" stroke="#141414" stroke-width="0.22" fill="#141414">0.25</text>
<line x1="321.6" y1="93.0" x2="328.0" y2="93.0" stroke="#2a2a2a" stroke-width="0.9" />
<text x="317.9" y="97.1" text-anchor="end" font-size="11.3" font-family="'Liberation Sans', Arial, sans-serif" stroke="#141414" stroke-width="0.22" fill="#141414">0.30</text>
<line x1="319.8" y1="70.6" x2="326.5" y2="70.6" stroke="#2a2a2a" stroke-width="0.9" />
<text x="316.1" y="74.7" text-anchor="end" font-size="11.3" font-family="'Liberation Sans', Arial, sans-serif" stroke="#141414" stroke-width="0.22" fill="#141414">0.35</text>
<line x1="318.0" y1="47.5" x2="325.0" y2="47.5" stroke="#2a2a2a" stroke-width="0.9" />
<text x="314.3" y="51.6" text-anchor="end" font-size="11.3" font-family="'Liberation Sans', Arial, sans-serif" stroke="#141414" stroke-width="0.22" fill="#141414">0.40</text>
<line x1="333.5" y1="176.3" x2="328.3" y2="180.2" stroke="#2a2a2a" stroke-width="0.8" />
<text x="322.4" y="189.4" text-anchor="middle" font-size="11" font-family="'Liberation Sans', Arial, sans-serif" stroke="#141414" stroke-width="0.22" fill="#141414">0.0</text>
<line x1="343.4" y1="179.7" x2="340.9" y2="181.6" stroke="#2a2a2a" stroke-width="0.8" />
<line x1="353.6" y1="183.1" x2="348.5" y2="187.2" stroke="#2a2a2a" stroke-width="0.8" />
<text x="342.8" y="196.2" text-anchor="middle" font-size="11" font-family="'Liberation Sans', Arial, sans-serif" stroke="#141414" stroke-width="0.22" fill="#141414">0.1</text>
<line x1="363.9" y1="186.6" x2="361.4" y2="188.7" stroke="#2a2a2a" stroke-width="0.8" />
<line x1="374.4" y1="190.2" x2="369.5" y2="194.5" stroke="#2a2a2a" stroke-width="0.8" />
<text x="363.9" y="203.3" text-anchor="middle" font-size="11" font-family="'Liberation Sans', Arial, sans-serif" stroke="#141414" stroke-width="0.22" fill="#141414">0.2</text>
<line x1="385.1" y1="193.9" x2="382.7" y2="196.0" stroke="#2a2a2a" stroke-width="0.8" />
<line x1="396.1" y1="197.6" x2="391.3" y2="202.0" stroke="#2a2a2a" stroke-width="0.8" />
<text x="385.8" y="210.7" text-anchor="middle" font-size="11" font-family="'Liberation Sans', Arial, sans-serif" stroke="#141414" stroke-width="0.22" fill="#141414">0.3</text>
<line x1="407.2" y1="201.4" x2="404.9" y2="203.7" stroke="#2a2a2a" stroke-width="0.8" />
<line x1="418.6" y1="205.3" x2="414.0" y2="209.9" stroke="#2a2a2a" stroke-width="0.8" />
<text x="408.7" y="218.4" text-anchor="middle" font-size="11" font-family="'Liberation Sans', Arial, sans-serif" stroke="#141414" stroke-width="0.22" fill="#141414">0.4</text>
<line x1="430.3" y1="209.3" x2="428.0" y2="211.6" stroke="#2a2a2a" stroke-width="0.8" />
<line x1="442.1" y1="213.3" x2="437.7" y2="218.1" stroke="#2a2a2a" stroke-width="0.8" />
<text x="432.5" y="226.4" text-anchor="middle" font-size="11" font-family="'Liberation Sans', Arial, sans-serif" stroke="#141414" stroke-width="0.22" fill="#141414">0.5</text>
<line x1="454.2" y1="217.5" x2="452.1" y2="219.9" stroke="#2a2a2a" stroke-width="0.8" />
<line x1="455.5" y1="217.9" x2="462.4" y2="220.3" stroke="#2a2a2a" stroke-width="0.8" />
<text x="463.4" y="227.3" font-size="11.3" font-family="'Liberation Sans', Arial, sans-serif" stroke="#141414" stroke-width="0.22" fill="#141414">10</text>
<line x1="472.5" y1="198.8" x2="475.8" y2="199.9" stroke="#2a2a2a" stroke-width="0.8" />
<line x1="487.9" y1="181.4" x2="494.3" y2="183.4" stroke="#2a2a2a" stroke-width="0.8" />
<text x="495.8" y="190.8" font-size="11.3" font-family="'Liberation Sans', Arial, sans-serif" stroke="#141414" stroke-width="0.22" fill="#141414">20</text>
<line x1="502.0" y1="165.5" x2="505.1" y2="166.4" stroke="#2a2a2a" stroke-width="0.8" />
<line x1="515.0" y1="151.0" x2="521.0" y2="152.6" stroke="#2a2a2a" stroke-width="0.8" />
<text x="522.9" y="160.4" font-size="11.3" font-family="'Liberation Sans', Arial, sans-serif" stroke="#141414" stroke-width="0.22" fill="#141414">30</text>
<rect x="324.5" y="80.9" width="4.2" height="4.2" fill="#999" stroke="#333" stroke-width="1.1"/>
<circle cx="348.8" cy="66.1" r="2.5" fill="none" stroke="#e03030" stroke-width="1.2"/>
<polygon points="369.0,49.0 371.6,53.5 366.4,53.5" fill="none" stroke="#2030d0" stroke-width="1.2"/>
<polygon points="404.6,34.6 407.1,30.3 402.1,30.3" fill="none" stroke="#8a6a20" stroke-width="1.1"/>
<rect x="384.8" y="172.8" width="4.4" height="4.4" fill="none" stroke="#333" stroke-width="1.1"/>
<circle cx="406.6" cy="141.2" r="2.5" fill="none" stroke="#5a7060" stroke-width="1.1"/>
<polygon points="424.6,106.1 427.2,110.6 422.0,110.6" fill="none" stroke="#1a2ab0" stroke-width="1.2"/>
<polygon points="456.5,65.7 459.1,61.2 453.9,61.2" fill="none" stroke="#20d020" stroke-width="1.2"/>
<rect x="446.3" y="202.2" width="4.6" height="4.6" fill="none" stroke="#1a1a50" stroke-width="1.4"/>
<circle cx="466.8" cy="167.3" r="2.5" fill="none" stroke="#c83030" stroke-width="1.2"/>
<polygon points="483.2,134.9 485.8,139.4 480.6,139.4" fill="none" stroke="#1a3ac0" stroke-width="1.2"/>
<polygon points="513.5,82.7 516.1,78.2 510.9,78.2" fill="none" stroke="#70a020" stroke-width="1.1"/>
<rect x="41.6" y="3.5" width="123.0" height="23.7" fill="#fff" stroke="#c8c8c8" stroke-width="0.8"/><text x="103.1" y="12.7" text-anchor="middle" font-size="8.4" font-weight="bold" font-family="'Liberation Sans', Arial, sans-serif" stroke="#141414" stroke-width="0.22" fill="#0a0a0a">Fitted surface from proposed</text><text x="103.1" y="22.9" text-anchor="middle" font-size="8.4" font-weight="bold" font-family="'Liberation Sans', Arial, sans-serif" stroke="#141414" stroke-width="0.22" fill="#0a0a0a">impact force formula for F<tspan font-size="6.3" dy="2.2">peak</tspan></text>
<rect x="319.4" y="4.4" width="120.60000000000002" height="23.6" fill="#fff" stroke="#c8c8c8" stroke-width="0.8"/><text x="379.7" y="13.6" text-anchor="middle" font-size="8.4" font-weight="bold" font-family="'Liberation Sans', Arial, sans-serif" stroke="#141414" stroke-width="0.22" fill="#0a0a0a">Fitted surface from proposed</text><text x="379.7" y="23.8" text-anchor="middle" font-size="8.4" font-weight="bold" font-family="'Liberation Sans', Arial, sans-serif" stroke="#141414" stroke-width="0.22" fill="#0a0a0a">impact force formula for F<tspan font-size="6.3" dy="2.2">ave</tspan></text>
<rect x="178.3" y="9.6" width="79.09999999999997" height="35.4" fill="#fff" stroke="#c8c8c8" stroke-width="0.8"/>
<rect x="185.1" y="12.7" width="4.6" height="4.6" fill="none" stroke="#555" stroke-width="0.8"/>
<text x="197.4" y="17.6" font-size="7.3" textLength="54.8" lengthAdjust="spacingAndGlyphs" font-family="'Liberation Sans', Arial, sans-serif" stroke="#141414" stroke-width="0.22" fill="#141414">Data points at 10t</text>
<circle cx="187.4" cy="23.6" r="2.9" fill="none" stroke="#e04040" stroke-width="0.8"/>
<text x="197.4" y="26.2" font-size="7.3" textLength="54.8" lengthAdjust="spacingAndGlyphs" font-family="'Liberation Sans', Arial, sans-serif" stroke="#141414" stroke-width="0.22" fill="#141414">Data points at 20t</text>
<polygon points="187.4,28.8 190.7,34.5 184.1,34.5" fill="none" stroke="#3a3ae0" stroke-width="0.8"/>
<text x="197.4" y="34.8" font-size="7.3" textLength="54.8" lengthAdjust="spacingAndGlyphs" font-family="'Liberation Sans', Arial, sans-serif" stroke="#141414" stroke-width="0.22" fill="#141414">Data points at 30t</text>
<polygon points="187.4,44.2 190.7,38.5 184.1,38.5" fill="none" stroke="#30d030" stroke-width="0.8"/>
<text x="197.4" y="43.4" font-size="7.3" textLength="54.8" lengthAdjust="spacingAndGlyphs" font-family="'Liberation Sans', Arial, sans-serif" stroke="#141414" stroke-width="0.22" fill="#141414">Data points at 40t</text>
<rect x="442.4" y="13.6" width="97.20000000000005" height="42.8" fill="#fff" stroke="#c8c8c8" stroke-width="0.8"/>
<rect x="451.2" y="18.0" width="3.9" height="3.9" fill="none" stroke="#555" stroke-width="0.8"/>
<text x="465.6" y="23.1" font-size="8.5" font-family="'Liberation Sans', Arial, sans-serif" stroke="#141414" stroke-width="0.22" fill="#141414">Data points at 10t</text>
<circle cx="453.2" cy="30.4" r="2.5" fill="none" stroke="#e04040" stroke-width="0.8"/>
<text x="465.6" y="33.5" font-size="8.5" font-family="'Liberation Sans', Arial, sans-serif" stroke="#141414" stroke-width="0.22" fill="#141414">Data points at 20t</text>
<polygon points="453.2,38.1 456.0,42.9 450.4,42.9" fill="none" stroke="#3a3ae0" stroke-width="0.8"/>
<text x="465.6" y="44.1" font-size="8.5" font-family="'Liberation Sans', Arial, sans-serif" stroke="#141414" stroke-width="0.22" fill="#141414">Data points at 30t</text>
<polygon points="453.2,54.3 456.0,49.5 450.4,49.5" fill="none" stroke="#30d030" stroke-width="0.8"/>
<text x="465.6" y="54.5" font-size="8.5" font-family="'Liberation Sans', Arial, sans-serif" stroke="#141414" stroke-width="0.22" fill="#141414">Data points at 40t</text>
<text transform="translate(17.3,178.5) rotate(-92.8)" font-size="10.5" font-family="'Liberation Sans', Arial, sans-serif" stroke="#141414" stroke-width="0.22" fill="#141414">Peak impact force F<tspan font-size="7" dy="2">peak</tspan><tspan dy="-2"> (MN)</tspan></text>
<text transform="translate(295.8,188.6) rotate(-93.2)" font-size="10.6" font-family="'Liberation Sans', Arial, sans-serif" stroke="#141414" stroke-width="0.22" fill="#141414">Average impact force F<tspan font-size="7" dy="2">ave</tspan><tspan dy="-2"> (MN)</tspan></text>
<text transform="translate(39.8,202.4) rotate(16.7) skewX(-3)" font-size="11" font-family="'Liberation Sans', Arial, sans-serif" stroke="#141414" stroke-width="0.22" fill="#141414">Impact angle <tspan font-style="italic">θ</tspan> (rad)</text>
<text transform="translate(318.7,202.4) rotate(16.7) skewX(-3)" font-size="11" font-family="'Liberation Sans', Arial, sans-serif" stroke="#141414" stroke-width="0.22" fill="#141414">Impact angle <tspan font-style="italic">θ</tspan> (rad)</text>
<text transform="translate(205.4,228.2) rotate(-46.2)" font-size="10.9" font-family="'Liberation Sans', Arial, sans-serif" stroke="#141414" stroke-width="0.22" fill="#141414">Vehicle mass (tons)</text>
<text transform="translate(486.5,230.5) rotate(-45.5)" font-size="10.4" font-family="'Liberation Sans', Arial, sans-serif" stroke="#141414" stroke-width="0.22" fill="#141414">Vehicle mass (tons)</text>
<text x="136.6" y="255" text-anchor="middle" font-size="12" font-family="'Liberation Serif', 'Times New Roman', serif" fill="#0a0a0a">(<tspan font-weight="bold">a</tspan>)</text>
<text x="420.5" y="255" text-anchor="middle" font-size="12" font-family="'Liberation Serif', 'Times New Roman', serif" fill="#0a0a0a">(<tspan font-weight="bold">b</tspan>)</text>
</svg></body></html>
